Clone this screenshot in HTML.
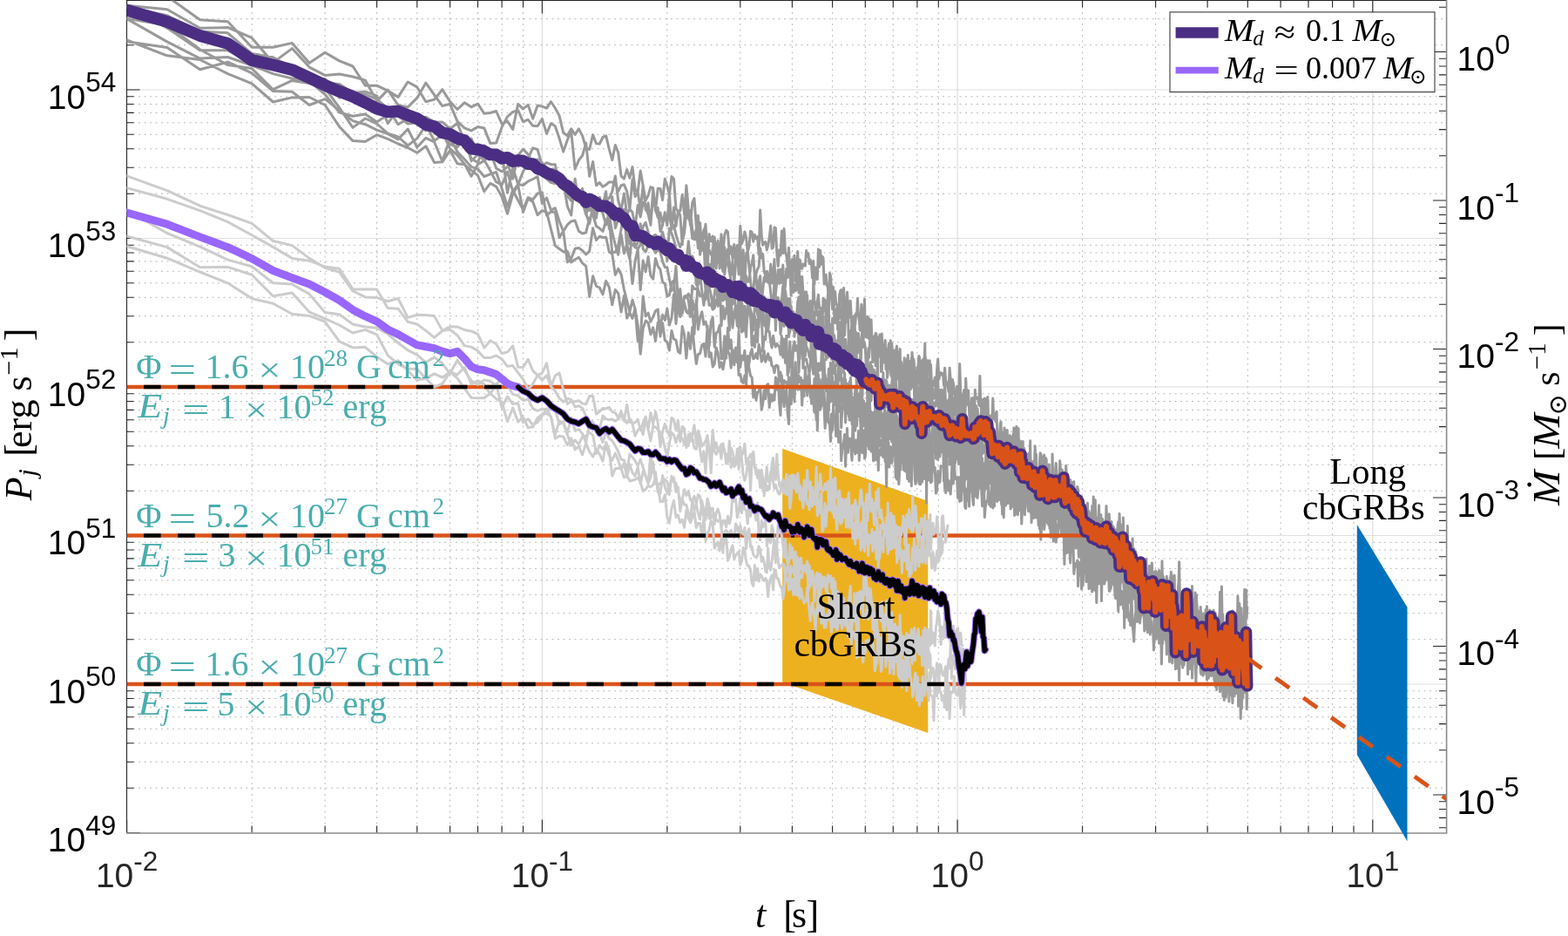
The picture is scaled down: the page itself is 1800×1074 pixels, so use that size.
<!DOCTYPE html><html><head><meta charset="utf-8"><title>Jet power vs time</title><style>html,body{margin:0;padding:0;background:#fff;overflow:hidden}svg{display:block}</style></head><body>
<svg width="1800" height="1074" viewBox="0 0 1800 1074">
<rect width="1800" height="1074" fill="#fff"/>
<defs><clipPath id="ax"><rect x="145.5" y="0.5" width="1514.5" height="955"/></clipPath></defs>
<path d="M622.4 1V955M1099.1 1V955M1575.8 1V955M146 785H1659M146 614.5H1659M146 444H1659M146 273.5H1659M146 103H1659" stroke="#dfdfdf" stroke-width="1.2" fill="none"/>
<path d="M289.1 1V955M373.1 1V955M432.6 1V955M478.8 1V955M516.6 1V955M548.5 1V955M576.1 1V955M600.5 1V955M765.9 1V955M849.8 1V955M909.4 1V955M955.6 1V955M993.3 1V955M1025.3 1V955M1052.9 1V955M1077.3 1V955M1242.6 1V955M1326.6 1V955M1386.1 1V955M1432.3 1V955M1470.1 1V955M1502 1V955M1529.6 1V955M1554 1V955M146 904.2H1659M146 874.2H1659M146 852.8H1659M146 836.3H1659M146 822.8H1659M146 811.4H1659M146 801.5H1659M146 792.8H1659M146 733.7H1659M146 703.7H1659M146 682.3H1659M146 665.8H1659M146 652.3H1659M146 640.9H1659M146 631H1659M146 622.3H1659M146 563.2H1659M146 533.2H1659M146 511.8H1659M146 495.3H1659M146 481.8H1659M146 470.4H1659M146 460.5H1659M146 451.8H1659M146 392.7H1659M146 362.7H1659M146 341.3H1659M146 324.8H1659M146 311.3H1659M146 299.9H1659M146 290H1659M146 281.3H1659M146 222.2H1659M146 192.2H1659M146 170.8H1659M146 154.3H1659M146 140.8H1659M146 129.4H1659M146 119.5H1659M146 110.8H1659M146 51.7H1659M146 21.7H1659" stroke="#b9b9b9" stroke-width="1" stroke-dasharray="2 4.5" fill="none"/>
<path d="M145.6 955.5v-15M145.6 0.5v15M289.1 955.5v-8M289.1 0.5v8M373.1 955.5v-8M373.1 0.5v8M432.6 955.5v-8M432.6 0.5v8M478.8 955.5v-8M478.8 0.5v8M516.6 955.5v-8M516.6 0.5v8M548.5 955.5v-8M548.5 0.5v8M576.1 955.5v-8M576.1 0.5v8M600.5 955.5v-8M600.5 0.5v8M622.4 955.5v-15M622.4 0.5v15M765.9 955.5v-8M765.9 0.5v8M849.8 955.5v-8M849.8 0.5v8M909.4 955.5v-8M909.4 0.5v8M955.6 955.5v-8M955.6 0.5v8M993.3 955.5v-8M993.3 0.5v8M1025.3 955.5v-8M1025.3 0.5v8M1052.9 955.5v-8M1052.9 0.5v8M1077.3 955.5v-8M1077.3 0.5v8M1099.1 955.5v-15M1099.1 0.5v15M1242.6 955.5v-8M1242.6 0.5v8M1326.6 955.5v-8M1326.6 0.5v8M1386.1 955.5v-8M1386.1 0.5v8M1432.3 955.5v-8M1432.3 0.5v8M1470.1 955.5v-8M1470.1 0.5v8M1502 955.5v-8M1502 0.5v8M1529.6 955.5v-8M1529.6 0.5v8M1554 955.5v-8M1554 0.5v8M1575.8 955.5v-15M1575.8 0.5v15M145.5 955.5h15M145.5 904.2h8M145.5 874.2h8M145.5 852.8h8M145.5 836.3h8M145.5 822.8h8M145.5 811.4h8M145.5 801.5h8M145.5 792.8h8M145.5 785h15M145.5 733.7h8M145.5 703.7h8M145.5 682.3h8M145.5 665.8h8M145.5 652.3h8M145.5 640.9h8M145.5 631h8M145.5 622.3h8M145.5 614.5h15M145.5 563.2h8M145.5 533.2h8M145.5 511.8h8M145.5 495.3h8M145.5 481.8h8M145.5 470.4h8M145.5 460.5h8M145.5 451.8h8M145.5 444h15M145.5 392.7h8M145.5 362.7h8M145.5 341.3h8M145.5 324.8h8M145.5 311.3h8M145.5 299.9h8M145.5 290h8M145.5 281.3h8M145.5 273.5h15M145.5 222.2h8M145.5 192.2h8M145.5 170.8h8M145.5 154.3h8M145.5 140.8h8M145.5 129.4h8M145.5 119.5h8M145.5 110.8h8M145.5 103h15M145.5 51.7h8M145.5 21.7h8M1660 949.8h-8M1660 938.4h-8M1660 928.5h-8M1660 919.8h-8M1660 912h-15M1660 860.7h-8M1660 830.6h-8M1660 809.3h-8M1660 792.8h-8M1660 779.3h-8M1660 767.9h-8M1660 758h-8M1660 749.3h-8M1660 741.5h-15M1660 690.2h-8M1660 660.1h-8M1660 638.8h-8M1660 622.3h-8M1660 608.8h-8M1660 597.4h-8M1660 587.5h-8M1660 578.8h-8M1660 571h-15M1660 519.7h-8M1660 489.6h-8M1660 468.3h-8M1660 451.8h-8M1660 438.3h-8M1660 426.9h-8M1660 417h-8M1660 408.3h-8M1660 400.5h-15M1660 349.2h-8M1660 319.1h-8M1660 297.8h-8M1660 281.3h-8M1660 267.8h-8M1660 256.4h-8M1660 246.5h-8M1660 237.8h-8M1660 230h-15M1660 178.7h-8M1660 148.6h-8M1660 127.3h-8M1660 110.8h-8M1660 97.3h-8M1660 85.9h-8M1660 76h-8M1660 67.3h-8M1660 59.5h-15M1660 8.2h-8" stroke="#262626" stroke-width="1.1" fill="none"/>
<path d="M145.5 956V0.5H1660" stroke="#262626" stroke-width="1.1" fill="none"/>
<path d="M145 956H1660.6V0" stroke="#8a8a8a" stroke-width="1.6" fill="none"/>
<g clip-path="url(#ax)" fill="none" stroke-linejoin="round" stroke-linecap="round">
<polygon points="898.2,514.7 1065.3,574.9 1065.3,841 898.2,782.7" fill="#edb120" stroke="none"/>
<path d="M145.6 -2.6L191.8 -4.2L229.6 22.8L261.5 24.8L289.1 54.2L313.5 54.2L335.3 49.4L355.1 72.3L373.1 60.3L389.6 69.9L405.0 76.0L419.3 98.3L432.6 98.2L445.2 104.1L457.0 111.4L468.2 94.0L478.8 99.9L488.9 116.8L498.6 114.1L507.8 102.7L516.6 116.5L525.0 125.5L533.2 117.8L541.0 122.8L548.5 119.1L555.8 130.3L562.8 129.5L569.6 127.5L576.1 142.2L582.5 139.1L588.7 148.4L594.7 119.4L600.5 124.9L606.2 120.4L611.7 136.2L617.1 120.9L622.4 122.1L627.5 124.2L632.5 116.7L637.3 124.0L642.1 132.8L646.7 152.3L651.3 155.8L655.7 147.7L660.1 154.4L664.4 147.9L668.6 155.9L672.7 169.8L676.7 171.4L680.6 154.8L684.5 164.7L688.3 165.0L692.0 157.5L695.7 155.9L699.3 171.1L702.8 183.6L706.3 166.5L709.7 175.0L713.1 202.2L716.4 205.1L719.7 194.6L722.9 204.2L726.0 191.5L729.1 217.0L732.2 220.3L735.2 195.9L738.2 213.3L741.2 230.0L744.1 224.4L746.9 214.6L749.7 215.7L752.5 242.0L755.2 216.3L758.0 216.4L760.6 229.5L763.3 205.2L765.9 213.5L768.4 223.7L771.0 202.6L773.5 205.3L776.0 239.7L778.4 242.1L780.8 242.1L783.2 223.4L785.6 246.3L787.9 212.8L790.3 239.2L792.5 258.4L794.8 232.3L797.0 227.5L799.3 260.2L801.4 247.2L803.6 292.2L805.8 278.9L807.9 272.8L810.0 257.3L812.1 291.9L814.1 286.8L816.2 291.5L818.2 295.5L820.2 272.0L822.2 298.3L824.1 300.0L826.1 297.8L828.0 268.8L829.9 290.8L831.8 269.4L833.7 264.3L835.5 266.3L837.4 291.7L839.2 282.7L841.0 297.0L842.8 280.4L844.6 302.6L846.3 281.6L848.1 296.9L849.8 259.3L851.5 279.8L853.2 274.9L854.9 265.9L856.6 272.6L858.3 289.3L859.9 282.6L861.6 265.3L863.2 266.5L864.8 277.2L866.4 269.3L868.0 273.8L869.6 271.7L871.1 292.1L872.7 241.1L874.2 269.8L875.7 281.3L877.2 278.7L878.8 277.6L880.3 286.9L881.7 281.7L883.2 272.8L884.7 259.1L886.1 285.2L887.6 284.0L889.0 260.9L890.4 261.7L891.8 290.4L893.2 305.4L894.6 286.8L896.0 293.1L897.4 265.0L898.8 290.6L900.1 262.6L901.5 289.6L902.8 293.2L904.1 305.4L905.5 284.3L906.8 315.2L908.1 308.6L909.4 297.6L910.7 311.2L912.0 293.2L913.2 322.8L914.5 309.0L915.8 288.5L917.0 336.0L918.2 298.0L919.5 306.1L920.7 308.2L921.9 303.1L923.1 303.2L924.4 305.1L925.6 287.5L926.7 294.2L927.9 290.7L929.1 302.6L930.3 298.1L931.5 303.2L932.6 319.0L933.8 299.4L934.9 326.3L936.1 307.1L937.2 307.4L938.3 320.5L939.4 285.9L940.6 306.3L941.7 287.2L942.8 303.3L943.9 294.2L945.0 295.9L946.1 326.0L947.1 319.4L948.2 315.3L949.3 328.0L950.3 327.6L951.4 359.4L952.5 313.4L953.5 316.7L954.5 331.6L955.6 343.1L956.6 329.6L957.6 349.8L958.7 334.4L959.7 348.7L960.7 350.1L961.7 351.7L962.7 353.8L963.7 342.1L964.7 333.6L965.7 332.6L966.7 338.1L967.6 357.5L968.6 330.4L969.6 365.5L970.6 352.9L971.5 346.9L972.5 335.3L973.4 347.4L974.4 362.7L975.3 364.3L976.3 345.2L977.2 362.9L978.1 379.3L979.0 363.7L980.0 370.4L980.9 362.1L981.8 372.2L982.7 359.4L983.6 361.5L984.5 342.5L985.4 361.9L986.3 367.5L987.2 379.1L988.1 362.2L989.0 349.2L989.9 373.6L990.7 369.1L991.6 374.2L992.5 343.3L993.3 386.2L994.2 386.9L995.1 371.9L995.9 363.2L996.8 388.3L997.6 365.6L998.4 383.3L999.3 372.3L1000.1 366.9L1001.0 393.3L1001.8 415.6L1002.6 401.5L1003.4 386.0L1004.3 392.3L1005.1 382.6L1005.9 382.8L1006.7 412.7L1007.5 406.3L1008.3 386.9L1009.1 400.8L1009.9 391.4L1010.7 394.7L1011.5 401.5L1012.3 383.1L1013.1 406.9L1013.9 396.4L1014.6 400.1L1015.4 397.4L1016.2 390.4L1017.0 424.0L1017.7 400.6L1018.5 433.6L1019.2 429.4L1020.0 396.0L1020.8 393.9L1021.5 420.5L1022.3 390.7L1023.0 412.6L1023.8 393.9L1024.5 432.3L1025.3 418.5L1026.0 401.7L1026.7 417.1L1027.5 440.0L1028.2 418.4L1028.9 435.9L1029.6 411.0L1030.4 416.2L1031.1 426.7L1031.8 428.9L1032.5 423.1L1033.2 400.4L1033.9 435.5L1034.6 454.9L1035.4 426.4L1036.1 446.2L1036.8 446.8L1037.5 440.2L1038.2 411.2L1038.8 416.2L1039.5 443.3L1040.2 422.7L1040.9 418.7L1041.6 411.3L1042.3 448.8L1043.0 425.4L1043.6 422.8L1044.3 438.4L1045.0 422.0L1045.7 446.4L1046.3 441.2L1047.0 404.5L1047.7 411.6L1048.3 436.9L1049.0 412.8L1049.6 421.2L1050.3 453.4L1050.9 444.7L1051.6 431.9L1052.3 433.0L1052.9 421.3L1053.5 427.9L1054.2 418.7L1054.8 408.4L1055.5 410.0L1056.1 447.5L1056.7 415.6L1057.4 414.0L1058.0 417.7L1058.6 439.6L1059.3 412.9L1059.9 423.3L1060.5 411.4L1061.1 418.1L1061.8 393.9L1062.4 457.0L1063.0 440.5L1063.6 421.8L1064.2 438.1L1064.8 413.8L1065.5 425.1L1066.1 426.5L1066.7 426.9L1067.3 413.7L1067.9 463.7L1068.5 418.3L1069.7 444.7L1070.9 437.9L1072.0 442.5L1073.2 433.2L1074.4 450.2L1075.6 424.0L1076.7 412.0L1077.9 435.1L1079.0 429.6L1080.1 427.6L1081.3 430.1L1082.4 428.5L1083.5 442.2L1084.6 422.2L1085.7 436.6L1086.8 439.2L1087.9 443.3L1089.0 449.5L1090.1 422.3L1091.2 434.9L1092.3 462.3L1093.3 435.6L1094.4 439.7L1095.4 446.6L1096.5 462.8L1097.5 464.3L1098.6 443.3L1099.6 458.2L1100.6 460.5L1101.7 417.5L1102.7 449.9L1103.7 458.8L1104.7 463.8L1105.7 454.7L1106.7 447.6L1107.7 475.2L1108.7 460.3L1109.7 454.5L1110.7 447.8L1111.7 448.2L1112.6 472.5L1113.6 489.3L1114.6 472.8L1115.5 469.9L1116.5 482.7L1117.4 465.1L1118.4 487.2L1119.3 447.2L1120.2 457.8L1121.2 456.6L1122.1 456.1L1123.0 459.2L1123.9 465.4L1124.9 431.4L1125.8 464.2L1126.7 470.5L1127.6 487.9L1128.5 468.9L1129.4 467.3L1130.3 485.5L1131.2 457.8L1132.0 474.0L1132.9 460.0L1133.8 455.4L1134.7 480.8L1135.6 477.1L1136.4 478.4L1137.3 500.7L1138.1 476.5L1139.0 480.7L1139.8 457.1L1140.7 481.0L1141.5 474.1L1142.4 481.7L1143.2 484.1L1144.1 472.2L1144.9 505.4L1145.7 531.7L1146.5 511.2L1147.4 504.4L1148.2 486.2L1149.0 483.8L1149.8 506.5L1150.6 523.0L1151.4 513.7L1152.2 510.9L1153.0 490.9L1153.8 498.0L1154.6 504.3L1155.4 502.4L1156.2 515.7L1157.0 502.1L1157.8 508.3L1158.5 515.3L1159.3 505.0L1160.1 503.4L1160.9 501.4L1161.6 507.4L1162.4 517.8L1163.1 497.9L1163.9 539.6L1164.7 514.0L1165.4 522.3L1166.2 521.2L1166.9 537.4L1167.7 532.4L1168.4 509.5L1169.1 522.6L1169.9 524.8L1170.6 533.5L1171.3 506.1L1172.1 517.5L1172.8 540.5L1173.5 515.6L1174.2 506.4L1175.0 538.5L1175.7 514.4L1176.4 518.5L1177.1 558.3L1177.8 523.5L1178.5 540.1L1179.2 533.1L1179.9 546.8L1180.6 539.2L1181.3 543.4L1182.0 532.9L1182.7 526.5L1183.4 530.2L1184.1 532.3L1184.8 534.1L1185.5 544.6L1186.1 529.7L1186.8 540.4L1187.5 531.2L1188.2 511.7L1188.8 533.1L1189.5 543.6L1190.2 545.0L1190.8 542.4L1191.5 545.8L1192.2 540.4L1192.8 545.0L1193.5 567.4L1194.1 526.9L1194.8 520.5L1195.4 538.6L1196.1 540.5L1196.7 540.1L1197.4 538.3L1198.0 569.7L1198.7 541.6L1199.3 564.7L1199.9 554.6L1200.6 539.3L1201.2 578.8L1201.8 559.8L1202.5 550.0L1203.1 544.8L1203.7 538.8L1204.3 563.0L1205.0 566.6L1205.6 560.9L1206.2 563.4L1206.8 543.9L1207.4 557.7L1208.1 520.9L1208.7 550.6L1209.3 551.1L1209.9 566.8L1210.5 567.6L1211.1 565.4L1211.7 573.6L1212.3 552.8L1213.2 564.2L1214.1 559.0L1215.0 551.3L1215.9 578.3L1216.7 555.2L1217.6 563.9L1218.5 545.8L1219.4 540.4L1220.2 551.6L1221.1 572.9L1221.9 587.4L1222.8 549.7L1223.7 555.2L1224.5 583.5L1225.4 544.0L1226.2 562.2L1227.0 576.8L1227.9 573.6L1228.7 550.4L1229.5 573.3L1230.4 561.6L1231.2 573.8L1232.0 573.0L1232.8 577.4L1233.6 580.1L1234.4 607.7L1235.2 578.4L1236.0 582.1L1236.8 568.1L1237.6 577.7L1238.4 575.2L1239.2 590.8L1240.0 590.1L1240.8 571.8L1241.6 591.4L1242.4 586.4L1243.1 601.5L1243.9 602.8L1244.7 603.7L1245.4 637.8L1246.2 583.2L1247.0 596.9L1247.7 629.2L1248.5 577.3L1249.2 600.1L1250.0 606.3L1250.7 609.5L1251.5 607.3L1252.2 593.0L1253.0 608.6L1253.7 602.6L1254.4 603.0L1255.2 599.3L1255.9 605.9L1256.6 613.8L1257.3 615.3L1258.1 603.8L1258.8 613.1L1259.5 620.6L1260.2 598.3L1260.9 618.8L1261.6 609.2L1262.4 630.0L1263.1 618.6L1263.8 590.4L1264.5 608.2L1265.2 606.3L1265.8 634.7L1266.5 624.5L1267.2 604.6L1267.9 608.7L1268.6 627.7L1269.3 607.8L1270.0 614.7L1270.7 619.7L1271.3 609.7L1272.0 616.1L1272.7 613.9L1273.3 625.5L1274.0 631.4L1274.7 615.2L1275.3 611.8L1276.0 633.3L1276.7 627.0L1277.3 612.1L1278.0 609.7L1278.6 626.7L1279.3 629.4L1279.9 650.7L1280.6 635.1L1281.2 629.1L1281.9 623.7L1282.5 614.5L1283.2 638.5L1283.8 619.2L1284.4 633.3L1285.1 625.9L1285.7 640.2L1286.3 601.8L1286.9 627.1L1287.6 666.2L1288.2 621.3L1288.8 664.6L1289.4 594.1L1290.1 628.9L1290.7 631.2L1291.3 629.0L1291.9 648.2L1292.5 627.5L1293.1 645.8L1293.7 656.1L1294.3 612.5L1294.9 642.6L1295.5 643.8L1296.1 629.6L1296.9 671.7L1297.7 660.4L1298.5 642.5L1299.3 653.0L1300.1 645.6L1300.9 651.3L1301.7 647.8L1302.4 666.8L1303.2 666.5L1304.0 661.0L1304.8 656.9L1305.5 672.7L1306.3 651.9L1307.0 655.2L1307.8 652.1L1308.6 666.9L1309.3 659.8L1310.1 669.6L1310.8 656.1L1311.5 684.9L1312.3 659.0L1313.0 658.8L1313.8 671.6L1314.5 680.7L1315.2 660.8L1315.9 668.3L1316.7 678.8L1317.4 679.5L1318.1 684.6L1318.8 687.8L1319.5 649.2L1320.3 657.5L1321.0 667.3L1321.7 671.0L1322.4 645.9L1323.1 689.1L1323.8 657.1L1324.5 670.5L1325.2 704.4L1325.9 679.7L1326.6 655.0L1327.3 695.5L1327.9 690.4L1328.6 663.8L1329.3 676.2L1330.0 697.9L1330.7 693.9L1331.3 704.2L1332.0 694.5L1332.7 665.4L1333.4 681.0L1334.0 643.8L1334.7 687.9L1335.4 679.3L1336.0 666.6L1336.7 691.3L1337.3 692.1L1338.0 688.8L1338.6 668.0L1339.3 670.4L1339.9 663.4L1340.6 688.9L1341.2 675.7L1341.9 680.6L1342.5 675.4L1343.1 675.5L1343.8 661.1L1344.4 685.0L1345.0 659.8L1345.7 666.6L1346.3 690.9L1346.9 675.2L1347.6 687.5L1348.2 660.2L1348.8 695.2L1349.4 681.8L1350.0 696.1L1350.6 711.0L1351.3 691.2L1351.9 710.1L1352.5 674.0L1353.1 666.2L1353.7 644.7L1354.3 682.7L1354.9 695.7L1355.5 702.8L1356.3 703.6L1357.0 707.6L1357.7 696.9L1358.5 693.2L1359.2 710.0L1360.0 701.4L1360.7 676.4L1361.4 677.6L1362.1 690.1L1362.9 698.3L1363.6 690.2L1364.3 689.7L1365.0 692.1L1365.8 707.8L1366.5 691.7L1367.2 690.8L1367.9 700.0L1368.6 672.5L1369.3 733.2L1370.0 692.9L1370.7 691.3L1371.4 708.9L1372.1 679.9L1372.8 717.9L1373.5 685.5L1374.1 698.0L1374.8 701.0L1375.5 704.3L1376.2 728.4L1376.9 712.4L1377.5 713.1L1378.2 696.4L1378.9 713.0L1379.6 722.7L1380.2 723.1L1380.9 705.0L1381.6 712.5L1382.2 703.8L1382.9 716.3L1383.5 723.3L1384.2 721.1L1384.8 706.9L1385.5 695.7L1386.1 732.2L1386.8 730.8L1387.4 718.5L1388.1 712.9L1388.7 700.1L1389.3 724.5L1390.0 704.4L1390.6 702.7L1391.2 715.2L1391.9 747.6L1392.5 704.6L1393.1 700.2L1393.8 705.0L1394.4 736.9L1395.0 703.0L1395.6 726.6L1396.2 731.5L1396.8 715.5L1397.5 727.2L1398.1 728.5L1398.7 708.0L1399.3 715.8L1399.9 724.6L1400.5 679.4L1401.1 717.7L1401.7 697.0L1402.4 673.0L1403.1 711.2L1403.9 704.9L1404.6 744.8L1405.3 729.8L1406.0 716.3L1406.7 722.6L1407.4 736.1L1408.1 718.4L1408.8 723.2L1409.5 706.1L1410.2 713.1L1410.9 704.2L1411.6 715.4L1412.2 724.4L1412.9 728.0L1413.6 709.1L1414.3 728.0L1415.0 700.9L1415.6 702.7L1416.3 738.8L1417.0 721.1L1417.6 734.3L1418.3 717.2L1419.0 754.5L1419.6 704.2L1420.3 727.6L1420.9 683.9L1421.6 705.5L1422.3 703.4L1422.9 692.6L1423.6 740.1L1424.2 730.6L1424.9 697.8L1425.5 726.4L1426.1 732.2L1426.8 708.5L1427.4 716.7L1428.0 717.8L1428.7 676.4L1429.3 704.2L1429.9 725.7L1430.6 676.8L1431.2 709.0L1431.8 696.6M145.6 6.2L191.8 10.8L229.6 32.3L261.5 31.5L289.1 43.4L313.5 71.9L335.3 55.6L355.1 77.1L373.1 86.4L389.6 85.0L405.0 88.0L419.3 92.1L432.6 116.1L445.2 103.1L457.0 120.6L468.2 122.9L478.8 112.4L488.9 95.1L498.6 108.8L507.8 121.6L516.6 119.3L525.0 139.2L533.2 146.9L541.0 149.9L548.5 145.6L555.8 146.9L562.8 164.4L569.6 164.0L576.1 145.9L582.5 133.9L588.7 128.4L594.7 126.7L600.5 139.7L606.2 137.4L611.7 144.2L617.1 144.8L622.4 136.4L627.5 153.4L632.5 141.6L637.3 144.7L642.1 158.8L646.7 174.1L651.3 160.7L655.7 150.9L660.1 193.9L664.4 183.8L668.6 178.5L672.7 164.0L676.7 202.3L680.6 185.5L684.5 212.8L688.3 209.5L692.0 214.3L695.7 212.0L699.3 208.9L702.8 208.9L706.3 210.6L709.7 219.5L713.1 212.7L716.4 211.8L719.7 219.6L722.9 240.0L726.0 206.0L729.1 225.6L732.2 220.3L735.2 240.4L738.2 212.0L741.2 241.0L744.1 232.9L746.9 258.4L749.7 217.2L752.5 239.5L755.2 238.3L758.0 265.4L760.6 258.2L763.3 243.6L765.9 258.8L768.4 221.4L771.0 263.6L773.5 237.9L776.0 259.6L778.4 242.5L780.8 246.7L783.2 280.6L785.6 254.6L787.9 224.2L790.3 250.8L792.5 241.2L794.8 263.9L797.0 272.0L799.3 262.5L801.4 284.8L803.6 281.6L805.8 275.5L807.9 264.2L810.0 260.0L812.1 311.2L814.1 268.5L816.2 276.9L818.2 271.1L820.2 301.8L822.2 278.9L824.1 294.9L826.1 304.7L828.0 298.1L829.9 311.6L831.8 283.8L833.7 296.9L835.5 286.0L837.4 301.8L839.2 315.7L841.0 299.5L842.8 326.4L844.6 301.4L846.3 287.0L848.1 315.0L849.8 280.4L851.5 335.0L853.2 286.8L854.9 342.4L856.6 316.5L858.3 323.2L859.9 323.1L861.6 306.9L863.2 302.2L864.8 292.8L866.4 319.4L868.0 313.9L869.6 308.7L871.1 305.9L872.7 284.8L874.2 296.0L875.7 291.6L877.2 311.2L878.8 317.0L880.3 311.2L881.7 315.4L883.2 325.5L884.7 303.0L886.1 324.9L887.6 312.9L889.0 297.6L890.4 337.0L891.8 323.5L893.2 309.4L894.6 325.4L896.0 309.0L897.4 324.5L898.8 304.1L900.1 337.0L901.5 328.1L902.8 308.2L904.1 318.6L905.5 305.1L906.8 306.3L908.1 339.1L909.4 307.6L910.7 335.5L912.0 326.3L913.2 333.7L914.5 332.3L915.8 293.2L917.0 313.4L918.2 318.9L919.5 345.4L920.7 317.2L921.9 334.5L923.1 372.0L924.4 335.1L925.6 334.9L926.7 359.6L927.9 360.4L929.1 352.0L930.3 345.2L931.5 354.9L932.6 378.0L933.8 320.8L934.9 345.8L936.1 347.6L937.2 361.4L938.3 346.2L939.4 338.3L940.6 353.7L941.7 353.1L942.8 354.3L943.9 374.0L945.0 342.3L946.1 356.3L947.1 344.1L948.2 365.4L949.3 386.4L950.3 338.2L951.4 341.6L952.5 327.9L953.5 335.0L954.5 338.1L955.6 355.0L956.6 335.3L957.6 361.2L958.7 370.7L959.7 359.3L960.7 353.3L961.7 378.2L962.7 361.0L963.7 337.3L964.7 365.0L965.7 355.1L966.7 384.9L967.6 380.6L968.6 357.5L969.6 385.0L970.6 363.6L971.5 369.4L972.5 335.3L973.4 349.7L974.4 403.2L975.3 379.3L976.3 383.6L977.2 382.0L978.1 366.9L979.0 401.6L980.0 373.0L980.9 368.6L981.8 384.4L982.7 396.0L983.6 393.9L984.5 405.1L985.4 382.4L986.3 390.0L987.2 395.8L988.1 419.2L989.0 394.9L989.9 370.0L990.7 378.7L991.6 398.5L992.5 393.2L993.3 398.7L994.2 418.3L995.1 431.8L995.9 419.6L996.8 399.7L997.6 410.3L998.4 394.5L999.3 379.5L1000.1 397.8L1001.0 394.3L1001.8 400.2L1002.6 394.7L1003.4 391.7L1004.3 391.8L1005.1 419.7L1005.9 396.5L1006.7 410.1L1007.5 391.2L1008.3 397.5L1009.1 409.1L1009.9 384.0L1010.7 394.1L1011.5 426.4L1012.3 425.3L1013.1 401.5L1013.9 416.1L1014.6 404.7L1015.4 413.5L1016.2 406.4L1017.0 422.9L1017.7 420.4L1018.5 419.9L1019.2 400.9L1020.0 415.9L1020.8 413.0L1021.5 398.4L1022.3 422.8L1023.0 431.4L1023.8 422.4L1024.5 449.1L1025.3 423.1L1026.0 426.4L1026.7 417.4L1027.5 406.0L1028.2 406.8L1028.9 400.4L1029.6 397.1L1030.4 434.5L1031.1 403.8L1031.8 422.6L1032.5 449.8L1033.2 442.4L1033.9 447.1L1034.6 415.5L1035.4 431.7L1036.1 447.5L1036.8 443.6L1037.5 423.8L1038.2 410.8L1038.8 435.2L1039.5 451.4L1040.2 426.9L1040.9 421.0L1041.6 441.8L1042.3 407.5L1043.0 441.7L1043.6 443.5L1044.3 424.9L1045.0 414.2L1045.7 440.2L1046.3 410.8L1047.0 444.1L1047.7 421.2L1048.3 411.7L1049.0 422.9L1049.6 455.2L1050.3 433.7L1050.9 427.1L1051.6 440.1L1052.3 444.7L1052.9 426.5L1053.5 439.2L1054.2 438.2L1054.8 431.4L1055.5 434.2L1056.1 455.6L1056.7 417.3L1057.4 443.0L1058.0 445.1L1058.6 417.0L1059.3 459.3L1059.9 430.2L1060.5 443.3L1061.1 430.4L1061.8 439.1L1062.4 410.1L1063.0 443.1L1063.6 435.5L1064.2 449.1L1064.8 459.1L1065.5 458.9L1066.1 439.9L1066.7 438.5L1067.3 434.5L1067.9 450.1L1068.5 454.3L1069.7 455.1L1070.9 446.0L1072.0 457.2L1073.2 451.7L1074.4 454.9L1075.6 432.2L1076.7 433.1L1077.9 488.2L1079.0 447.4L1080.1 464.5L1081.3 447.2L1082.4 467.5L1083.5 458.6L1084.6 440.9L1085.7 464.2L1086.8 462.5L1087.9 459.8L1089.0 489.3L1090.1 450.1L1091.2 456.6L1092.3 486.2L1093.3 474.1L1094.4 457.3L1095.4 463.5L1096.5 476.9L1097.5 458.3L1098.6 501.5L1099.6 459.4L1100.6 457.1L1101.7 452.5L1102.7 473.6L1103.7 472.0L1104.7 472.9L1105.7 455.2L1106.7 471.3L1107.7 482.0L1108.7 434.3L1109.7 456.1L1110.7 464.0L1111.7 464.4L1112.6 467.8L1113.6 462.4L1114.6 478.4L1115.5 457.1L1116.5 456.5L1117.4 473.5L1118.4 483.9L1119.3 494.1L1120.2 477.1L1121.2 473.4L1122.1 468.6L1123.0 480.9L1123.9 483.7L1124.9 481.9L1125.8 480.4L1126.7 468.6L1127.6 468.8L1128.5 458.5L1129.4 463.7L1130.3 456.9L1131.2 458.8L1132.0 486.7L1132.9 485.8L1133.8 504.4L1134.7 476.0L1135.6 492.3L1136.4 499.0L1137.3 493.1L1138.1 490.4L1139.0 491.5L1139.8 531.9L1140.7 502.0L1141.5 535.0L1142.4 501.4L1143.2 507.2L1144.1 525.5L1144.9 516.6L1145.7 505.6L1146.5 503.1L1147.4 520.6L1148.2 489.5L1149.0 528.6L1149.8 497.7L1150.6 496.1L1151.4 504.6L1152.2 544.4L1153.0 502.4L1153.8 504.2L1154.6 509.7L1155.4 509.0L1156.2 524.4L1157.0 518.8L1157.8 515.1L1158.5 503.7L1159.3 499.6L1160.1 528.8L1160.9 512.6L1161.6 526.1L1162.4 532.8L1163.1 518.4L1163.9 504.7L1164.7 553.5L1165.4 535.3L1166.2 522.6L1166.9 503.4L1167.7 536.7L1168.4 534.1L1169.1 563.0L1169.9 540.3L1170.6 542.8L1171.3 511.8L1172.1 534.4L1172.8 522.9L1173.5 563.2L1174.2 517.7L1175.0 518.0L1175.7 529.6L1176.4 538.9L1177.1 556.2L1177.8 534.4L1178.5 521.0L1179.2 537.5L1179.9 525.7L1180.6 554.0L1181.3 545.4L1182.0 538.7L1182.7 505.7L1183.4 556.3L1184.1 535.5L1184.8 536.1L1185.5 538.9L1186.1 541.8L1186.8 550.5L1187.5 555.0L1188.2 574.5L1188.8 571.8L1189.5 549.9L1190.2 565.2L1190.8 571.3L1191.5 538.6L1192.2 549.8L1192.8 558.8L1193.5 529.9L1194.1 519.8L1194.8 558.6L1195.4 563.9L1196.1 540.3L1196.7 555.9L1197.4 563.3L1198.0 541.7L1198.7 560.3L1199.3 536.4L1199.9 540.6L1200.6 525.5L1201.2 564.7L1201.8 566.5L1202.5 557.4L1203.1 545.0L1203.7 547.8L1204.3 533.0L1205.0 567.5L1205.6 593.0L1206.2 551.1L1206.8 560.3L1207.4 549.9L1208.1 558.6L1208.7 576.7L1209.3 561.5L1209.9 577.0L1210.5 556.3L1211.1 585.2L1211.7 537.2L1212.3 531.5L1213.2 547.1L1214.1 569.4L1215.0 560.5L1215.9 556.9L1216.7 528.8L1217.6 540.7L1218.5 567.7L1219.4 579.7L1220.2 565.6L1221.1 584.9L1221.9 560.8L1222.8 560.7L1223.7 586.8L1224.5 556.5L1225.4 577.1L1226.2 596.6L1227.0 576.1L1227.9 579.5L1228.7 564.3L1229.5 553.1L1230.4 582.5L1231.2 575.4L1232.0 573.1L1232.8 580.4L1233.6 600.3L1234.4 605.0L1235.2 580.3L1236.0 587.2L1236.8 611.4L1237.6 595.4L1238.4 588.5L1239.2 595.2L1240.0 583.0L1240.8 596.0L1241.6 590.7L1242.4 603.6L1243.1 592.9L1243.9 612.9L1244.7 591.0L1245.4 579.3L1246.2 602.2L1247.0 628.4L1247.7 599.9L1248.5 598.5L1249.2 627.2L1250.0 586.6L1250.7 597.8L1251.5 598.4L1252.2 593.5L1253.0 625.3L1253.7 608.8L1254.4 621.6L1255.2 570.1L1255.9 604.0L1256.6 613.2L1257.3 573.8L1258.1 605.8L1258.8 621.2L1259.5 607.4L1260.2 595.9L1260.9 600.0L1261.6 579.7L1262.4 647.5L1263.1 620.4L1263.8 596.6L1264.5 616.2L1265.2 601.3L1265.8 614.2L1266.5 610.0L1267.2 604.7L1267.9 650.0L1268.6 600.4L1269.3 606.0L1270.0 580.4L1270.7 602.0L1271.3 621.8L1272.0 600.6L1272.7 623.3L1273.3 604.9L1274.0 618.9L1274.7 629.5L1275.3 624.6L1276.0 649.4L1276.7 622.9L1277.3 630.8L1278.0 621.5L1278.6 610.9L1279.3 620.3L1279.9 617.3L1280.6 631.0L1281.2 649.0L1281.9 616.0L1282.5 617.1L1283.2 601.5L1283.8 637.1L1284.4 630.2L1285.1 659.5L1285.7 650.6L1286.3 623.2L1286.9 621.6L1287.6 631.8L1288.2 626.6L1288.8 618.5L1289.4 630.2L1290.1 621.1L1290.7 635.3L1291.3 671.8L1291.9 643.8L1292.5 626.1L1293.1 630.1L1293.7 661.8L1294.3 639.1L1294.9 665.7L1295.5 624.4L1296.1 656.4L1296.9 632.2L1297.7 662.2L1298.5 650.8L1299.3 663.3L1300.1 670.2L1300.9 662.7L1301.7 652.5L1302.4 633.6L1303.2 656.9L1304.0 664.2L1304.8 658.5L1305.5 692.3L1306.3 660.2L1307.0 674.3L1307.8 657.0L1308.6 649.2L1309.3 652.6L1310.1 679.5L1310.8 643.8L1311.5 652.3L1312.3 647.8L1313.0 695.6L1313.8 706.4L1314.5 673.1L1315.2 653.3L1315.9 664.1L1316.7 681.5L1317.4 678.5L1318.1 669.7L1318.8 674.6L1319.5 652.5L1320.3 668.8L1321.0 689.8L1321.7 676.1L1322.4 680.3L1323.1 683.6L1323.8 700.6L1324.5 680.6L1325.2 693.9L1325.9 688.8L1326.6 678.9L1327.3 663.0L1327.9 657.1L1328.6 676.0L1329.3 691.9L1330.0 659.8L1330.7 678.1L1331.3 665.5L1332.0 684.5L1332.7 675.2L1333.4 693.9L1334.0 661.7L1334.7 675.8L1335.4 661.7L1336.0 677.9L1336.7 698.6L1337.3 678.3L1338.0 676.2L1338.6 668.7L1339.3 661.3L1339.9 683.5L1340.6 677.3L1341.2 702.3L1341.9 685.0L1342.5 679.0L1343.1 681.8L1343.8 677.6L1344.4 656.3L1345.0 677.9L1345.7 687.1L1346.3 714.5L1346.9 697.7L1347.6 700.7L1348.2 692.4L1348.8 719.1L1349.4 683.6L1350.0 714.0L1350.6 730.5L1351.3 689.1L1351.9 718.4L1352.5 717.9L1353.1 717.7L1353.7 680.6L1354.3 675.1L1354.9 709.1L1355.5 705.1L1356.3 710.5L1357.0 696.5L1357.7 708.6L1358.5 692.5L1359.2 706.2L1360.0 686.1L1360.7 717.7L1361.4 703.6L1362.1 716.8L1362.9 728.5L1363.6 726.7L1364.3 703.7L1365.0 717.7L1365.8 683.9L1366.5 734.5L1367.2 727.3L1367.9 700.5L1368.6 727.4L1369.3 714.2L1370.0 706.5L1370.7 737.9L1371.4 704.7L1372.1 714.9L1372.8 756.5L1373.5 746.3L1374.1 693.8L1374.8 746.6L1375.5 721.9L1376.2 704.9L1376.9 724.8L1377.5 718.1L1378.2 741.9L1378.9 749.6L1379.6 749.2L1380.2 724.1L1380.9 728.3L1381.6 728.4L1382.2 728.1L1382.9 757.6L1383.5 732.1L1384.2 710.5L1384.8 723.4L1385.5 732.4L1386.1 712.8L1386.8 724.7L1387.4 717.0L1388.1 716.1L1388.7 725.0L1389.3 758.0L1390.0 705.2L1390.6 728.4L1391.2 726.8L1391.9 734.6L1392.5 737.3L1393.1 731.3L1393.8 719.8L1394.4 720.6L1395.0 755.0L1395.6 713.7L1396.2 712.8L1396.8 751.3L1397.5 721.7L1398.1 751.8L1398.7 709.2L1399.3 746.6L1399.9 714.6L1400.5 743.5L1401.1 755.2L1401.7 693.5L1402.4 723.6L1403.1 750.7L1403.9 723.8L1404.6 728.1L1405.3 733.5L1406.0 738.9L1406.7 769.3L1407.4 740.2L1408.1 719.1L1408.8 729.5L1409.5 709.9L1410.2 748.1L1410.9 763.2L1411.6 734.8L1412.2 770.8L1412.9 755.9L1413.6 730.4L1414.3 781.1L1415.0 751.1L1415.6 744.1L1416.3 760.0L1417.0 713.7L1417.6 725.8L1418.3 738.7L1419.0 723.3L1419.6 717.8L1420.3 756.0L1420.9 755.3L1421.6 722.4L1422.3 719.0L1422.9 746.2L1423.6 761.0L1424.2 740.2L1424.9 745.8L1425.5 744.1L1426.1 744.6L1426.8 748.1L1427.4 734.8L1428.0 721.8L1428.7 778.7L1429.3 754.2L1429.9 728.9L1430.6 724.1L1431.2 725.5L1431.8 737.1M145.6 8.0L191.8 17.8L229.6 35.9L261.5 37.8L289.1 61.6L313.5 65.7L335.3 77.8L355.1 89.2L373.1 94.9L389.6 96.4L405.0 106.6L419.3 105.2L432.6 109.9L445.2 141.7L457.0 125.3L468.2 133.2L478.8 137.2L488.9 134.2L498.6 140.3L507.8 140.1L516.6 147.7L525.0 141.5L533.2 161.8L541.0 159.3L548.5 173.9L555.8 170.0L562.8 171.9L569.6 172.5L576.1 182.0L582.5 187.0L588.7 205.2L594.7 178.3L600.5 171.1L606.2 177.1L611.7 186.2L617.1 182.8L622.4 190.4L627.5 192.8L632.5 194.8L637.3 194.0L642.1 203.5L646.7 208.3L651.3 236.5L655.7 247.0L660.1 205.3L664.4 232.1L668.6 231.3L672.7 246.4L676.7 233.0L680.6 246.4L684.5 239.4L688.3 237.5L692.0 238.5L695.7 229.8L699.3 227.4L702.8 219.8L706.3 202.0L709.7 230.3L713.1 241.5L716.4 222.0L719.7 245.4L722.9 239.9L726.0 243.4L729.1 260.7L732.2 235.4L735.2 248.8L738.2 232.4L741.2 237.8L744.1 246.0L746.9 257.6L749.7 225.2L752.5 240.5L755.2 249.6L758.0 244.1L760.6 256.0L763.3 250.3L765.9 252.4L768.4 246.4L771.0 262.0L773.5 258.3L776.0 269.5L778.4 276.9L780.8 283.4L783.2 277.4L785.6 267.5L787.9 242.2L790.3 250.8L792.5 254.1L794.8 273.6L797.0 274.5L799.3 274.9L801.4 263.9L803.6 255.7L805.8 287.4L807.9 278.4L810.0 320.6L812.1 323.3L814.1 303.2L816.2 314.7L818.2 284.3L820.2 299.9L822.2 308.0L824.1 275.9L826.1 308.1L828.0 297.2L829.9 273.4L831.8 315.0L833.7 298.6L835.5 301.2L837.4 312.2L839.2 323.3L841.0 323.4L842.8 322.5L844.6 300.0L846.3 291.6L848.1 305.3L849.8 309.0L851.5 310.5L853.2 320.3L854.9 324.7L856.6 291.2L858.3 288.2L859.9 305.8L861.6 322.5L863.2 337.1L864.8 334.2L866.4 312.6L868.0 316.6L869.6 341.9L871.1 323.1L872.7 316.8L874.2 349.1L875.7 332.5L877.2 318.3L878.8 323.0L880.3 318.8L881.7 324.2L883.2 322.0L884.7 335.6L886.1 349.7L887.6 349.5L889.0 320.2L890.4 339.7L891.8 361.6L893.2 341.5L894.6 367.7L896.0 345.1L897.4 343.6L898.8 361.3L900.1 356.1L901.5 333.5L902.8 343.8L904.1 349.3L905.5 353.0L906.8 342.5L908.1 362.3L909.4 357.0L910.7 370.8L912.0 377.6L913.2 366.2L914.5 381.6L915.8 372.7L917.0 370.6L918.2 380.9L919.5 389.5L920.7 376.9L921.9 369.5L923.1 373.1L924.4 408.4L925.6 364.5L926.7 338.9L927.9 376.3L929.1 376.4L930.3 373.9L931.5 370.3L932.6 392.0L933.8 368.7L934.9 379.0L936.1 392.8L937.2 368.8L938.3 383.9L939.4 376.5L940.6 387.6L941.7 382.6L942.8 393.4L943.9 422.5L945.0 404.0L946.1 401.1L947.1 374.9L948.2 391.9L949.3 397.3L950.3 400.5L951.4 393.4L952.5 397.7L953.5 408.0L954.5 412.2L955.6 370.4L956.6 428.7L957.6 384.8L958.7 393.6L959.7 410.9L960.7 419.6L961.7 406.5L962.7 378.1L963.7 392.4L964.7 369.9L965.7 378.2L966.7 402.0L967.6 378.3L968.6 412.1L969.6 421.9L970.6 416.6L971.5 415.3L972.5 397.2L973.4 399.7L974.4 397.9L975.3 427.0L976.3 423.5L977.2 379.8L978.1 422.7L979.0 394.1L980.0 419.5L980.9 395.6L981.8 417.3L982.7 381.3L983.6 423.5L984.5 415.2L985.4 414.4L986.3 432.8L987.2 416.0L988.1 423.7L989.0 416.3L989.9 435.4L990.7 429.2L991.6 427.7L992.5 418.9L993.3 424.5L994.2 416.8L995.1 437.3L995.9 411.9L996.8 434.6L997.6 424.9L998.4 437.6L999.3 415.6L1000.1 459.8L1001.0 437.1L1001.8 432.5L1002.6 430.9L1003.4 451.5L1004.3 443.7L1005.1 466.4L1005.9 442.4L1006.7 455.9L1007.5 457.6L1008.3 459.6L1009.1 467.7L1009.9 448.7L1010.7 461.8L1011.5 435.9L1012.3 448.9L1013.1 439.8L1013.9 430.6L1014.6 451.7L1015.4 473.2L1016.2 435.9L1017.0 445.0L1017.7 448.0L1018.5 467.5L1019.2 461.8L1020.0 471.7L1020.8 461.0L1021.5 444.4L1022.3 480.5L1023.0 463.4L1023.8 460.9L1024.5 444.2L1025.3 483.7L1026.0 471.3L1026.7 442.6L1027.5 448.2L1028.2 432.6L1028.9 449.0L1029.6 460.2L1030.4 468.6L1031.1 447.1L1031.8 466.9L1032.5 449.2L1033.2 453.4L1033.9 435.3L1034.6 420.8L1035.4 468.0L1036.1 457.8L1036.8 434.3L1037.5 467.1L1038.2 455.4L1038.8 437.2L1039.5 474.4L1040.2 470.7L1040.9 463.1L1041.6 464.7L1042.3 444.7L1043.0 441.6L1043.6 446.6L1044.3 462.4L1045.0 480.1L1045.7 477.8L1046.3 471.5L1047.0 495.1L1047.7 460.6L1048.3 458.3L1049.0 457.7L1049.6 478.9L1050.3 453.5L1050.9 478.5L1051.6 448.1L1052.3 469.8L1052.9 455.7L1053.5 445.5L1054.2 455.2L1054.8 461.0L1055.5 460.6L1056.1 445.2L1056.7 471.3L1057.4 442.5L1058.0 432.5L1058.6 459.1L1059.3 485.9L1059.9 473.1L1060.5 459.4L1061.1 453.3L1061.8 420.2L1062.4 425.6L1063.0 468.9L1063.6 450.4L1064.2 453.9L1064.8 459.5L1065.5 445.9L1066.1 445.1L1066.7 460.0L1067.3 448.6L1067.9 451.4L1068.5 472.3L1069.7 441.9L1070.9 482.3L1072.0 462.3L1073.2 462.1L1074.4 466.1L1075.6 444.2L1076.7 441.1L1077.9 475.2L1079.0 478.1L1080.1 457.5L1081.3 453.4L1082.4 482.3L1083.5 479.1L1084.6 445.0L1085.7 472.4L1086.8 504.4L1087.9 476.0L1089.0 458.7L1090.1 478.5L1091.2 493.4L1092.3 467.7L1093.3 461.4L1094.4 488.6L1095.4 480.6L1096.5 489.5L1097.5 495.5L1098.6 445.5L1099.6 468.9L1100.6 496.3L1101.7 456.7L1102.7 476.4L1103.7 465.8L1104.7 486.4L1105.7 486.0L1106.7 469.6L1107.7 458.0L1108.7 504.8L1109.7 486.5L1110.7 495.3L1111.7 500.8L1112.6 504.7L1113.6 478.6L1114.6 478.2L1115.5 486.1L1116.5 481.3L1117.4 474.5L1118.4 481.1L1119.3 482.8L1120.2 465.2L1121.2 469.7L1122.1 474.5L1123.0 477.7L1123.9 480.8L1124.9 489.1L1125.8 500.4L1126.7 491.2L1127.6 519.7L1128.5 474.6L1129.4 490.4L1130.3 495.2L1131.2 506.4L1132.0 492.3L1132.9 461.8L1133.8 492.5L1134.7 481.3L1135.6 511.8L1136.4 497.7L1137.3 481.1L1138.1 502.9L1139.0 517.8L1139.8 501.6L1140.7 504.6L1141.5 547.2L1142.4 518.3L1143.2 511.5L1144.1 501.4L1144.9 502.1L1145.7 520.6L1146.5 533.3L1147.4 554.1L1148.2 513.5L1149.0 539.9L1149.8 516.3L1150.6 512.7L1151.4 522.2L1152.2 541.9L1153.0 507.1L1153.8 524.7L1154.6 502.2L1155.4 506.7L1156.2 493.6L1157.0 534.9L1157.8 522.3L1158.5 542.8L1159.3 507.5L1160.1 535.8L1160.9 535.2L1161.6 530.6L1162.4 515.5L1163.1 521.8L1163.9 490.9L1164.7 498.6L1165.4 534.2L1166.2 523.4L1166.9 489.2L1167.7 525.0L1168.4 525.1L1169.1 491.4L1169.9 537.0L1170.6 553.2L1171.3 540.7L1172.1 528.8L1172.8 521.4L1173.5 523.2L1174.2 546.8L1175.0 535.1L1175.7 543.2L1176.4 525.2L1177.1 537.0L1177.8 529.7L1178.5 542.2L1179.2 557.3L1179.9 554.1L1180.6 547.0L1181.3 519.9L1182.0 542.4L1182.7 533.1L1183.4 550.5L1184.1 545.8L1184.8 537.9L1185.5 548.6L1186.1 536.8L1186.8 532.2L1187.5 570.4L1188.2 522.0L1188.8 523.9L1189.5 562.8L1190.2 561.4L1190.8 549.3L1191.5 537.1L1192.2 567.9L1192.8 563.4L1193.5 565.9L1194.1 555.5L1194.8 571.1L1195.4 561.2L1196.1 540.6L1196.7 532.8L1197.4 558.0L1198.0 552.4L1198.7 522.1L1199.3 552.3L1199.9 579.2L1200.6 541.9L1201.2 562.6L1201.8 551.1L1202.5 547.5L1203.1 556.7L1203.7 544.7L1204.3 544.1L1205.0 549.5L1205.6 568.1L1206.2 564.0L1206.8 553.4L1207.4 555.0L1208.1 566.4L1208.7 543.1L1209.3 552.1L1209.9 553.6L1210.5 558.1L1211.1 582.6L1211.7 578.0L1212.3 570.0L1213.2 544.2L1214.1 560.1L1215.0 576.7L1215.9 563.7L1216.7 571.8L1217.6 569.8L1218.5 567.1L1219.4 559.8L1220.2 592.5L1221.1 556.6L1221.9 553.6L1222.8 560.2L1223.7 534.3L1224.5 547.5L1225.4 564.9L1226.2 566.8L1227.0 555.5L1227.9 572.5L1228.7 554.4L1229.5 587.4L1230.4 580.3L1231.2 608.1L1232.0 554.7L1232.8 552.6L1233.6 574.6L1234.4 568.9L1235.2 566.5L1236.0 594.1L1236.8 558.6L1237.6 561.7L1238.4 602.2L1239.2 609.9L1240.0 611.5L1240.8 603.7L1241.6 570.2L1242.4 582.9L1243.1 596.9L1243.9 588.2L1244.7 609.8L1245.4 586.2L1246.2 598.0L1247.0 601.8L1247.7 615.4L1248.5 617.4L1249.2 591.1L1250.0 589.4L1250.7 596.5L1251.5 595.1L1252.2 589.1L1253.0 624.0L1253.7 580.5L1254.4 616.8L1255.2 596.5L1255.9 586.9L1256.6 630.9L1257.3 601.2L1258.1 605.9L1258.8 593.9L1259.5 636.5L1260.2 622.8L1260.9 615.5L1261.6 584.0L1262.4 606.0L1263.1 635.1L1263.8 625.6L1264.5 630.8L1265.2 609.4L1265.8 595.6L1266.5 608.3L1267.2 625.2L1267.9 628.6L1268.6 608.5L1269.3 613.1L1270.0 594.0L1270.7 603.3L1271.3 605.1L1272.0 621.9L1272.7 612.6L1273.3 589.7L1274.0 608.5L1274.7 610.1L1275.3 635.1L1276.0 598.6L1276.7 638.9L1277.3 620.5L1278.0 608.5L1278.6 605.5L1279.3 607.5L1279.9 636.6L1280.6 631.1L1281.2 658.1L1281.9 631.8L1282.5 632.2L1283.2 623.1L1283.8 598.8L1284.4 623.9L1285.1 589.6L1285.7 608.3L1286.3 625.9L1286.9 651.9L1287.6 615.4L1288.2 607.0L1288.8 632.0L1289.4 628.6L1290.1 621.3L1290.7 631.6L1291.3 634.3L1291.9 635.9L1292.5 651.6L1293.1 636.6L1293.7 652.1L1294.3 603.5L1294.9 629.6L1295.5 642.0L1296.1 657.2L1296.9 624.9L1297.7 644.8L1298.5 656.1L1299.3 632.0L1300.1 630.7L1300.9 672.6L1301.7 629.6L1302.4 636.5L1303.2 660.3L1304.0 633.5L1304.8 675.7L1305.5 675.7L1306.3 657.6L1307.0 666.8L1307.8 666.8L1308.6 666.7L1309.3 665.9L1310.1 697.1L1310.8 664.4L1311.5 700.4L1312.3 660.6L1313.0 658.1L1313.8 672.4L1314.5 647.6L1315.2 690.7L1315.9 641.5L1316.7 689.5L1317.4 700.1L1318.1 685.4L1318.8 658.8L1319.5 686.2L1320.3 656.7L1321.0 668.2L1321.7 700.0L1322.4 660.1L1323.1 687.2L1323.8 685.2L1324.5 669.3L1325.2 693.0L1325.9 682.4L1326.6 714.1L1327.3 657.7L1327.9 670.4L1328.6 693.5L1329.3 697.3L1330.0 656.1L1330.7 654.5L1331.3 700.7L1332.0 663.0L1332.7 668.6L1333.4 662.4L1334.0 720.3L1334.7 659.6L1335.4 702.7L1336.0 677.7L1336.7 668.2L1337.3 695.1L1338.0 687.4L1338.6 679.4L1339.3 695.6L1339.9 682.2L1340.6 702.5L1341.2 687.0L1341.9 713.2L1342.5 687.4L1343.1 702.9L1343.8 697.4L1344.4 690.3L1345.0 659.5L1345.7 692.5L1346.3 712.5L1346.9 695.6L1347.6 688.2L1348.2 732.8L1348.8 682.1L1349.4 710.8L1350.0 703.5L1350.6 709.2L1351.3 699.8L1351.9 686.5L1352.5 704.9L1353.1 722.8L1353.7 673.3L1354.3 705.8L1354.9 690.2L1355.5 690.4L1356.3 696.1L1357.0 726.3L1357.7 736.7L1358.5 697.2L1359.2 716.1L1360.0 714.0L1360.7 719.3L1361.4 707.7L1362.1 714.2L1362.9 691.9L1363.6 689.4L1364.3 698.0L1365.0 709.2L1365.8 684.8L1366.5 702.5L1367.2 705.1L1367.9 743.3L1368.6 686.0L1369.3 688.3L1370.0 713.6L1370.7 707.1L1371.4 723.4L1372.1 720.2L1372.8 716.4L1373.5 682.4L1374.1 729.6L1374.8 718.5L1375.5 728.5L1376.2 728.1L1376.9 750.0L1377.5 723.6L1378.2 759.8L1378.9 702.4L1379.6 736.3L1380.2 716.0L1380.9 757.0L1381.6 726.9L1382.2 732.8L1382.9 737.8L1383.5 726.4L1384.2 699.4L1384.8 747.4L1385.5 722.4L1386.1 732.5L1386.8 732.7L1387.4 712.2L1388.1 744.8L1388.7 745.5L1389.3 762.5L1390.0 748.4L1390.6 747.6L1391.2 727.4L1391.9 736.3L1392.5 723.9L1393.1 747.7L1393.8 756.8L1394.4 742.4L1395.0 752.9L1395.6 728.2L1396.2 747.7L1396.8 761.1L1397.5 732.9L1398.1 738.8L1398.7 740.7L1399.3 751.8L1399.9 703.7L1400.5 747.3L1401.1 715.8L1401.7 757.2L1402.4 764.7L1403.1 784.6L1403.9 752.9L1404.6 729.5L1405.3 750.3L1406.0 741.6L1406.7 775.2L1407.4 720.7L1408.1 755.2L1408.8 752.3L1409.5 760.6L1410.2 762.6L1410.9 740.2L1411.6 741.2L1412.2 744.8L1412.9 743.2L1413.6 756.8L1414.3 751.7L1415.0 753.5L1415.6 736.7L1416.3 733.2L1417.0 751.0L1417.6 746.7L1418.3 758.6L1419.0 719.8L1419.6 759.4L1420.3 744.9L1420.9 748.4L1421.6 757.8L1422.3 752.5L1422.9 734.1L1423.6 747.1L1424.2 754.7L1424.9 742.6L1425.5 762.1L1426.1 764.9L1426.8 710.0L1427.4 759.3L1428.0 760.3L1428.7 754.4L1429.3 754.8L1429.9 741.2L1430.6 755.8L1431.2 749.8L1431.8 739.3M145.6 7.1L191.8 32.1L229.6 57.8L261.5 57.8L289.1 72.2L313.5 74.6L335.3 83.8L355.1 91.8L373.1 90.5L389.6 112.2L405.0 107.8L419.3 108.3L432.6 113.9L445.2 124.3L457.0 142.7L468.2 136.5L478.8 133.8L488.9 135.2L498.6 147.7L507.8 154.8L516.6 150.9L525.0 166.0L533.2 162.4L541.0 181.9L548.5 186.6L555.8 166.8L562.8 174.0L569.6 193.1L576.1 196.8L582.5 191.3L588.7 177.6L594.7 190.2L600.5 183.9L606.2 181.6L611.7 169.9L617.1 171.5L622.4 190.2L627.5 186.7L632.5 188.7L637.3 188.7L642.1 212.2L646.7 217.8L651.3 220.5L655.7 209.2L660.1 219.7L664.4 223.2L668.6 217.5L672.7 233.3L676.7 241.5L680.6 239.6L684.5 234.9L688.3 229.2L692.0 245.0L695.7 258.0L699.3 251.9L702.8 289.8L706.3 289.3L709.7 281.8L713.1 263.1L716.4 240.1L719.7 285.0L722.9 297.4L726.0 263.4L729.1 283.2L732.2 285.6L735.2 280.9L738.2 259.8L741.2 255.3L744.1 266.3L746.9 283.0L749.7 270.8L752.5 269.3L755.2 283.8L758.0 276.0L760.6 266.3L763.3 276.8L765.9 299.3L768.4 262.0L771.0 268.0L773.5 275.1L776.0 284.7L778.4 291.4L780.8 287.5L783.2 291.9L785.6 295.1L787.9 300.6L790.3 276.8L792.5 297.1L794.8 293.9L797.0 299.7L799.3 326.7L801.4 325.1L803.6 325.0L805.8 318.8L807.9 312.9L810.0 332.6L812.1 303.1L814.1 331.5L816.2 316.2L818.2 302.6L820.2 319.1L822.2 314.3L824.1 336.7L826.1 323.1L828.0 340.5L829.9 330.3L831.8 343.6L833.7 337.0L835.5 345.5L837.4 349.0L839.2 362.9L841.0 361.4L842.8 360.7L844.6 364.2L846.3 351.0L848.1 350.4L849.8 346.8L851.5 346.5L853.2 356.7L854.9 375.9L856.6 384.1L858.3 354.1L859.9 349.8L861.6 355.2L863.2 362.5L864.8 378.8L866.4 351.0L868.0 349.5L869.6 360.5L871.1 365.9L872.7 353.2L874.2 358.6L875.7 350.8L877.2 370.2L878.8 375.0L880.3 352.5L881.7 380.2L883.2 364.6L884.7 347.6L886.1 359.8L887.6 359.2L889.0 338.4L890.4 355.4L891.8 350.7L893.2 361.6L894.6 352.8L896.0 383.7L897.4 371.1L898.8 368.5L900.1 339.9L901.5 370.9L902.8 365.4L904.1 357.5L905.5 366.2L906.8 381.3L908.1 351.1L909.4 366.0L910.7 357.8L912.0 374.5L913.2 361.2L914.5 362.1L915.8 345.9L917.0 340.7L918.2 371.0L919.5 347.0L920.7 360.6L921.9 386.1L923.1 359.4L924.4 365.5L925.6 372.8L926.7 351.4L927.9 375.7L929.1 354.6L930.3 349.8L931.5 383.7L932.6 366.2L933.8 383.4L934.9 358.1L936.1 388.2L937.2 386.8L938.3 392.3L939.4 358.2L940.6 356.8L941.7 390.8L942.8 366.0L943.9 391.1L945.0 363.3L946.1 389.9L947.1 382.0L948.2 412.8L949.3 394.8L950.3 410.5L951.4 359.2L952.5 403.9L953.5 372.2L954.5 401.0L955.6 365.3L956.6 394.2L957.6 397.1L958.7 396.9L959.7 390.7L960.7 405.8L961.7 413.6L962.7 419.4L963.7 399.3L964.7 387.6L965.7 370.0L966.7 390.2L967.6 406.1L968.6 427.9L969.6 397.6L970.6 389.3L971.5 400.6L972.5 420.6L973.4 400.8L974.4 410.9L975.3 427.6L976.3 417.1L977.2 414.2L978.1 431.1L979.0 404.9L980.0 393.1L980.9 404.8L981.8 405.6L982.7 420.1L983.6 453.4L984.5 419.0L985.4 427.0L986.3 424.0L987.2 410.6L988.1 427.1L989.0 416.7L989.9 455.9L990.7 426.3L991.6 434.9L992.5 437.5L993.3 435.2L994.2 427.2L995.1 432.8L995.9 464.7L996.8 461.1L997.6 444.4L998.4 466.1L999.3 431.8L1000.1 428.3L1001.0 420.0L1001.8 438.1L1002.6 426.9L1003.4 424.4L1004.3 431.8L1005.1 448.8L1005.9 427.6L1006.7 432.7L1007.5 409.9L1008.3 462.3L1009.1 458.4L1009.9 442.2L1010.7 450.9L1011.5 453.8L1012.3 461.3L1013.1 462.4L1013.9 427.5L1014.6 450.7L1015.4 437.0L1016.2 438.4L1017.0 437.6L1017.7 436.8L1018.5 444.5L1019.2 463.4L1020.0 464.0L1020.8 441.9L1021.5 455.4L1022.3 459.8L1023.0 451.8L1023.8 439.9L1024.5 431.4L1025.3 444.8L1026.0 425.3L1026.7 448.2L1027.5 444.4L1028.2 449.4L1028.9 464.5L1029.6 472.8L1030.4 461.3L1031.1 458.4L1031.8 463.8L1032.5 444.1L1033.2 472.0L1033.9 478.6L1034.6 461.5L1035.4 449.4L1036.1 456.1L1036.8 464.9L1037.5 478.7L1038.2 466.9L1038.8 445.8L1039.5 457.3L1040.2 449.9L1040.9 461.5L1041.6 502.0L1042.3 475.6L1043.0 450.9L1043.6 477.4L1044.3 486.6L1045.0 468.2L1045.7 467.5L1046.3 497.3L1047.0 458.4L1047.7 485.3L1048.3 465.1L1049.0 466.5L1049.6 483.1L1050.3 455.2L1050.9 458.3L1051.6 485.3L1052.3 465.5L1052.9 450.2L1053.5 460.3L1054.2 478.4L1054.8 468.1L1055.5 456.4L1056.1 463.1L1056.7 459.4L1057.4 468.8L1058.0 453.7L1058.6 459.7L1059.3 466.1L1059.9 467.5L1060.5 463.8L1061.1 454.2L1061.8 472.7L1062.4 480.1L1063.0 487.0L1063.6 492.7L1064.2 470.4L1064.8 466.5L1065.5 470.0L1066.1 482.5L1066.7 494.8L1067.3 480.9L1067.9 481.6L1068.5 465.1L1069.7 457.1L1070.9 475.5L1072.0 487.5L1073.2 479.2L1074.4 471.7L1075.6 517.9L1076.7 479.0L1077.9 476.3L1079.0 487.2L1080.1 494.1L1081.3 465.8L1082.4 490.1L1083.5 473.2L1084.6 467.7L1085.7 503.0L1086.8 502.7L1087.9 477.4L1089.0 495.3L1090.1 533.3L1091.2 489.0L1092.3 505.1L1093.3 474.5L1094.4 492.4L1095.4 490.2L1096.5 507.8L1097.5 525.7L1098.6 484.5L1099.6 496.2L1100.6 487.8L1101.7 509.9L1102.7 470.0L1103.7 529.4L1104.7 522.2L1105.7 507.2L1106.7 520.8L1107.7 503.1L1108.7 512.8L1109.7 494.7L1110.7 494.1L1111.7 523.1L1112.6 518.1L1113.6 488.6L1114.6 501.3L1115.5 524.3L1116.5 508.2L1117.4 503.3L1118.4 482.5L1119.3 503.8L1120.2 525.9L1121.2 482.2L1122.1 484.1L1123.0 485.1L1123.9 485.0L1124.9 502.5L1125.8 495.7L1126.7 478.6L1127.6 510.0L1128.5 501.8L1129.4 465.7L1130.3 478.0L1131.2 498.8L1132.0 512.4L1132.9 491.0L1133.8 492.6L1134.7 492.8L1135.6 500.4L1136.4 492.0L1137.3 499.3L1138.1 501.0L1139.0 509.2L1139.8 526.1L1140.7 505.7L1141.5 531.4L1142.4 507.9L1143.2 524.1L1144.1 517.1L1144.9 511.7L1145.7 544.2L1146.5 538.3L1147.4 517.9L1148.2 528.4L1149.0 500.3L1149.8 544.2L1150.6 531.8L1151.4 514.7L1152.2 524.3L1153.0 512.1L1153.8 535.6L1154.6 537.1L1155.4 503.1L1156.2 528.1L1157.0 531.9L1157.8 565.6L1158.5 541.4L1159.3 540.4L1160.1 556.5L1160.9 533.0L1161.6 505.2L1162.4 520.7L1163.1 511.3L1163.9 520.6L1164.7 506.8L1165.4 538.3L1166.2 553.7L1166.9 519.0L1167.7 545.8L1168.4 508.2L1169.1 533.8L1169.9 520.3L1170.6 525.6L1171.3 551.7L1172.1 536.4L1172.8 550.8L1173.5 547.4L1174.2 557.0L1175.0 531.3L1175.7 549.9L1176.4 554.3L1177.1 561.2L1177.8 556.9L1178.5 549.3L1179.2 558.7L1179.9 548.2L1180.6 554.8L1181.3 534.5L1182.0 539.5L1182.7 560.9L1183.4 572.7L1184.1 559.0L1184.8 555.0L1185.5 546.1L1186.1 558.7L1186.8 547.0L1187.5 540.5L1188.2 542.5L1188.8 556.8L1189.5 521.3L1190.2 551.3L1190.8 568.3L1191.5 547.4L1192.2 548.7L1192.8 569.2L1193.5 552.4L1194.1 543.5L1194.8 565.7L1195.4 557.6L1196.1 563.4L1196.7 524.0L1197.4 555.0L1198.0 555.5L1198.7 567.4L1199.3 573.5L1199.9 593.6L1200.6 551.1L1201.2 527.1L1201.8 561.6L1202.5 536.4L1203.1 537.1L1203.7 561.6L1204.3 572.4L1205.0 557.4L1205.6 556.5L1206.2 556.3L1206.8 565.0L1207.4 562.4L1208.1 561.5L1208.7 547.8L1209.3 549.5L1209.9 553.9L1210.5 563.8L1211.1 551.7L1211.7 560.1L1212.3 560.2L1213.2 568.3L1214.1 587.0L1215.0 574.3L1215.9 588.3L1216.7 559.7L1217.6 581.6L1218.5 565.2L1219.4 538.9L1220.2 569.7L1221.1 577.0L1221.9 547.0L1222.8 565.5L1223.7 566.5L1224.5 592.4L1225.4 549.4L1226.2 582.4L1227.0 571.0L1227.9 575.7L1228.7 561.0L1229.5 590.5L1230.4 567.1L1231.2 571.8L1232.0 553.3L1232.8 580.2L1233.6 589.8L1234.4 581.6L1235.2 587.5L1236.0 593.7L1236.8 596.2L1237.6 600.8L1238.4 599.5L1239.2 577.7L1240.0 585.7L1240.8 623.6L1241.6 602.8L1242.4 588.5L1243.1 607.5L1243.9 613.5L1244.7 616.0L1245.4 608.3L1246.2 594.9L1247.0 601.7L1247.7 608.9L1248.5 607.7L1249.2 622.7L1250.0 617.3L1250.7 613.9L1251.5 597.5L1252.2 610.1L1253.0 609.3L1253.7 600.4L1254.4 621.2L1255.2 616.9L1255.9 614.8L1256.6 635.2L1257.3 634.1L1258.1 625.9L1258.8 609.3L1259.5 646.9L1260.2 625.2L1260.9 607.5L1261.6 596.7L1262.4 613.9L1263.1 610.5L1263.8 614.2L1264.5 617.7L1265.2 616.1L1265.8 621.1L1266.5 604.8L1267.2 636.0L1267.9 619.8L1268.6 626.3L1269.3 621.1L1270.0 621.5L1270.7 612.4L1271.3 614.4L1272.0 594.0L1272.7 622.4L1273.3 635.1L1274.0 614.0L1274.7 628.9L1275.3 611.8L1276.0 614.3L1276.7 622.5L1277.3 630.4L1278.0 604.0L1278.6 650.0L1279.3 647.4L1279.9 640.1L1280.6 642.6L1281.2 608.2L1281.9 615.0L1282.5 632.8L1283.2 641.7L1283.8 614.2L1284.4 636.4L1285.1 647.2L1285.7 619.5L1286.3 642.8L1286.9 618.6L1287.6 632.0L1288.2 628.5L1288.8 629.7L1289.4 642.3L1290.1 632.3L1290.7 646.8L1291.3 620.0L1291.9 643.7L1292.5 639.6L1293.1 674.1L1293.7 650.5L1294.3 659.7L1294.9 639.4L1295.5 658.5L1296.1 668.1L1296.9 684.2L1297.7 644.7L1298.5 627.7L1299.3 666.2L1300.1 618.1L1300.9 671.9L1301.7 668.9L1302.4 659.8L1303.2 676.5L1304.0 669.8L1304.8 647.0L1305.5 656.6L1306.3 694.2L1307.0 657.6L1307.8 673.9L1308.6 681.7L1309.3 647.6L1310.1 677.4L1310.8 667.2L1311.5 666.1L1312.3 676.3L1313.0 672.4L1313.8 690.3L1314.5 668.1L1315.2 699.4L1315.9 693.7L1316.7 693.8L1317.4 694.3L1318.1 662.2L1318.8 691.0L1319.5 680.8L1320.3 691.4L1321.0 704.3L1321.7 680.1L1322.4 670.7L1323.1 682.7L1323.8 700.0L1324.5 656.6L1325.2 689.1L1325.9 685.6L1326.6 674.9L1327.3 683.3L1327.9 685.2L1328.6 690.3L1329.3 684.1L1330.0 686.0L1330.7 695.7L1331.3 683.8L1332.0 695.7L1332.7 674.5L1333.4 704.3L1334.0 667.0L1334.7 694.6L1335.4 674.0L1336.0 704.8L1336.7 709.5L1337.3 689.5L1338.0 699.8L1338.6 700.0L1339.3 679.8L1339.9 702.9L1340.6 705.3L1341.2 721.8L1341.9 702.5L1342.5 715.3L1343.1 719.0L1343.8 685.5L1344.4 706.8L1345.0 703.1L1345.7 711.0L1346.3 731.0L1346.9 713.2L1347.6 716.3L1348.2 704.1L1348.8 736.3L1349.4 731.6L1350.0 701.5L1350.6 724.4L1351.3 719.7L1351.9 758.7L1352.5 706.7L1353.1 725.0L1353.7 702.3L1354.3 717.5L1354.9 696.3L1355.5 705.5L1356.3 727.7L1357.0 740.1L1357.7 733.7L1358.5 708.2L1359.2 755.4L1360.0 744.5L1360.7 705.0L1361.4 702.6L1362.1 726.7L1362.9 715.4L1363.6 734.6L1364.3 714.9L1365.0 702.2L1365.8 744.9L1366.5 731.2L1367.2 756.0L1367.9 736.6L1368.6 734.3L1369.3 740.1L1370.0 736.1L1370.7 753.2L1371.4 726.9L1372.1 750.7L1372.8 727.5L1373.5 742.0L1374.1 708.4L1374.8 706.4L1375.5 720.2L1376.2 701.7L1376.9 743.6L1377.5 734.3L1378.2 754.0L1378.9 765.0L1379.6 739.0L1380.2 736.4L1380.9 734.8L1381.6 745.8L1382.2 764.5L1382.9 730.8L1383.5 724.8L1384.2 740.5L1384.8 738.9L1385.5 742.2L1386.1 762.2L1386.8 722.9L1387.4 731.9L1388.1 742.3L1388.7 725.3L1389.3 727.2L1390.0 755.9L1390.6 770.3L1391.2 727.1L1391.9 704.2L1392.5 756.7L1393.1 751.1L1393.8 739.0L1394.4 766.3L1395.0 769.6L1395.6 746.1L1396.2 740.4L1396.8 749.3L1397.5 739.4L1398.1 784.3L1398.7 728.6L1399.3 742.9L1399.9 734.6L1400.5 749.4L1401.1 759.3L1401.7 752.4L1402.4 735.6L1403.1 740.2L1403.9 753.8L1404.6 739.9L1405.3 740.6L1406.0 779.5L1406.7 732.5L1407.4 754.6L1408.1 772.8L1408.8 762.1L1409.5 762.7L1410.2 771.6L1410.9 759.9L1411.6 753.6L1412.2 775.5L1412.9 764.0L1413.6 732.9L1414.3 779.2L1415.0 757.1L1415.6 775.3L1416.3 747.4L1417.0 753.0L1417.6 750.7L1418.3 796.0L1419.0 757.3L1419.6 766.0L1420.3 740.6L1420.9 796.3L1421.6 760.4L1422.3 721.4L1422.9 776.7L1423.6 759.5L1424.2 771.8L1424.9 750.1L1425.5 778.9L1426.1 761.5L1426.8 737.7L1427.4 736.9L1428.0 740.9L1428.7 772.6L1429.3 745.5L1429.9 756.2L1430.6 770.0L1431.2 748.8L1431.8 778.8M145.6 21.6L191.8 47.9L229.6 67.1L261.5 65.5L289.1 75.2L313.5 84.6L335.3 90.0L355.1 93.2L373.1 108.3L389.6 129.0L405.0 133.2L419.3 131.1L432.6 140.1L445.2 131.7L457.0 132.7L468.2 142.0L478.8 140.7L488.9 150.0L498.6 142.8L507.8 151.4L516.6 170.7L525.0 178.0L533.2 188.1L541.0 202.2L548.5 188.8L555.8 184.4L562.8 178.1L569.6 179.7L576.1 173.9L582.5 221.3L588.7 192.3L594.7 211.6L600.5 197.0L606.2 186.5L611.7 191.1L617.1 188.8L622.4 186.6L627.5 205.3L632.5 209.5L637.3 210.6L642.1 208.2L646.7 210.5L651.3 224.3L655.7 230.3L660.1 214.8L664.4 225.7L668.6 216.4L672.7 245.0L676.7 256.7L680.6 237.0L684.5 250.3L688.3 226.3L692.0 235.7L695.7 219.7L699.3 262.6L702.8 225.7L706.3 261.7L709.7 251.6L713.1 253.3L716.4 257.0L719.7 267.9L722.9 279.9L726.0 280.1L729.1 283.9L732.2 277.9L735.2 256.7L738.2 285.7L741.2 289.0L744.1 281.1L746.9 275.7L749.7 285.0L752.5 290.1L755.2 286.3L758.0 289.3L760.6 299.9L763.3 306.7L765.9 306.7L768.4 320.1L771.0 333.5L773.5 330.2L776.0 305.4L778.4 345.8L780.8 363.5L783.2 358.4L785.6 339.9L787.9 339.5L790.3 344.7L792.5 363.5L794.8 327.9L797.0 331.6L799.3 331.2L801.4 331.8L803.6 339.5L805.8 338.9L807.9 342.7L810.0 343.6L812.1 333.0L814.1 350.3L816.2 348.8L818.2 355.2L820.2 353.4L822.2 343.7L824.1 349.8L826.1 316.8L828.0 373.7L829.9 351.3L831.8 366.1L833.7 353.2L835.5 353.0L837.4 379.0L839.2 340.2L841.0 376.2L842.8 359.0L844.6 351.0L846.3 368.4L848.1 377.0L849.8 352.0L851.5 346.2L853.2 379.7L854.9 351.3L856.6 382.3L858.3 358.3L859.9 353.6L861.6 364.3L863.2 382.8L864.8 360.2L866.4 363.0L868.0 371.3L869.6 392.5L871.1 351.9L872.7 347.7L874.2 367.0L875.7 372.9L877.2 340.4L878.8 346.9L880.3 344.0L881.7 368.5L883.2 361.0L884.7 353.8L886.1 348.2L887.6 352.0L889.0 335.9L890.4 379.3L891.8 349.8L893.2 352.9L894.6 357.1L896.0 348.5L897.4 344.4L898.8 327.8L900.1 374.4L901.5 356.8L902.8 352.4L904.1 342.4L905.5 386.6L906.8 374.1L908.1 367.1L909.4 377.0L910.7 363.4L912.0 386.3L913.2 371.2L914.5 368.9L915.8 363.2L917.0 398.6L918.2 411.8L919.5 386.6L920.7 370.1L921.9 422.4L923.1 406.4L924.4 382.3L925.6 398.2L926.7 399.5L927.9 403.8L929.1 409.8L930.3 406.3L931.5 402.6L932.6 419.8L933.8 429.2L934.9 380.3L936.1 407.9L937.2 429.0L938.3 429.7L939.4 416.9L940.6 417.6L941.7 424.6L942.8 414.7L943.9 390.2L945.0 446.3L946.1 429.1L947.1 429.7L948.2 440.9L949.3 449.1L950.3 441.9L951.4 471.4L952.5 425.5L953.5 457.0L954.5 432.5L955.6 432.6L956.6 459.7L957.6 438.6L958.7 461.1L959.7 460.3L960.7 470.6L961.7 446.2L962.7 459.6L963.7 450.8L964.7 457.4L965.7 490.8L966.7 472.0L967.6 467.8L968.6 458.7L969.6 453.6L970.6 485.0L971.5 444.3L972.5 459.0L973.4 451.7L974.4 449.0L975.3 465.6L976.3 461.9L977.2 455.8L978.1 486.8L979.0 459.7L980.0 478.9L980.9 468.0L981.8 467.2L982.7 475.0L983.6 466.1L984.5 453.0L985.4 467.8L986.3 451.8L987.2 473.7L988.1 438.2L989.0 489.3L989.9 457.4L990.7 483.5L991.6 487.2L992.5 473.5L993.3 463.4L994.2 493.6L995.1 462.9L995.9 460.3L996.8 491.9L997.6 490.1L998.4 513.8L999.3 493.1L1000.1 472.2L1001.0 474.5L1001.8 488.9L1002.6 493.8L1003.4 501.5L1004.3 486.4L1005.1 461.6L1005.9 475.2L1006.7 477.6L1007.5 478.1L1008.3 486.8L1009.1 471.9L1009.9 489.4L1010.7 467.8L1011.5 473.3L1012.3 476.1L1013.1 474.7L1013.9 491.2L1014.6 501.0L1015.4 468.7L1016.2 488.7L1017.0 508.2L1017.7 481.9L1018.5 481.9L1019.2 471.2L1020.0 478.3L1020.8 473.6L1021.5 489.6L1022.3 457.2L1023.0 493.6L1023.8 475.8L1024.5 476.0L1025.3 473.0L1026.0 472.8L1026.7 497.2L1027.5 482.9L1028.2 463.1L1028.9 481.5L1029.6 477.2L1030.4 482.8L1031.1 496.5L1031.8 489.4L1032.5 481.1L1033.2 492.3L1033.9 496.9L1034.6 471.0L1035.4 491.6L1036.1 498.3L1036.8 484.5L1037.5 486.0L1038.2 494.3L1038.8 475.4L1039.5 491.0L1040.2 505.5L1040.9 454.7L1041.6 492.9L1042.3 472.4L1043.0 470.7L1043.6 514.1L1044.3 485.0L1045.0 505.1L1045.7 473.2L1046.3 474.9L1047.0 477.9L1047.7 497.9L1048.3 478.3L1049.0 463.1L1049.6 494.3L1050.3 474.1L1050.9 489.6L1051.6 486.2L1052.3 498.1L1052.9 487.4L1053.5 482.7L1054.2 495.7L1054.8 482.5L1055.5 497.4L1056.1 482.2L1056.7 480.5L1057.4 480.8L1058.0 475.3L1058.6 471.3L1059.3 469.6L1059.9 458.8L1060.5 508.6L1061.1 460.1L1061.8 490.0L1062.4 478.7L1063.0 482.0L1063.6 496.3L1064.2 491.3L1064.8 474.2L1065.5 482.3L1066.1 463.8L1066.7 499.9L1067.3 460.7L1067.9 484.6L1068.5 482.7L1069.7 462.5L1070.9 497.0L1072.0 485.3L1073.2 496.4L1074.4 526.3L1075.6 491.9L1076.7 490.3L1077.9 482.7L1079.0 501.4L1080.1 488.7L1081.3 493.3L1082.4 512.6L1083.5 499.8L1084.6 470.8L1085.7 488.1L1086.8 512.4L1087.9 522.5L1089.0 511.3L1090.1 492.0L1091.2 486.6L1092.3 523.1L1093.3 511.0L1094.4 520.0L1095.4 549.6L1096.5 517.4L1097.5 508.3L1098.6 510.6L1099.6 518.0L1100.6 524.5L1101.7 512.3L1102.7 505.2L1103.7 507.6L1104.7 507.1L1105.7 524.4L1106.7 509.3L1107.7 552.2L1108.7 506.9L1109.7 515.1L1110.7 513.5L1111.7 519.9L1112.6 518.1L1113.6 536.3L1114.6 519.1L1115.5 497.9L1116.5 532.3L1117.4 535.2L1118.4 502.0L1119.3 542.5L1120.2 539.0L1121.2 508.8L1122.1 515.6L1123.0 546.8L1123.9 487.6L1124.9 524.1L1125.8 533.4L1126.7 520.6L1127.6 498.1L1128.5 520.3L1129.4 516.2L1130.3 511.2L1131.2 513.8L1132.0 502.1L1132.9 508.7L1133.8 526.0L1134.7 547.2L1135.6 549.7L1136.4 549.4L1137.3 528.8L1138.1 528.0L1139.0 548.4L1139.8 547.6L1140.7 506.9L1141.5 546.8L1142.4 543.3L1143.2 534.4L1144.1 540.4L1144.9 542.1L1145.7 535.0L1146.5 523.0L1147.4 536.6L1148.2 547.1L1149.0 548.5L1149.8 523.1L1150.6 535.9L1151.4 560.4L1152.2 553.7L1153.0 548.4L1153.8 544.0L1154.6 516.5L1155.4 545.6L1156.2 524.1L1157.0 557.6L1157.8 517.2L1158.5 531.8L1159.3 545.4L1160.1 537.8L1160.9 564.6L1161.6 524.1L1162.4 529.2L1163.1 530.9L1163.9 512.5L1164.7 514.5L1165.4 525.9L1166.2 561.9L1166.9 537.5L1167.7 550.6L1168.4 558.5L1169.1 541.7L1169.9 557.7L1170.6 525.4L1171.3 508.4L1172.1 578.0L1172.8 515.2L1173.5 546.2L1174.2 538.4L1175.0 552.3L1175.7 559.3L1176.4 534.2L1177.1 538.6L1177.8 555.0L1178.5 563.0L1179.2 571.9L1179.9 556.2L1180.6 557.8L1181.3 570.7L1182.0 553.5L1182.7 537.0L1183.4 567.2L1184.1 529.0L1184.8 589.1L1185.5 560.6L1186.1 551.9L1186.8 558.0L1187.5 545.9L1188.2 582.8L1188.8 570.2L1189.5 556.9L1190.2 571.3L1190.8 542.2L1191.5 550.6L1192.2 572.3L1192.8 581.6L1193.5 574.9L1194.1 562.6L1194.8 586.5L1195.4 563.4L1196.1 573.7L1196.7 558.4L1197.4 555.1L1198.0 586.7L1198.7 573.3L1199.3 556.7L1199.9 561.6L1200.6 567.5L1201.2 573.0L1201.8 580.4L1202.5 588.9L1203.1 577.1L1203.7 583.7L1204.3 587.1L1205.0 589.6L1205.6 551.4L1206.2 581.1L1206.8 586.3L1207.4 545.9L1208.1 598.1L1208.7 565.3L1209.3 567.1L1209.9 563.1L1210.5 564.5L1211.1 580.1L1211.7 577.6L1212.3 591.0L1213.2 595.1L1214.1 573.4L1215.0 581.7L1215.9 553.1L1216.7 566.5L1217.6 559.9L1218.5 572.9L1219.4 584.1L1220.2 545.2L1221.1 579.7L1221.9 589.0L1222.8 579.0L1223.7 592.0L1224.5 614.0L1225.4 575.0L1226.2 580.9L1227.0 596.3L1227.9 580.1L1228.7 602.5L1229.5 617.1L1230.4 598.8L1231.2 611.9L1232.0 577.8L1232.8 618.1L1233.6 611.0L1234.4 578.2L1235.2 614.1L1236.0 578.0L1236.8 592.5L1237.6 618.2L1238.4 639.3L1239.2 605.4L1240.0 602.9L1240.8 598.1L1241.6 618.6L1242.4 657.8L1243.1 600.9L1243.9 616.1L1244.7 626.3L1245.4 627.4L1246.2 615.1L1247.0 618.9L1247.7 644.3L1248.5 616.0L1249.2 629.8L1250.0 624.3L1250.7 619.5L1251.5 610.2L1252.2 617.9L1253.0 632.0L1253.7 644.4L1254.4 631.7L1255.2 623.3L1255.9 632.8L1256.6 645.0L1257.3 621.0L1258.1 625.8L1258.8 611.2L1259.5 641.9L1260.2 642.4L1260.9 626.9L1261.6 633.6L1262.4 619.6L1263.1 605.6L1263.8 646.0L1264.5 645.9L1265.2 617.8L1265.8 647.5L1266.5 640.8L1267.2 620.2L1267.9 630.6L1268.6 618.3L1269.3 647.1L1270.0 647.4L1270.7 637.9L1271.3 638.3L1272.0 633.9L1272.7 642.2L1273.3 632.7L1274.0 633.7L1274.7 664.5L1275.3 662.0L1276.0 646.0L1276.7 669.9L1277.3 645.4L1278.0 653.8L1278.6 648.9L1279.3 634.2L1279.9 640.4L1280.6 637.1L1281.2 630.1L1281.9 657.0L1282.5 653.4L1283.2 655.6L1283.8 665.8L1284.4 663.0L1285.1 669.6L1285.7 676.2L1286.3 668.6L1286.9 660.2L1287.6 666.9L1288.2 652.3L1288.8 667.9L1289.4 658.4L1290.1 630.3L1290.7 641.3L1291.3 643.2L1291.9 651.1L1292.5 656.1L1293.1 680.8L1293.7 652.8L1294.3 668.6L1294.9 651.5L1295.5 674.2L1296.1 678.9L1296.9 676.4L1297.7 677.8L1298.5 652.8L1299.3 659.5L1300.1 646.0L1300.9 668.4L1301.7 657.2L1302.4 677.0L1303.2 665.6L1304.0 680.5L1304.8 658.2L1305.5 645.0L1306.3 679.2L1307.0 682.8L1307.8 695.8L1308.6 670.0L1309.3 671.5L1310.1 677.1L1310.8 672.4L1311.5 679.4L1312.3 690.0L1313.0 675.5L1313.8 668.1L1314.5 712.7L1315.2 708.7L1315.9 685.9L1316.7 681.6L1317.4 668.4L1318.1 674.7L1318.8 678.3L1319.5 662.8L1320.3 691.6L1321.0 687.9L1321.7 680.8L1322.4 705.4L1323.1 686.4L1323.8 685.9L1324.5 680.3L1325.2 699.6L1325.9 698.3L1326.6 675.7L1327.3 708.3L1327.9 699.1L1328.6 698.7L1329.3 701.7L1330.0 712.3L1330.7 689.4L1331.3 714.4L1332.0 680.0L1332.7 725.5L1333.4 670.4L1334.0 677.6L1334.7 688.3L1335.4 692.1L1336.0 698.7L1336.7 701.7L1337.3 697.1L1338.0 718.5L1338.6 719.6L1339.3 713.6L1339.9 696.3L1340.6 692.9L1341.2 701.2L1341.9 729.7L1342.5 702.8L1343.1 696.6L1343.8 718.6L1344.4 705.3L1345.0 695.1L1345.7 717.3L1346.3 706.3L1346.9 704.7L1347.6 740.0L1348.2 721.2L1348.8 724.6L1349.4 714.3L1350.0 717.8L1350.6 727.9L1351.3 709.9L1351.9 722.9L1352.5 731.0L1353.1 719.0L1353.7 720.3L1354.3 750.3L1354.9 742.0L1355.5 730.6L1356.3 708.4L1357.0 740.5L1357.7 753.7L1358.5 735.6L1359.2 740.0L1360.0 722.6L1360.7 718.5L1361.4 719.2L1362.1 691.0L1362.9 707.2L1363.6 730.4L1364.3 739.9L1365.0 713.1L1365.8 727.4L1366.5 706.4L1367.2 737.9L1367.9 730.1L1368.6 707.6L1369.3 744.0L1370.0 749.5L1370.7 709.9L1371.4 716.5L1372.1 750.0L1372.8 746.7L1373.5 745.4L1374.1 724.6L1374.8 738.9L1375.5 759.8L1376.2 753.3L1376.9 722.0L1377.5 728.9L1378.2 756.8L1378.9 738.7L1379.6 734.2L1380.2 720.1L1380.9 774.3L1381.6 754.9L1382.2 773.7L1382.9 729.8L1383.5 768.5L1384.2 702.1L1384.8 760.8L1385.5 756.4L1386.1 724.0L1386.8 718.4L1387.4 728.0L1388.1 741.8L1388.7 767.9L1389.3 752.3L1390.0 743.8L1390.6 772.6L1391.2 734.7L1391.9 738.8L1392.5 734.3L1393.1 736.7L1393.8 770.2L1394.4 750.1L1395.0 745.8L1395.6 752.4L1396.2 763.9L1396.8 733.0L1397.5 756.9L1398.1 777.2L1398.7 774.5L1399.3 760.3L1399.9 780.2L1400.5 755.5L1401.1 763.1L1401.7 758.6L1402.4 760.4L1403.1 740.0L1403.9 734.9L1404.6 756.5L1405.3 737.7L1406.0 765.0L1406.7 771.8L1407.4 735.7L1408.1 783.1L1408.8 760.9L1409.5 773.1L1410.2 756.9L1410.9 752.0L1411.6 742.2L1412.2 776.5L1412.9 773.9L1413.6 782.3L1414.3 782.9L1415.0 764.3L1415.6 777.0L1416.3 754.5L1417.0 774.4L1417.6 753.9L1418.3 772.8L1419.0 744.9L1419.6 774.8L1420.3 752.6L1420.9 764.7L1421.6 809.9L1422.3 764.1L1422.9 756.1L1423.6 780.4L1424.2 752.6L1424.9 739.5L1425.5 774.5L1426.1 747.8L1426.8 771.8L1427.4 765.4L1428.0 751.8L1428.7 776.2L1429.3 770.6L1429.9 754.2L1430.6 760.1L1431.2 756.4L1431.8 778.9M145.6 21.2L191.8 28.9L229.6 56.8L261.5 74.6L289.1 78.6L313.5 102.7L335.3 92.4L355.1 95.5L373.1 101.2L389.6 123.6L405.0 146.4L419.3 136.0L432.6 142.0L445.2 153.2L457.0 157.0L468.2 166.9L478.8 158.9L488.9 143.5L498.6 161.5L507.8 155.1L516.6 165.4L525.0 169.0L533.2 157.1L541.0 184.7L548.5 177.3L555.8 183.6L562.8 195.7L569.6 208.7L576.1 212.2L582.5 197.0L588.7 219.6L594.7 211.5L600.5 212.5L606.2 208.1L611.7 205.5L617.1 202.7L622.4 233.4L627.5 227.1L632.5 241.1L637.3 238.7L642.1 253.8L646.7 265.6L651.3 257.9L655.7 253.9L660.1 253.1L664.4 265.3L668.6 268.0L672.7 266.9L676.7 250.3L680.6 245.9L684.5 259.5L688.3 262.1L692.0 265.5L695.7 253.2L699.3 246.6L702.8 266.3L706.3 281.0L709.7 292.4L713.1 269.1L716.4 290.7L719.7 279.9L722.9 294.3L726.0 325.5L729.1 299.6L732.2 285.9L735.2 332.7L738.2 299.0L741.2 311.7L744.1 294.5L746.9 316.2L749.7 320.2L752.5 296.4L755.2 305.3L758.0 309.4L760.6 323.7L763.3 325.6L765.9 340.0L768.4 338.7L771.0 324.4L773.5 321.9L776.0 352.2L778.4 336.1L780.8 361.0L783.2 347.3L785.6 342.3L787.9 340.1L790.3 337.2L792.5 341.3L794.8 344.3L797.0 354.4L799.3 357.8L801.4 319.2L803.6 315.0L805.8 334.2L807.9 350.3L810.0 332.4L812.1 327.9L814.1 328.8L816.2 338.4L818.2 350.9L820.2 337.3L822.2 323.8L824.1 351.3L826.1 348.7L828.0 337.4L829.9 345.0L831.8 335.6L833.7 336.5L835.5 360.2L837.4 326.7L839.2 346.5L841.0 349.0L842.8 335.2L844.6 354.9L846.3 373.9L848.1 336.5L849.8 339.7L851.5 381.0L853.2 367.6L854.9 370.5L856.6 386.5L858.3 348.9L859.9 348.4L861.6 362.3L863.2 396.7L864.8 385.4L866.4 398.3L868.0 376.3L869.6 366.7L871.1 375.5L872.7 343.9L874.2 357.4L875.7 403.1L877.2 386.6L878.8 389.6L880.3 364.7L881.7 380.0L883.2 380.5L884.7 392.4L886.1 399.0L887.6 385.3L889.0 394.3L890.4 398.0L891.8 394.4L893.2 396.6L894.6 397.9L896.0 407.1L897.4 385.6L898.8 410.1L900.1 389.0L901.5 416.4L902.8 385.3L904.1 430.6L905.5 426.0L906.8 391.9L908.1 418.0L909.4 426.1L910.7 397.0L912.0 391.9L913.2 402.4L914.5 396.7L915.8 398.3L917.0 427.5L918.2 400.3L919.5 402.6L920.7 390.8L921.9 400.9L923.1 413.2L924.4 413.0L925.6 411.9L926.7 417.7L927.9 422.1L929.1 429.0L930.3 417.6L931.5 378.9L932.6 416.8L933.8 402.7L934.9 409.0L936.1 421.8L937.2 444.9L938.3 424.5L939.4 418.2L940.6 425.2L941.7 422.3L942.8 423.6L943.9 413.9L945.0 416.9L946.1 412.8L947.1 444.0L948.2 448.8L949.3 437.2L950.3 434.9L951.4 436.8L952.5 430.9L953.5 416.3L954.5 434.3L955.6 427.1L956.6 413.9L957.6 425.5L958.7 419.5L959.7 441.9L960.7 437.5L961.7 461.3L962.7 402.8L963.7 436.4L964.7 415.1L965.7 431.1L966.7 453.6L967.6 440.5L968.6 434.3L969.6 437.7L970.6 435.3L971.5 457.6L972.5 440.2L973.4 442.5L974.4 478.2L975.3 437.9L976.3 470.4L977.2 469.9L978.1 479.4L979.0 470.5L980.0 455.9L980.9 457.0L981.8 494.3L982.7 465.4L983.6 488.7L984.5 462.1L985.4 458.4L986.3 453.8L987.2 471.2L988.1 465.2L989.0 456.3L989.9 487.7L990.7 472.3L991.6 460.0L992.5 474.2L993.3 486.3L994.2 501.1L995.1 475.4L995.9 501.2L996.8 488.5L997.6 471.6L998.4 460.1L999.3 483.1L1000.1 473.2L1001.0 474.7L1001.8 481.0L1002.6 481.2L1003.4 473.0L1004.3 481.0L1005.1 455.7L1005.9 469.6L1006.7 484.2L1007.5 506.3L1008.3 467.7L1009.1 485.7L1009.9 492.3L1010.7 474.4L1011.5 496.4L1012.3 500.5L1013.1 491.3L1013.9 483.0L1014.6 484.2L1015.4 493.2L1016.2 488.5L1017.0 483.1L1017.7 523.5L1018.5 473.1L1019.2 496.8L1020.0 490.6L1020.8 476.2L1021.5 500.9L1022.3 481.9L1023.0 503.4L1023.8 506.9L1024.5 482.7L1025.3 510.3L1026.0 478.4L1026.7 502.6L1027.5 494.7L1028.2 498.3L1028.9 481.6L1029.6 485.9L1030.4 525.4L1031.1 497.0L1031.8 506.4L1032.5 508.5L1033.2 500.5L1033.9 532.1L1034.6 501.0L1035.4 499.4L1036.1 480.8L1036.8 518.6L1037.5 498.9L1038.2 488.0L1038.8 517.1L1039.5 498.9L1040.2 485.5L1040.9 516.4L1041.6 494.3L1042.3 519.9L1043.0 499.7L1043.6 503.2L1044.3 512.9L1045.0 496.8L1045.7 498.9L1046.3 504.4L1047.0 510.0L1047.7 528.1L1048.3 491.7L1049.0 507.8L1049.6 533.3L1050.3 514.7L1050.9 506.5L1051.6 476.3L1052.3 512.3L1052.9 524.7L1053.5 498.4L1054.2 530.5L1054.8 512.8L1055.5 502.9L1056.1 530.7L1056.7 509.2L1057.4 492.6L1058.0 507.7L1058.6 505.2L1059.3 513.5L1059.9 517.8L1060.5 503.5L1061.1 529.4L1061.8 513.2L1062.4 496.7L1063.0 506.8L1063.6 488.2L1064.2 501.0L1064.8 481.3L1065.5 513.9L1066.1 504.4L1066.7 501.0L1067.3 509.4L1067.9 502.2L1068.5 502.3L1069.7 498.7L1070.9 487.1L1072.0 504.5L1073.2 509.8L1074.4 496.3L1075.6 518.9L1076.7 493.0L1077.9 495.6L1079.0 509.0L1080.1 519.3L1081.3 483.3L1082.4 512.6L1083.5 500.9L1084.6 491.9L1085.7 514.2L1086.8 495.0L1087.9 523.8L1089.0 525.1L1090.1 517.9L1091.2 497.8L1092.3 528.7L1093.3 524.9L1094.4 504.1L1095.4 526.0L1096.5 517.4L1097.5 480.9L1098.6 526.8L1099.6 504.8L1100.6 532.4L1101.7 516.3L1102.7 519.8L1103.7 497.6L1104.7 555.8L1105.7 531.4L1106.7 531.7L1107.7 515.8L1108.7 526.2L1109.7 521.2L1110.7 515.9L1111.7 550.0L1112.6 522.5L1113.6 531.9L1114.6 519.7L1115.5 530.2L1116.5 519.5L1117.4 524.8L1118.4 568.0L1119.3 540.8L1120.2 526.6L1121.2 524.4L1122.1 539.7L1123.0 558.2L1123.9 547.2L1124.9 555.0L1125.8 521.0L1126.7 525.3L1127.6 526.0L1128.5 547.3L1129.4 531.8L1130.3 563.8L1131.2 539.4L1132.0 548.3L1132.9 560.6L1133.8 536.0L1134.7 548.2L1135.6 548.4L1136.4 543.9L1137.3 547.5L1138.1 534.8L1139.0 542.7L1139.8 583.0L1140.7 556.2L1141.5 553.6L1142.4 568.7L1143.2 553.7L1144.1 533.8L1144.9 546.0L1145.7 570.6L1146.5 530.7L1147.4 573.5L1148.2 570.9L1149.0 551.2L1149.8 554.4L1150.6 589.9L1151.4 557.8L1152.2 561.0L1153.0 577.4L1153.8 540.5L1154.6 580.1L1155.4 533.5L1156.2 567.0L1157.0 548.5L1157.8 571.1L1158.5 540.0L1159.3 535.4L1160.1 565.5L1160.9 582.6L1161.6 541.9L1162.4 556.9L1163.1 558.0L1163.9 546.1L1164.7 555.5L1165.4 530.2L1166.2 555.5L1166.9 561.0L1167.7 553.5L1168.4 568.7L1169.1 563.5L1169.9 570.3L1170.6 552.4L1171.3 557.8L1172.1 551.7L1172.8 562.2L1173.5 550.1L1174.2 564.8L1175.0 555.4L1175.7 559.9L1176.4 541.2L1177.1 567.2L1177.8 570.1L1178.5 547.0L1179.2 549.3L1179.9 546.1L1180.6 562.1L1181.3 551.9L1182.0 555.7L1182.7 586.1L1183.4 568.3L1184.1 573.2L1184.8 549.6L1185.5 575.5L1186.1 564.4L1186.8 553.7L1187.5 530.5L1188.2 543.6L1188.8 568.8L1189.5 589.3L1190.2 564.0L1190.8 581.1L1191.5 570.5L1192.2 547.7L1192.8 567.8L1193.5 550.1L1194.1 568.1L1194.8 576.4L1195.4 560.4L1196.1 545.8L1196.7 546.6L1197.4 560.7L1198.0 564.4L1198.7 571.8L1199.3 570.1L1199.9 558.0L1200.6 589.4L1201.2 560.8L1201.8 537.2L1202.5 577.7L1203.1 563.7L1203.7 537.9L1204.3 561.1L1205.0 588.8L1205.6 597.1L1206.2 609.9L1206.8 560.9L1207.4 611.0L1208.1 587.6L1208.7 569.7L1209.3 558.3L1209.9 566.5L1210.5 581.1L1211.1 583.5L1211.7 604.1L1212.3 576.7L1213.2 572.5L1214.1 592.3L1215.0 558.1L1215.9 581.4L1216.7 576.0L1217.6 578.7L1218.5 563.8L1219.4 602.9L1220.2 548.9L1221.1 588.5L1221.9 560.5L1222.8 615.5L1223.7 604.5L1224.5 609.7L1225.4 583.6L1226.2 603.0L1227.0 581.2L1227.9 602.8L1228.7 634.7L1229.5 607.4L1230.4 588.1L1231.2 627.4L1232.0 607.2L1232.8 611.5L1233.6 618.6L1234.4 621.9L1235.2 615.6L1236.0 594.7L1236.8 617.6L1237.6 594.7L1238.4 608.5L1239.2 621.5L1240.0 628.3L1240.8 600.8L1241.6 659.4L1242.4 618.0L1243.1 624.3L1243.9 635.8L1244.7 622.6L1245.4 609.6L1246.2 612.0L1247.0 614.1L1247.7 621.0L1248.5 635.6L1249.2 598.9L1250.0 629.2L1250.7 616.2L1251.5 618.1L1252.2 650.8L1253.0 645.3L1253.7 645.8L1254.4 611.1L1255.2 650.3L1255.9 657.9L1256.6 641.3L1257.3 622.3L1258.1 640.7L1258.8 649.7L1259.5 617.7L1260.2 653.7L1260.9 636.1L1261.6 641.9L1262.4 624.9L1263.1 628.1L1263.8 653.3L1264.5 627.2L1265.2 656.8L1265.8 638.5L1266.5 657.7L1267.2 669.9L1267.9 669.9L1268.6 641.5L1269.3 631.8L1270.0 642.6L1270.7 657.8L1271.3 654.8L1272.0 640.9L1272.7 662.1L1273.3 678.2L1274.0 675.2L1274.7 656.6L1275.3 675.3L1276.0 642.4L1276.7 655.7L1277.3 650.4L1278.0 657.9L1278.6 658.6L1279.3 665.8L1279.9 644.7L1280.6 655.2L1281.2 639.4L1281.9 683.5L1282.5 647.4L1283.2 682.0L1283.8 656.0L1284.4 658.9L1285.1 652.7L1285.7 668.6L1286.3 667.5L1286.9 653.8L1287.6 663.9L1288.2 654.9L1288.8 651.4L1289.4 653.3L1290.1 675.1L1290.7 660.6L1291.3 658.9L1291.9 674.2L1292.5 642.3L1293.1 648.3L1293.7 654.5L1294.3 660.6L1294.9 682.0L1295.5 687.1L1296.1 649.4L1296.9 684.3L1297.7 676.2L1298.5 645.3L1299.3 684.8L1300.1 663.1L1300.9 676.4L1301.7 670.9L1302.4 678.4L1303.2 668.4L1304.0 710.8L1304.8 658.2L1305.5 657.9L1306.3 696.2L1307.0 663.1L1307.8 678.2L1308.6 698.7L1309.3 709.1L1310.1 694.6L1310.8 701.1L1311.5 697.2L1312.3 691.6L1313.0 703.9L1313.8 684.6L1314.5 688.2L1315.2 698.4L1315.9 685.0L1316.7 687.9L1317.4 725.8L1318.1 711.1L1318.8 675.5L1319.5 709.7L1320.3 728.3L1321.0 705.8L1321.7 703.1L1322.4 703.7L1323.1 685.1L1323.8 696.4L1324.5 685.0L1325.2 724.7L1325.9 667.8L1326.6 692.2L1327.3 718.5L1327.9 696.5L1328.6 687.1L1329.3 702.2L1330.0 692.1L1330.7 700.5L1331.3 721.0L1332.0 691.2L1332.7 703.3L1333.4 666.7L1334.0 701.1L1334.7 718.3L1335.4 715.0L1336.0 706.8L1336.7 722.0L1337.3 716.6L1338.0 685.5L1338.6 719.5L1339.3 750.9L1339.9 703.0L1340.6 722.8L1341.2 698.4L1341.9 719.5L1342.5 710.8L1343.1 726.1L1343.8 698.9L1344.4 718.4L1345.0 721.0L1345.7 726.8L1346.3 734.9L1346.9 715.0L1347.6 716.6L1348.2 725.7L1348.8 703.4L1349.4 720.7L1350.0 727.3L1350.6 733.0L1351.3 708.9L1351.9 708.8L1352.5 738.9L1353.1 714.7L1353.7 723.9L1354.3 711.2L1354.9 728.5L1355.5 732.5L1356.3 725.6L1357.0 709.4L1357.7 766.2L1358.5 702.8L1359.2 763.3L1360.0 728.5L1360.7 721.3L1361.4 735.9L1362.1 743.4L1362.9 733.9L1363.6 724.6L1364.3 748.1L1365.0 724.3L1365.8 723.3L1366.5 767.6L1367.2 740.9L1367.9 722.2L1368.6 718.2L1369.3 719.0L1370.0 740.4L1370.7 727.3L1371.4 718.9L1372.1 732.0L1372.8 745.8L1373.5 766.2L1374.1 740.8L1374.8 706.0L1375.5 742.6L1376.2 756.7L1376.9 710.4L1377.5 715.5L1378.2 742.0L1378.9 725.0L1379.6 728.1L1380.2 710.1L1380.9 728.3L1381.6 733.9L1382.2 754.4L1382.9 737.3L1383.5 755.2L1384.2 733.6L1384.8 763.0L1385.5 733.8L1386.1 743.6L1386.8 727.7L1387.4 730.9L1388.1 741.7L1388.7 751.8L1389.3 762.4L1390.0 771.0L1390.6 750.8L1391.2 734.5L1391.9 746.8L1392.5 736.9L1393.1 764.8L1393.8 731.9L1394.4 737.4L1395.0 733.6L1395.6 750.7L1396.2 739.4L1396.8 754.2L1397.5 743.3L1398.1 762.3L1398.7 785.3L1399.3 735.9L1399.9 771.3L1400.5 753.6L1401.1 782.6L1401.7 761.1L1402.4 758.6L1403.1 762.7L1403.9 738.8L1404.6 753.1L1405.3 779.2L1406.0 738.9L1406.7 759.7L1407.4 747.7L1408.1 767.9L1408.8 761.3L1409.5 737.2L1410.2 762.0L1410.9 804.9L1411.6 761.9L1412.2 778.0L1412.9 756.7L1413.6 777.2L1414.3 750.8L1415.0 776.6L1415.6 730.6L1416.3 753.5L1417.0 736.4L1417.6 754.3L1418.3 758.5L1419.0 757.8L1419.6 756.5L1420.3 765.5L1420.9 778.8L1421.6 760.9L1422.3 751.0L1422.9 768.1L1423.6 758.7L1424.2 773.3L1424.9 777.8L1425.5 812.9L1426.1 775.6L1426.8 751.8L1427.4 791.6L1428.0 766.3L1428.7 775.1L1429.3 789.5L1429.9 757.3L1430.6 767.4L1431.2 757.0L1431.8 764.9M145.6 47.8L191.8 54.5L229.6 79.8L261.5 71.1L289.1 83.8L313.5 104.6L335.3 105.3L355.1 120.5L373.1 113.7L389.6 126.8L405.0 138.6L419.3 142.7L432.6 149.2L445.2 153.6L457.0 160.0L468.2 148.0L478.8 169.1L488.9 158.3L498.6 163.0L507.8 185.1L516.6 158.8L525.0 174.0L533.2 182.8L541.0 191.4L548.5 194.1L555.8 202.5L562.8 199.9L569.6 197.5L576.1 216.3L582.5 237.3L588.7 218.2L594.7 229.9L600.5 240.6L606.2 226.5L611.7 229.0L617.1 222.0L622.4 220.9L627.5 247.2L632.5 243.0L637.3 243.6L642.1 272.8L646.7 265.0L651.3 300.8L655.7 297.0L660.1 285.3L664.4 284.6L668.6 287.5L672.7 291.9L676.7 288.3L680.6 261.8L684.5 275.6L688.3 271.3L692.0 272.4L695.7 272.2L699.3 289.0L702.8 291.4L706.3 315.4L709.7 308.3L713.1 314.7L716.4 332.1L719.7 345.1L722.9 357.8L726.0 344.2L729.1 354.6L732.2 373.6L735.2 406.2L738.2 377.1L741.2 368.0L744.1 370.4L746.9 383.8L749.7 375.8L752.5 391.4L755.2 370.3L758.0 374.3L760.6 361.2L763.3 367.4L765.9 354.1L768.4 373.0L771.0 364.6L773.5 337.9L776.0 371.5L778.4 348.5L780.8 331.5L783.2 360.0L785.6 347.3L787.9 357.8L790.3 359.7L792.5 344.8L794.8 356.0L797.0 383.4L799.3 343.9L801.4 377.9L803.6 364.5L805.8 357.7L807.9 372.2L810.0 369.0L812.1 377.7L814.1 397.4L816.2 369.3L818.2 363.9L820.2 398.2L822.2 382.2L824.1 380.6L826.1 373.3L828.0 411.7L829.9 411.3L831.8 385.7L833.7 411.1L835.5 376.3L837.4 399.9L839.2 390.0L841.0 414.0L842.8 412.2L844.6 399.0L846.3 415.8L848.1 379.7L849.8 421.5L851.5 408.2L853.2 413.0L854.9 402.3L856.6 430.5L858.3 419.9L859.9 417.5L861.6 404.9L863.2 400.4L864.8 411.8L866.4 410.5L868.0 405.6L869.6 411.5L871.1 395.2L872.7 401.7L874.2 415.0L875.7 412.7L877.2 402.6L878.8 415.3L880.3 410.8L881.7 405.7L883.2 413.3L884.7 410.4L886.1 419.8L887.6 420.7L889.0 427.8L890.4 419.7L891.8 419.1L893.2 420.3L894.6 437.5L896.0 427.1L897.4 439.0L898.8 453.6L900.1 436.5L901.5 437.9L902.8 439.0L904.1 444.2L905.5 432.8L906.8 436.4L908.1 453.8L909.4 408.4L910.7 437.0L912.0 453.5L913.2 437.2L914.5 428.2L915.8 439.9L917.0 430.8L918.2 438.2L919.5 433.5L920.7 465.1L921.9 436.5L923.1 454.7L924.4 421.1L925.6 434.0L926.7 454.0L927.9 435.7L929.1 427.6L930.3 456.3L931.5 450.9L932.6 442.9L933.8 460.0L934.9 473.1L936.1 465.0L937.2 482.1L938.3 466.1L939.4 429.8L940.6 466.4L941.7 470.3L942.8 464.6L943.9 435.1L945.0 455.5L946.1 450.7L947.1 471.8L948.2 475.2L949.3 471.8L950.3 445.4L951.4 423.3L952.5 461.8L953.5 458.9L954.5 432.4L955.6 460.8L956.6 454.4L957.6 465.0L958.7 448.3L959.7 457.7L960.7 436.1L961.7 456.0L962.7 472.3L963.7 444.1L964.7 448.2L965.7 453.5L966.7 457.5L967.6 461.6L968.6 457.8L969.6 428.1L970.6 464.1L971.5 449.9L972.5 474.5L973.4 446.4L974.4 472.8L975.3 482.1L976.3 433.4L977.2 447.9L978.1 477.9L979.0 490.4L980.0 463.2L980.9 461.0L981.8 446.2L982.7 467.7L983.6 473.2L984.5 467.7L985.4 457.8L986.3 477.6L987.2 467.6L988.1 495.4L989.0 507.2L989.9 471.5L990.7 477.9L991.6 488.8L992.5 488.1L993.3 487.6L994.2 489.5L995.1 485.5L995.9 487.6L996.8 503.5L997.6 515.5L998.4 481.3L999.3 490.7L1000.1 477.1L1001.0 504.3L1001.8 485.4L1002.6 501.3L1003.4 497.0L1004.3 509.3L1005.1 505.0L1005.9 494.3L1006.7 519.9L1007.5 509.3L1008.3 504.7L1009.1 512.3L1009.9 492.8L1010.7 493.1L1011.5 494.4L1012.3 482.0L1013.1 504.2L1013.9 495.7L1014.6 509.8L1015.4 492.4L1016.2 518.6L1017.0 501.7L1017.7 484.7L1018.5 525.6L1019.2 518.1L1020.0 470.9L1020.8 498.1L1021.5 473.4L1022.3 504.1L1023.0 476.3L1023.8 500.4L1024.5 503.3L1025.3 503.9L1026.0 478.2L1026.7 492.5L1027.5 483.5L1028.2 528.6L1028.9 496.9L1029.6 534.4L1030.4 484.7L1031.1 505.4L1031.8 498.0L1032.5 500.8L1033.2 515.6L1033.9 520.7L1034.6 531.2L1035.4 510.2L1036.1 502.0L1036.8 500.3L1037.5 493.7L1038.2 518.1L1038.8 477.8L1039.5 541.0L1040.2 509.9L1040.9 504.5L1041.6 504.2L1042.3 509.2L1043.0 522.0L1043.6 503.0L1044.3 522.7L1045.0 529.7L1045.7 537.6L1046.3 526.0L1047.0 499.9L1047.7 532.3L1048.3 513.1L1049.0 524.6L1049.6 517.6L1050.3 509.0L1050.9 529.6L1051.6 502.2L1052.3 490.9L1052.9 500.3L1053.5 503.2L1054.2 513.7L1054.8 503.0L1055.5 536.5L1056.1 541.0L1056.7 509.5L1057.4 510.4L1058.0 539.2L1058.6 525.3L1059.3 506.1L1059.9 525.5L1060.5 509.1L1061.1 500.3L1061.8 528.3L1062.4 536.7L1063.0 517.1L1063.6 524.1L1064.2 497.2L1064.8 520.2L1065.5 500.1L1066.1 521.4L1066.7 512.0L1067.3 534.4L1067.9 538.1L1068.5 500.4L1069.7 504.4L1070.9 522.2L1072.0 512.8L1073.2 518.7L1074.4 504.4L1075.6 502.6L1076.7 527.5L1077.9 487.8L1079.0 523.9L1080.1 477.9L1081.3 516.1L1082.4 487.4L1083.5 552.0L1084.6 510.1L1085.7 554.2L1086.8 498.7L1087.9 514.0L1089.0 513.5L1090.1 507.5L1091.2 510.6L1092.3 521.6L1093.3 505.5L1094.4 524.4L1095.4 515.4L1096.5 531.1L1097.5 521.2L1098.6 507.4L1099.6 505.7L1100.6 526.8L1101.7 526.8L1102.7 522.1L1103.7 560.5L1104.7 548.7L1105.7 550.0L1106.7 526.9L1107.7 524.7L1108.7 543.7L1109.7 549.2L1110.7 512.3L1111.7 555.2L1112.6 545.2L1113.6 527.1L1114.6 516.3L1115.5 564.1L1116.5 522.3L1117.4 559.6L1118.4 541.8L1119.3 523.1L1120.2 569.5L1121.2 539.8L1122.1 546.0L1123.0 550.3L1123.9 532.7L1124.9 531.2L1125.8 546.6L1126.7 550.0L1127.6 560.0L1128.5 535.8L1129.4 554.7L1130.3 539.0L1131.2 545.8L1132.0 505.9L1132.9 546.2L1133.8 514.3L1134.7 538.1L1135.6 530.1L1136.4 552.5L1137.3 554.7L1138.1 533.3L1139.0 533.8L1139.8 545.2L1140.7 557.1L1141.5 574.0L1142.4 553.0L1143.2 522.0L1144.1 519.0L1144.9 541.6L1145.7 549.0L1146.5 529.3L1147.4 539.4L1148.2 558.4L1149.0 561.9L1149.8 544.8L1150.6 538.9L1151.4 553.8L1152.2 570.7L1153.0 551.4L1153.8 538.7L1154.6 569.9L1155.4 530.2L1156.2 570.4L1157.0 561.6L1157.8 544.5L1158.5 565.4L1159.3 524.5L1160.1 552.5L1160.9 551.2L1161.6 534.2L1162.4 567.9L1163.1 561.0L1163.9 561.7L1164.7 591.5L1165.4 571.8L1166.2 577.8L1166.9 546.9L1167.7 584.6L1168.4 550.4L1169.1 582.9L1169.9 578.3L1170.6 569.4L1171.3 560.9L1172.1 573.1L1172.8 601.1L1173.5 582.3L1174.2 580.3L1175.0 570.6L1175.7 559.8L1176.4 590.7L1177.1 562.8L1177.8 568.4L1178.5 571.9L1179.2 572.5L1179.9 576.4L1180.6 578.1L1181.3 576.3L1182.0 569.2L1182.7 563.3L1183.4 588.9L1184.1 574.5L1184.8 557.9L1185.5 584.0L1186.1 583.5L1186.8 553.3L1187.5 570.7L1188.2 554.6L1188.8 562.7L1189.5 561.7L1190.2 575.5L1190.8 562.6L1191.5 570.6L1192.2 582.3L1192.8 600.1L1193.5 576.8L1194.1 570.4L1194.8 598.5L1195.4 590.2L1196.1 578.8L1196.7 575.9L1197.4 556.9L1198.0 561.2L1198.7 573.9L1199.3 546.3L1199.9 565.9L1200.6 573.4L1201.2 565.9L1201.8 567.8L1202.5 573.6L1203.1 584.6L1203.7 581.1L1204.3 577.6L1205.0 588.3L1205.6 589.8L1206.2 571.1L1206.8 563.9L1207.4 579.7L1208.1 585.4L1208.7 561.3L1209.3 575.7L1209.9 584.0L1210.5 575.6L1211.1 551.0L1211.7 582.8L1212.3 588.3L1213.2 583.3L1214.1 575.8L1215.0 587.1L1215.9 593.3L1216.7 558.0L1217.6 571.6L1218.5 614.7L1219.4 578.6L1220.2 598.7L1221.1 579.1L1221.9 600.0L1222.8 601.0L1223.7 589.1L1224.5 626.5L1225.4 603.9L1226.2 586.4L1227.0 614.3L1227.9 604.8L1228.7 632.5L1229.5 599.6L1230.4 601.3L1231.2 612.6L1232.0 617.4L1232.8 625.2L1233.6 603.5L1234.4 588.3L1235.2 629.1L1236.0 626.1L1236.8 612.8L1237.6 625.9L1238.4 623.6L1239.2 613.7L1240.0 610.8L1240.8 609.7L1241.6 631.3L1242.4 649.1L1243.1 645.3L1243.9 657.4L1244.7 598.7L1245.4 630.7L1246.2 637.8L1247.0 667.8L1247.7 627.4L1248.5 600.6L1249.2 619.8L1250.0 611.5L1250.7 646.1L1251.5 647.7L1252.2 655.8L1253.0 613.7L1253.7 651.6L1254.4 643.1L1255.2 632.9L1255.9 635.1L1256.6 647.3L1257.3 649.1L1258.1 659.4L1258.8 653.3L1259.5 627.5L1260.2 663.2L1260.9 638.3L1261.6 658.7L1262.4 627.9L1263.1 669.7L1263.8 595.2L1264.5 659.7L1265.2 632.2L1265.8 622.1L1266.5 631.9L1267.2 633.6L1267.9 635.7L1268.6 632.9L1269.3 645.3L1270.0 630.5L1270.7 631.1L1271.3 652.9L1272.0 644.2L1272.7 621.9L1273.3 632.5L1274.0 639.7L1274.7 639.7L1275.3 632.0L1276.0 621.8L1276.7 608.2L1277.3 654.6L1278.0 631.6L1278.6 671.4L1279.3 643.7L1279.9 648.0L1280.6 653.9L1281.2 643.5L1281.9 652.0L1282.5 655.8L1283.2 650.3L1283.8 628.9L1284.4 649.8L1285.1 648.6L1285.7 653.7L1286.3 658.2L1286.9 657.1L1287.6 655.5L1288.2 658.1L1288.8 649.9L1289.4 667.9L1290.1 656.3L1290.7 681.0L1291.3 696.3L1291.9 664.1L1292.5 687.6L1293.1 661.0L1293.7 658.4L1294.3 666.4L1294.9 655.3L1295.5 677.3L1296.1 649.3L1296.9 691.5L1297.7 687.3L1298.5 662.6L1299.3 691.5L1300.1 659.9L1300.9 684.1L1301.7 675.9L1302.4 687.5L1303.2 675.4L1304.0 695.4L1304.8 701.6L1305.5 691.1L1306.3 694.6L1307.0 702.4L1307.8 689.8L1308.6 714.9L1309.3 687.7L1310.1 685.0L1310.8 678.2L1311.5 681.9L1312.3 693.4L1313.0 708.3L1313.8 699.7L1314.5 698.8L1315.2 682.2L1315.9 690.4L1316.7 693.7L1317.4 721.9L1318.1 689.2L1318.8 674.1L1319.5 720.1L1320.3 676.5L1321.0 703.1L1321.7 705.2L1322.4 693.5L1323.1 698.7L1323.8 705.3L1324.5 702.9L1325.2 712.0L1325.9 699.6L1326.6 722.9L1327.3 731.5L1327.9 693.2L1328.6 685.7L1329.3 726.2L1330.0 702.2L1330.7 699.0L1331.3 725.7L1332.0 696.5L1332.7 720.2L1333.4 718.7L1334.0 733.9L1334.7 718.7L1335.4 673.2L1336.0 717.5L1336.7 725.9L1337.3 697.4L1338.0 718.5L1338.6 725.2L1339.3 710.5L1339.9 713.6L1340.6 687.9L1341.2 736.6L1341.9 723.0L1342.5 709.7L1343.1 716.8L1343.8 720.6L1344.4 699.9L1345.0 732.7L1345.7 744.9L1346.3 713.0L1346.9 745.2L1347.6 731.1L1348.2 737.1L1348.8 713.4L1349.4 717.3L1350.0 705.4L1350.6 742.3L1351.3 714.8L1351.9 734.7L1352.5 716.8L1353.1 739.9L1353.7 706.7L1354.3 705.5L1354.9 738.5L1355.5 733.7L1356.3 737.1L1357.0 745.4L1357.7 736.7L1358.5 737.0L1359.2 731.6L1360.0 745.6L1360.7 738.8L1361.4 717.0L1362.1 722.3L1362.9 754.8L1363.6 723.5L1364.3 718.2L1365.0 739.0L1365.8 757.5L1366.5 744.9L1367.2 750.3L1367.9 744.5L1368.6 727.4L1369.3 763.1L1370.0 744.3L1370.7 726.7L1371.4 744.8L1372.1 739.8L1372.8 738.7L1373.5 751.2L1374.1 719.7L1374.8 746.5L1375.5 721.7L1376.2 741.8L1376.9 730.3L1377.5 757.8L1378.2 724.8L1378.9 716.6L1379.6 756.9L1380.2 760.8L1380.9 754.6L1381.6 733.6L1382.2 765.6L1382.9 752.1L1383.5 748.8L1384.2 755.1L1384.8 736.1L1385.5 779.9L1386.1 754.4L1386.8 755.3L1387.4 778.3L1388.1 763.5L1388.7 736.6L1389.3 733.5L1390.0 773.1L1390.6 739.0L1391.2 764.8L1391.9 761.9L1392.5 733.0L1393.1 740.0L1393.8 766.3L1394.4 768.3L1395.0 760.8L1395.6 762.1L1396.2 775.5L1396.8 791.5L1397.5 730.0L1398.1 754.5L1398.7 759.3L1399.3 752.5L1399.9 766.3L1400.5 719.7L1401.1 760.9L1401.7 764.7L1402.4 782.0L1403.1 755.7L1403.9 787.2L1404.6 723.7L1405.3 758.3L1406.0 784.8L1406.7 754.1L1407.4 799.6L1408.1 787.1L1408.8 761.2L1409.5 755.3L1410.2 772.8L1410.9 762.3L1411.6 746.6L1412.2 765.4L1412.9 755.9L1413.6 797.5L1414.3 763.3L1415.0 782.2L1415.6 777.4L1416.3 759.4L1417.0 779.3L1417.6 780.5L1418.3 770.7L1419.0 757.7L1419.6 772.6L1420.3 752.9L1420.9 791.4L1421.6 790.3L1422.3 767.6L1422.9 783.7L1423.6 799.0L1424.2 775.2L1424.9 786.4L1425.5 787.4L1426.1 782.7L1426.8 777.0L1427.4 734.6L1428.0 761.9L1428.7 778.0L1429.3 777.5L1429.9 767.4L1430.6 762.5L1431.2 774.7L1431.8 734.7M145.6 46.0L191.8 63.8L229.6 68.5L261.5 84.7L289.1 95.9L313.5 117.0L335.3 111.9L355.1 111.5L373.1 120.5L389.6 145.4L405.0 161.6L419.3 162.5L432.6 154.7L445.2 159.4L457.0 165.0L468.2 169.5L478.8 175.2L488.9 167.8L498.6 186.5L507.8 185.8L516.6 172.6L525.0 187.7L533.2 188.8L541.0 195.4L548.5 201.2L555.8 219.6L562.8 210.3L569.6 214.1L576.1 225.8L582.5 245.2L588.7 222.8L594.7 212.3L600.5 243.5L606.2 227.9L611.7 231.5L617.1 246.7L622.4 241.7L627.5 243.5L632.5 262.8L637.3 281.9L642.1 285.5L646.7 288.9L651.3 288.2L655.7 300.9L660.1 297.8L664.4 295.3L668.6 301.9L672.7 305.3L676.7 340.4L680.6 316.7L684.5 328.3L688.3 330.0L692.0 337.8L695.7 322.4L699.3 329.7L702.8 349.7L706.3 332.5L709.7 336.6L713.1 358.1L716.4 339.5L719.7 365.1L722.9 358.5L726.0 365.3L729.1 353.8L732.2 391.3L735.2 389.5L738.2 340.0L741.2 362.8L744.1 359.1L746.9 369.2L749.7 363.6L752.5 356.7L755.2 355.0L758.0 386.1L760.6 370.8L763.3 390.5L765.9 392.5L768.4 402.1L771.0 379.4L773.5 389.2L776.0 390.2L778.4 403.1L780.8 405.3L783.2 374.6L785.6 384.2L787.9 411.0L790.3 381.8L792.5 400.2L794.8 375.5L797.0 398.9L799.3 417.4L801.4 406.5L803.6 405.7L805.8 396.0L807.9 394.3L810.0 409.0L812.1 373.7L814.1 409.4L816.2 404.8L818.2 420.9L820.2 417.8L822.2 399.1L824.1 404.4L826.1 421.6L828.0 415.7L829.9 423.7L831.8 413.6L833.7 389.0L835.5 402.7L837.4 406.2L839.2 422.1L841.0 401.1L842.8 418.8L844.6 404.3L846.3 399.1L848.1 430.5L849.8 429.4L851.5 437.8L853.2 439.4L854.9 430.8L856.6 441.6L858.3 408.6L859.9 421.9L861.6 431.3L863.2 433.0L864.8 455.9L866.4 445.7L868.0 459.1L869.6 450.4L871.1 448.6L872.7 444.5L874.2 470.3L875.7 463.4L877.2 447.7L878.8 457.8L880.3 441.9L881.7 440.6L883.2 467.6L884.7 452.7L886.1 460.3L887.6 453.0L889.0 458.8L890.4 433.0L891.8 447.2L893.2 434.4L894.6 462.3L896.0 476.5L897.4 431.0L898.8 454.8L900.1 466.7L901.5 449.9L902.8 447.0L904.1 474.1L905.5 486.4L906.8 440.5L908.1 463.7L909.4 443.7L910.7 444.5L912.0 461.1L913.2 415.8L914.5 439.5L915.8 447.3L917.0 443.0L918.2 446.7L919.5 442.8L920.7 451.3L921.9 440.5L923.1 448.2L924.4 433.0L925.6 436.4L926.7 450.4L927.9 442.2L929.1 443.3L930.3 445.7L931.5 463.2L932.6 443.4L933.8 454.4L934.9 434.6L936.1 472.8L937.2 435.7L938.3 493.9L939.4 455.9L940.6 435.2L941.7 457.2L942.8 464.7L943.9 444.4L945.0 460.9L946.1 467.9L947.1 491.5L948.2 478.7L949.3 483.6L950.3 465.3L951.4 485.5L952.5 486.7L953.5 506.4L954.5 474.9L955.6 493.7L956.6 464.6L957.6 481.4L958.7 481.1L959.7 500.6L960.7 457.2L961.7 480.8L962.7 507.4L963.7 498.7L964.7 495.0L965.7 528.8L966.7 516.8L967.6 510.6L968.6 507.5L969.6 498.6L970.6 535.2L971.5 514.8L972.5 491.6L973.4 519.3L974.4 502.9L975.3 511.4L976.3 503.2L977.2 519.7L978.1 528.3L979.0 482.1L980.0 505.6L980.9 513.8L981.8 521.0L982.7 504.9L983.6 519.3L984.5 519.0L985.4 494.4L986.3 528.4L987.2 512.2L988.1 507.8L989.0 503.6L989.9 519.6L990.7 515.7L991.6 494.0L992.5 526.1L993.3 523.8L994.2 507.7L995.1 501.9L995.9 511.3L996.8 488.3L997.6 505.5L998.4 505.5L999.3 510.1L1000.1 518.1L1001.0 482.4L1001.8 506.8L1002.6 528.9L1003.4 508.9L1004.3 523.9L1005.1 527.7L1005.9 481.9L1006.7 502.7L1007.5 518.5L1008.3 539.7L1009.1 516.1L1009.9 516.1L1010.7 519.9L1011.5 522.3L1012.3 505.0L1013.1 519.4L1013.9 524.4L1014.6 511.5L1015.4 522.2L1016.2 529.7L1017.0 530.8L1017.7 558.7L1018.5 509.9L1019.2 513.9L1020.0 507.8L1020.8 535.9L1021.5 524.0L1022.3 512.7L1023.0 526.7L1023.8 531.3L1024.5 524.0L1025.3 510.9L1026.0 515.9L1026.7 521.4L1027.5 517.1L1028.2 547.6L1028.9 545.3L1029.6 550.0L1030.4 511.2L1031.1 523.7L1031.8 555.6L1032.5 543.8L1033.2 514.5L1033.9 539.1L1034.6 507.3L1035.4 515.9L1036.1 521.7L1036.8 519.0L1037.5 539.4L1038.2 509.8L1038.8 535.5L1039.5 532.9L1040.2 525.1L1040.9 522.8L1041.6 549.4L1042.3 518.8L1043.0 524.6L1043.6 552.4L1044.3 538.5L1045.0 537.5L1045.7 528.4L1046.3 557.8L1047.0 530.9L1047.7 531.2L1048.3 527.5L1049.0 522.6L1049.6 515.9L1050.3 549.3L1050.9 555.3L1051.6 552.2L1052.3 528.9L1052.9 534.6L1053.5 531.6L1054.2 526.8L1054.8 553.2L1055.5 555.4L1056.1 541.1L1056.7 555.8L1057.4 551.9L1058.0 533.5L1058.6 553.1L1059.3 514.1L1059.9 520.5L1060.5 547.2L1061.1 549.4L1061.8 540.1L1062.4 538.5L1063.0 515.3L1063.6 577.3L1064.2 517.6L1064.8 523.1L1065.5 507.9L1066.1 551.0L1066.7 519.1L1067.3 544.6L1067.9 539.9L1068.5 553.7L1069.7 552.2L1070.9 520.5L1072.0 541.1L1073.2 536.1L1074.4 566.1L1075.6 563.1L1076.7 540.6L1077.9 554.0L1079.0 553.0L1080.1 534.5L1081.3 535.6L1082.4 535.1L1083.5 537.8L1084.6 560.5L1085.7 565.5L1086.8 527.5L1087.9 562.8L1089.0 551.3L1090.1 561.1L1091.2 567.0L1092.3 550.0L1093.3 520.6L1094.4 555.0L1095.4 529.0L1096.5 549.6L1097.5 547.3L1098.6 548.6L1099.6 571.2L1100.6 547.4L1101.7 575.5L1102.7 547.9L1103.7 574.5L1104.7 540.4L1105.7 563.5L1106.7 531.1L1107.7 581.4L1108.7 583.5L1109.7 561.0L1110.7 573.9L1111.7 549.5L1112.6 581.1L1113.6 540.8L1114.6 556.3L1115.5 549.8L1116.5 570.1L1117.4 579.4L1118.4 555.6L1119.3 545.8L1120.2 564.8L1121.2 561.3L1122.1 571.5L1123.0 560.9L1123.9 557.5L1124.9 560.0L1125.8 527.4L1126.7 563.0L1127.6 580.7L1128.5 560.5L1129.4 548.5L1130.3 593.7L1131.2 582.2L1132.0 577.5L1132.9 574.8L1133.8 573.9L1134.7 552.8L1135.6 579.1L1136.4 574.2L1137.3 581.3L1138.1 567.4L1139.0 548.2L1139.8 534.3L1140.7 567.5L1141.5 581.0L1142.4 566.6L1143.2 560.5L1144.1 565.7L1144.9 575.4L1145.7 542.6L1146.5 561.3L1147.4 553.0L1148.2 562.0L1149.0 571.2L1149.8 579.7L1150.6 548.8L1151.4 576.1L1152.2 593.7L1153.0 564.0L1153.8 560.9L1154.6 576.7L1155.4 565.6L1156.2 565.1L1157.0 577.6L1157.8 563.3L1158.5 576.1L1159.3 559.1L1160.1 584.1L1160.9 578.6L1161.6 565.8L1162.4 576.7L1163.1 549.6L1163.9 581.8L1164.7 575.0L1165.4 560.3L1166.2 542.6L1166.9 588.7L1167.7 590.0L1168.4 590.6L1169.1 566.0L1169.9 568.1L1170.6 585.5L1171.3 581.0L1172.1 575.8L1172.8 567.0L1173.5 575.7L1174.2 550.9L1175.0 562.7L1175.7 549.1L1176.4 582.1L1177.1 575.8L1177.8 542.6L1178.5 574.8L1179.2 546.2L1179.9 582.0L1180.6 586.8L1181.3 552.4L1182.0 563.3L1182.7 580.6L1183.4 569.3L1184.1 599.6L1184.8 565.0L1185.5 561.3L1186.1 560.8L1186.8 594.5L1187.5 551.5L1188.2 571.5L1188.8 574.4L1189.5 594.0L1190.2 584.5L1190.8 572.2L1191.5 589.2L1192.2 602.9L1192.8 581.9L1193.5 606.9L1194.1 594.9L1194.8 619.2L1195.4 609.3L1196.1 564.3L1196.7 603.1L1197.4 601.3L1198.0 583.1L1198.7 607.6L1199.3 601.9L1199.9 580.8L1200.6 576.6L1201.2 591.1L1201.8 596.5L1202.5 600.1L1203.1 573.3L1203.7 602.5L1204.3 579.0L1205.0 606.5L1205.6 594.7L1206.2 616.4L1206.8 608.9L1207.4 597.3L1208.1 593.1L1208.7 606.5L1209.3 621.3L1209.9 595.4L1210.5 591.6L1211.1 606.1L1211.7 573.4L1212.3 622.3L1213.2 602.4L1214.1 616.7L1215.0 608.9L1215.9 586.1L1216.7 605.3L1217.6 596.4L1218.5 598.5L1219.4 596.9L1220.2 597.8L1221.1 605.3L1221.9 647.5L1222.8 616.0L1223.7 581.0L1224.5 634.8L1225.4 608.6L1226.2 633.6L1227.0 624.9L1227.9 631.4L1228.7 646.0L1229.5 627.5L1230.4 625.5L1231.2 634.3L1232.0 622.8L1232.8 658.5L1233.6 649.5L1234.4 646.8L1235.2 650.3L1236.0 646.1L1236.8 642.9L1237.6 672.7L1238.4 645.0L1239.2 656.1L1240.0 660.3L1240.8 647.9L1241.6 676.0L1242.4 666.1L1243.1 671.8L1243.9 652.7L1244.7 618.4L1245.4 648.5L1246.2 654.9L1247.0 655.9L1247.7 631.8L1248.5 658.1L1249.2 632.1L1250.0 675.7L1250.7 637.5L1251.5 674.4L1252.2 663.6L1253.0 667.7L1253.7 679.1L1254.4 644.3L1255.2 671.4L1255.9 668.2L1256.6 677.2L1257.3 675.8L1258.1 652.2L1258.8 691.6L1259.5 661.5L1260.2 652.5L1260.9 669.9L1261.6 652.9L1262.4 645.2L1263.1 636.2L1263.8 652.8L1264.5 689.6L1265.2 653.5L1265.8 654.0L1266.5 649.7L1267.2 664.5L1267.9 641.3L1268.6 666.9L1269.3 665.7L1270.0 662.3L1270.7 654.6L1271.3 664.8L1272.0 664.6L1272.7 657.4L1273.3 639.7L1274.0 678.3L1274.7 671.0L1275.3 637.1L1276.0 654.9L1276.7 660.3L1277.3 651.9L1278.0 668.4L1278.6 666.1L1279.3 666.8L1279.9 682.6L1280.6 686.6L1281.2 677.2L1281.9 656.5L1282.5 660.0L1283.2 688.3L1283.8 701.7L1284.4 662.2L1285.1 671.5L1285.7 666.1L1286.3 694.0L1286.9 680.1L1287.6 678.1L1288.2 683.7L1288.8 679.4L1289.4 698.4L1290.1 679.2L1290.7 720.6L1291.3 691.0L1291.9 699.9L1292.5 697.1L1293.1 708.2L1293.7 692.3L1294.3 687.9L1294.9 705.3L1295.5 706.5L1296.1 712.3L1296.9 704.1L1297.7 717.4L1298.5 689.0L1299.3 693.1L1300.1 717.1L1300.9 725.6L1301.7 736.1L1302.4 717.7L1303.2 706.4L1304.0 700.1L1304.8 695.3L1305.5 713.6L1306.3 699.6L1307.0 708.8L1307.8 709.8L1308.6 714.4L1309.3 706.4L1310.1 706.0L1310.8 705.3L1311.5 690.1L1312.3 686.5L1313.0 700.0L1313.8 724.1L1314.5 721.6L1315.2 720.6L1315.9 710.4L1316.7 716.8L1317.4 715.3L1318.1 713.7L1318.8 717.9L1319.5 722.2L1320.3 721.6L1321.0 723.6L1321.7 712.6L1322.4 724.2L1323.1 724.5L1323.8 727.0L1324.5 746.0L1325.2 723.6L1325.9 717.5L1326.6 725.0L1327.3 733.4L1327.9 725.4L1328.6 728.6L1329.3 715.4L1330.0 713.8L1330.7 738.2L1331.3 712.8L1332.0 719.0L1332.7 723.8L1333.4 762.0L1334.0 736.8L1334.7 738.5L1335.4 705.1L1336.0 700.6L1336.7 715.8L1337.3 732.0L1338.0 734.4L1338.6 731.9L1339.3 744.8L1339.9 735.5L1340.6 737.7L1341.2 723.8L1341.9 735.5L1342.5 759.5L1343.1 736.3L1343.8 732.6L1344.4 751.3L1345.0 722.5L1345.7 760.9L1346.3 744.3L1346.9 735.4L1347.6 742.6L1348.2 737.5L1348.8 734.2L1349.4 767.7L1350.0 722.0L1350.6 767.1L1351.3 753.0L1351.9 716.6L1352.5 763.8L1353.1 755.8L1353.7 780.7L1354.3 741.6L1354.9 741.7L1355.5 758.9L1356.3 743.6L1357.0 762.2L1357.7 724.1L1358.5 762.4L1359.2 750.5L1360.0 732.0L1360.7 747.3L1361.4 756.7L1362.1 720.2L1362.9 727.9L1363.6 773.7L1364.3 757.5L1365.0 747.9L1365.8 728.0L1366.5 767.2L1367.2 756.6L1367.9 744.5L1368.6 778.1L1369.3 759.0L1370.0 756.2L1370.7 721.8L1371.4 732.8L1372.1 739.2L1372.8 784.6L1373.5 759.7L1374.1 727.4L1374.8 756.4L1375.5 750.3L1376.2 723.4L1376.9 735.9L1377.5 755.9L1378.2 771.1L1378.9 773.6L1379.6 761.9L1380.2 745.1L1380.9 775.3L1381.6 765.0L1382.2 757.4L1382.9 743.7L1383.5 749.7L1384.2 745.7L1384.8 763.3L1385.5 771.4L1386.1 746.6L1386.8 717.5L1387.4 745.9L1388.1 775.7L1388.7 764.2L1389.3 768.8L1390.0 737.7L1390.6 775.6L1391.2 766.0L1391.9 768.0L1392.5 760.5L1393.1 763.8L1393.8 779.7L1394.4 782.0L1395.0 759.9L1395.6 788.5L1396.2 755.4L1396.8 777.5L1397.5 777.0L1398.1 754.0L1398.7 767.5L1399.3 758.3L1399.9 768.5L1400.5 793.7L1401.1 752.2L1401.7 756.4L1402.4 756.4L1403.1 782.0L1403.9 799.1L1404.6 762.8L1405.3 803.4L1406.0 772.4L1406.7 778.6L1407.4 772.0L1408.1 784.1L1408.8 789.0L1409.5 782.4L1410.2 788.3L1410.9 784.0L1411.6 773.1L1412.2 774.2L1412.9 767.1L1413.6 768.8L1414.3 796.5L1415.0 806.7L1415.6 764.1L1416.3 766.4L1417.0 798.7L1417.6 740.7L1418.3 772.7L1419.0 787.1L1419.6 780.2L1420.3 790.9L1420.9 774.8L1421.6 793.0L1422.3 756.4L1422.9 795.9L1423.6 768.4L1424.2 824.4L1424.9 794.3L1425.5 773.4L1426.1 772.4L1426.8 801.1L1427.4 777.1L1428.0 762.9L1428.7 770.3L1429.3 794.8L1429.9 794.5L1430.6 768.9L1431.2 813.7L1431.8 796.2" stroke="#999999" stroke-width="3"/>
<path d="M145.5 444.0H1000" stroke="#d95319" stroke-width="4.6" stroke-linecap="butt"/>
<path d="M145.5 614.5H1247" stroke="#d95319" stroke-width="4.6" stroke-linecap="butt"/>
<path d="M145.5 785.0H1415" stroke="#d95319" stroke-width="4.6" stroke-linecap="butt"/>
<path d="M145.6 11.7L191.8 24.9L229.6 41.0L261.5 49.9L289.1 69.0L313.5 74.6L335.3 80.1L355.1 89.3L373.1 97.8L389.6 104.8L405.0 110.7L419.3 117.7L432.6 124.6L445.2 128.4L457.0 127.6L468.2 132.2L478.8 136.1L488.9 142.8L498.6 145.3L507.8 152.2L516.6 154.0L525.0 158.8L533.2 161.2L541.0 170.7L548.5 171.4L555.8 173.4L562.8 177.4L569.6 177.3L576.1 181.8L582.5 180.8L588.7 185.0L594.7 184.2L600.5 184.6L606.2 188.0L611.7 188.1L617.1 193.4L622.4 195.2L627.5 198.5L632.5 200.4L637.3 202.1L642.1 205.1L646.7 210.6L651.3 213.4L655.7 217.2L660.1 221.4L664.4 225.0L668.6 225.8L672.7 232.0L676.7 228.4L680.6 230.2L684.5 233.1L688.3 236.4L692.0 236.3L695.7 236.7L699.3 239.1L702.8 242.1L706.3 246.6L709.7 245.0L713.1 248.7L716.4 250.4L719.7 255.8L722.9 259.4L726.0 259.4L729.1 270.2L732.2 269.4L735.2 270.6L738.2 271.1L741.2 273.7L744.1 275.5L746.9 277.9L749.7 278.0L752.5 280.2L755.2 277.2L758.0 280.1L760.6 280.8L763.3 284.8L765.9 287.2L768.4 285.0L771.0 289.3L773.5 292.8L776.0 294.9L778.4 292.3L780.8 297.4L783.2 298.5L785.6 298.5L787.9 305.1L790.3 299.9L792.5 303.0L794.8 305.9L797.0 306.7L799.3 307.1L801.4 311.7L803.6 313.1L805.8 313.2L807.9 314.6L810.0 313.5L812.1 312.3L814.1 320.8L816.2 315.1L818.2 323.3L820.2 319.2L822.2 321.1L824.1 321.4L826.1 325.0L828.0 322.8L829.9 329.2L831.8 327.4L833.7 327.6L835.5 327.0L837.4 329.7L839.2 329.9L841.0 335.2L842.8 333.8L844.6 328.9L846.3 336.8L848.1 328.6L849.8 338.5L851.5 331.3L853.2 336.5L854.9 339.2L856.6 338.0L858.3 336.2L859.9 342.5L861.6 336.1L863.2 337.6L864.8 345.1L866.4 340.5L868.0 343.9L869.6 346.0L871.1 344.5L872.7 346.2L874.2 346.5L875.7 347.5L877.2 350.5L878.8 350.7L880.3 350.1L881.7 352.4L883.2 349.7L884.7 350.1L886.1 350.3L887.6 355.6L889.0 358.5L890.4 355.5L891.8 351.2L893.2 355.7L894.6 358.9L896.0 359.3L897.4 359.6L898.8 362.7L900.1 363.3L901.5 358.4L902.8 363.7L904.1 361.5L905.5 364.7L906.8 368.1L908.1 370.4L909.4 368.2L910.7 365.9L912.0 367.1L913.2 370.3L914.5 367.3L915.8 370.6L917.0 373.3L918.2 375.1L919.5 372.8L920.7 375.5L921.9 379.0L923.1 377.2L924.4 372.7L925.6 378.7L926.7 379.7L927.9 378.8L929.1 381.0L930.3 377.8L931.5 385.9L932.6 384.6L933.8 382.9L934.9 385.8L936.1 386.4L937.2 384.6L938.3 380.5L939.4 380.8L940.6 394.9L941.7 387.2L942.8 390.3L943.9 393.5L945.0 391.7L946.1 396.8L947.1 391.7L948.2 396.7L949.3 390.2L950.3 398.7L951.4 399.5L952.5 399.4L953.5 400.1L954.5 400.8L955.6 403.4L956.6 404.5L957.6 400.0L958.7 406.4L959.7 401.6L960.7 405.6L961.7 405.2L962.7 408.1L963.7 406.6L964.7 409.5L965.7 407.8L966.7 407.3L967.6 413.9L968.6 413.3L969.6 413.9L970.6 415.9L971.5 410.9L972.5 417.4L973.4 412.5L974.4 417.4L975.3 416.6L976.3 418.6L977.2 420.7L978.1 419.4L979.0 417.4L980.0 423.6L980.9 425.1L981.8 424.4L982.7 426.2L983.6 418.6L984.5 424.8L985.4 425.3L986.3 421.1L987.2 428.6L988.1 429.6L989.0 426.3L989.9 429.6L990.7 433.7L991.6 436.5L992.5 438.1L993.3 433.9L994.2 435.3L995.1 438.3L995.9 439.7L996.8 438.0L997.6 439.1L998.4 441.7L999.3 441.5" stroke="#4b2e83" stroke-width="13.8"/>
<path d="M990.7 433.7L991.6 436.5L992.5 438.1L993.3 433.9L994.2 435.3L995.1 438.3L995.9 439.7L996.8 438.0L997.6 439.1L998.4 441.7L999.3 441.5L1000.1 439.7L1001.0 435.7L1001.8 437.5L1002.6 441.8L1003.4 444.1L1004.3 446.1L1005.1 441.0L1005.9 444.2L1006.7 443.3L1007.5 439.3L1008.3 446.3L1009.1 445.0L1009.9 464.1L1010.7 452.5L1011.5 449.2L1012.3 451.7L1013.1 453.0L1013.9 457.5L1014.6 454.6L1015.4 457.3L1016.2 454.2L1017.0 457.1L1017.7 457.8L1018.5 456.3L1019.2 453.7L1020.0 457.4L1020.8 452.8L1021.5 458.9L1022.3 453.6L1023.0 452.5L1023.8 461.1L1024.5 453.8L1025.3 467.6L1026.0 452.5L1026.7 454.4L1027.5 456.3L1028.2 454.9L1028.9 463.0L1029.6 457.2L1030.4 456.1L1031.1 464.8L1031.8 464.2L1032.5 454.6L1033.2 461.3L1033.9 467.3L1034.6 462.0L1035.4 464.3L1036.1 465.2L1036.8 458.9L1037.5 464.5L1038.2 471.3L1038.8 486.6L1039.5 470.5L1040.2 460.7L1040.9 464.9L1041.6 474.5L1042.3 476.7L1043.0 472.9L1043.6 477.1L1044.3 479.1L1045.0 479.5L1045.7 472.0L1046.3 480.5L1047.0 466.6L1047.7 478.3L1048.3 471.4L1049.0 478.0L1049.6 472.2L1050.3 468.9L1050.9 478.4L1051.6 478.1L1052.3 478.4L1052.9 478.9L1053.5 478.4L1054.2 482.5L1054.8 481.5L1055.5 484.6L1056.1 488.0L1056.7 481.6L1057.4 481.8L1058.0 497.4L1058.6 475.8L1059.3 466.6L1059.9 480.0L1060.5 473.3L1061.1 482.7L1061.8 485.0L1062.4 474.3L1063.0 476.0L1063.6 482.5L1064.2 484.2L1064.8 472.8L1065.5 481.1L1066.1 478.2L1066.7 472.0L1067.3 477.4L1067.9 476.8L1068.5 479.4L1069.7 479.1L1070.9 477.9L1072.0 478.4L1073.2 478.3L1074.4 480.9L1075.6 482.7L1076.7 483.3L1077.9 476.7L1079.0 477.8L1080.1 479.0L1081.3 488.0L1082.4 484.9L1083.5 480.6L1084.6 480.6L1085.7 483.4L1086.8 489.8L1087.9 487.4L1089.0 494.0L1090.1 499.6L1091.2 493.2L1092.3 498.0L1093.3 488.3L1094.4 496.2L1095.4 496.1L1096.5 491.2L1097.5 500.9L1098.6 495.3L1099.6 492.5L1100.6 494.3L1101.7 499.7L1102.7 502.5L1103.7 496.6L1104.7 480.6L1105.7 497.2L1106.7 494.1L1107.7 496.2L1108.7 499.9L1109.7 496.9L1110.7 499.2L1111.7 500.0L1112.6 498.9L1113.6 498.2L1114.6 497.3L1115.5 499.4L1116.5 501.3L1117.4 503.6L1118.4 502.7L1119.3 490.0L1120.2 495.2L1121.2 495.5L1122.1 498.2L1123.0 497.0L1123.9 485.3L1124.9 492.5L1125.8 483.0L1126.7 488.7L1127.6 487.0L1128.5 488.8L1129.4 499.2L1130.3 489.9L1131.2 483.7L1132.0 493.6L1132.9 498.4L1133.8 486.0L1134.7 502.6L1135.6 494.2L1136.4 495.7L1137.3 503.5L1138.1 508.6L1139.0 520.6L1139.8 514.7L1140.7 510.3L1141.5 513.6L1142.4 510.9L1143.2 519.3L1144.1 520.9L1144.9 516.3L1145.7 524.1L1146.5 511.5L1147.4 518.0L1148.2 516.7L1149.0 519.1L1149.8 514.9L1150.6 528.2L1151.4 519.4L1152.2 523.6L1153.0 530.1L1153.8 532.3L1154.6 530.4L1155.4 514.0L1156.2 513.5L1157.0 523.5L1157.8 528.7L1158.5 521.6L1159.3 522.9L1160.1 528.7L1160.9 523.7L1161.6 519.5L1162.4 518.5L1163.1 527.2L1163.9 518.0L1164.7 530.3L1165.4 524.4L1166.2 524.6L1166.9 528.4L1167.7 533.4L1168.4 531.8L1169.1 523.0L1169.9 521.5L1170.6 541.8L1171.3 533.9L1172.1 521.1L1172.8 544.1L1173.5 529.4L1174.2 548.3L1175.0 548.3L1175.7 544.6L1176.4 541.2L1177.1 537.3L1177.8 547.3L1178.5 540.9L1179.2 549.2L1179.9 542.7L1180.6 536.6L1181.3 541.7L1182.0 546.3L1182.7 544.0L1183.4 547.8L1184.1 542.9L1184.8 556.7L1185.5 546.1L1186.1 552.2L1186.8 541.2L1187.5 555.0L1188.2 559.3L1188.8 554.7L1189.5 550.6L1190.2 547.3L1190.8 555.8L1191.5 556.0L1192.2 546.3L1192.8 553.7L1193.5 568.2L1194.1 550.1L1194.8 557.9L1195.4 553.5L1196.1 563.1L1196.7 540.3L1197.4 567.8L1198.0 557.0L1198.7 546.5L1199.3 552.0L1199.9 552.7L1200.6 562.7L1201.2 556.0L1201.8 558.1L1202.5 559.1L1203.1 572.6L1203.7 557.3L1204.3 569.4L1205.0 557.9L1205.6 550.4L1206.2 554.7L1206.8 552.5L1207.4 557.5L1208.1 551.6L1208.7 554.7L1209.3 570.5L1209.9 561.4L1210.5 562.1L1211.1 570.5L1211.7 551.3L1212.3 563.8L1213.2 558.3L1214.1 560.9L1215.0 557.5L1215.9 562.2L1216.7 568.7L1217.6 568.7L1218.5 563.8L1219.4 567.7L1220.2 556.9L1221.1 547.7L1221.9 570.9L1222.8 577.2L1223.7 568.9L1224.5 563.3L1225.4 567.8L1226.2 575.1L1227.0 562.0L1227.9 569.8L1228.7 573.5L1229.5 564.7L1230.4 570.6L1231.2 576.5L1232.0 582.8L1232.8 568.7L1233.6 578.0L1234.4 587.5L1235.2 583.0L1236.0 589.5L1236.8 573.1L1237.6 585.2L1238.4 575.7L1239.2 586.2L1240.0 592.7L1240.8 583.2L1241.6 587.0L1242.4 597.9L1243.1 601.8L1243.9 599.0L1244.7 597.6L1245.4 609.1L1246.2 610.2L1247.0 601.2L1247.7 606.8L1248.5 600.4L1249.2 604.1L1250.0 611.5L1250.7 604.9L1251.5 603.2L1252.2 602.8L1253.0 610.2L1253.7 617.6L1254.4 613.7L1255.2 606.9L1255.9 613.9L1256.6 615.4L1257.3 619.3L1258.1 605.6L1258.8 614.8L1259.5 608.3L1260.2 607.7L1260.9 620.5L1261.6 616.1L1262.4 613.3L1263.1 622.8L1263.8 614.8L1264.5 607.7L1265.2 612.4L1265.8 608.2L1266.5 609.0L1267.2 612.8L1267.9 615.2L1268.6 623.6L1269.3 614.7L1270.0 604.0L1270.7 614.0L1271.3 621.2L1272.0 618.4L1272.7 618.8L1273.3 610.7L1274.0 617.6L1274.7 625.8L1275.3 626.5L1276.0 615.4L1276.7 621.5L1277.3 615.2L1278.0 631.3L1278.6 617.8L1279.3 627.6L1279.9 618.0L1280.6 617.7L1281.2 624.8L1281.9 634.0L1282.5 621.9L1283.2 637.4L1283.8 627.2L1284.4 634.5L1285.1 650.4L1285.7 649.2L1286.3 632.1L1286.9 630.7L1287.6 629.6L1288.2 638.5L1288.8 616.1L1289.4 627.8L1290.1 634.1L1290.7 629.3L1291.3 628.2L1291.9 650.6L1292.5 625.8L1293.1 636.5L1293.7 636.2L1294.3 638.2L1294.9 633.7L1295.5 652.2L1296.1 644.7L1296.9 664.2L1297.7 635.2L1298.5 651.2L1299.3 638.6L1300.1 655.0L1300.9 665.8L1301.7 643.8L1302.4 666.9L1303.2 649.7L1304.0 647.5L1304.8 664.1L1305.5 669.9L1306.3 664.8L1307.0 668.0L1307.8 665.6L1308.6 661.7L1309.3 645.0L1310.1 665.7L1310.8 663.3L1311.5 678.5L1312.3 664.3L1313.0 697.7L1313.8 683.2L1314.5 672.6L1315.2 686.2L1315.9 677.0L1316.7 695.2L1317.4 675.3L1318.1 697.4L1318.8 667.9L1319.5 682.0L1320.3 680.1L1321.0 670.2L1321.7 677.3L1322.4 681.5L1323.1 666.8L1323.8 671.1L1324.5 687.8L1325.2 672.3L1325.9 702.0L1326.6 702.2L1327.3 676.3L1327.9 687.0L1328.6 689.4L1329.3 692.0L1330.0 675.9L1330.7 692.7L1331.3 676.1L1332.0 682.0L1332.7 699.9L1333.4 682.4L1334.0 670.7L1334.7 676.1L1335.4 688.3L1336.0 673.7L1336.7 672.1L1337.3 688.7L1338.0 674.8L1338.6 718.3L1339.3 681.1L1339.9 701.3L1340.6 672.3L1341.2 689.4L1341.9 707.0L1342.5 704.3L1343.1 707.1L1343.8 690.8L1344.4 703.1L1345.0 698.7L1345.7 682.2L1346.3 720.7L1346.9 695.2L1347.6 703.0L1348.2 720.3L1348.8 718.6L1349.4 748.8L1350.0 710.1L1350.6 734.1L1351.3 712.0L1351.9 715.3L1352.5 731.8L1353.1 726.0L1353.7 708.7L1354.3 715.4L1354.9 719.9L1355.5 743.5L1356.3 706.4L1357.0 722.2L1357.7 728.6L1358.5 721.8L1359.2 712.3L1360.0 733.8L1360.7 706.7L1361.4 752.2L1362.1 681.0L1362.9 692.2L1363.6 726.2L1364.3 734.4L1365.0 732.3L1365.8 716.1L1366.5 723.8L1367.2 727.2L1367.9 713.2L1368.6 722.0L1369.3 713.3L1370.0 748.2L1370.7 736.8L1371.4 723.5L1372.1 725.1L1372.8 724.3L1373.5 727.2L1374.1 737.5L1374.8 727.7L1375.5 725.8L1376.2 741.2L1376.9 732.7L1377.5 736.1L1378.2 737.9L1378.9 734.2L1379.6 719.0L1380.2 734.2L1380.9 759.0L1381.6 724.5L1382.2 725.3L1382.9 732.4L1383.5 733.3L1384.2 763.8L1384.8 735.3L1385.5 760.6L1386.1 754.7L1386.8 753.8L1387.4 752.6L1388.1 748.0L1388.7 751.3L1389.3 763.7L1390.0 707.2L1390.6 749.3L1391.2 763.8L1391.9 732.1L1392.5 743.1L1393.1 759.3L1393.8 713.4L1394.4 749.9L1395.0 725.5L1395.6 749.3L1396.2 752.1L1396.8 750.1L1397.5 727.9L1398.1 746.4L1398.7 735.2L1399.3 752.3L1399.9 740.3L1400.5 732.1L1401.1 764.7L1401.7 725.8L1402.4 739.2L1403.1 768.8L1403.9 756.2L1404.6 766.1L1405.3 732.3L1406.0 754.4L1406.7 735.5L1407.4 719.6L1408.1 763.7L1408.8 734.3L1409.5 756.0L1410.2 736.7L1410.9 765.4L1411.6 766.3L1412.2 737.0L1412.9 737.4L1413.6 707.0L1414.3 748.8L1415.0 753.7L1415.6 744.7L1416.3 772.6L1417.0 758.2L1417.6 759.8L1418.3 747.8L1419.0 730.8L1419.6 760.9L1420.3 776.1L1420.9 783.3L1421.6 763.2L1422.3 735.3L1422.9 753.2L1423.6 762.8L1424.2 738.2L1424.9 752.4L1425.5 747.1L1426.1 743.8L1426.8 739.5L1427.4 765.9L1428.0 770.5L1428.7 784.1L1429.3 754.5L1429.9 761.0L1430.6 725.3L1431.2 765.4L1431.8 787.1" stroke="#4b2e83" stroke-width="13.4"/>
<path d="M994.2 435.3L995.1 438.3L995.9 439.7L996.8 438.0L997.6 439.1L998.4 441.7L999.3 441.5L1000.1 439.7L1001.0 435.7L1001.8 437.5L1002.6 441.8L1003.4 444.1L1004.3 446.1L1005.1 441.0L1005.9 444.2L1006.7 443.3L1007.5 439.3L1008.3 446.3L1009.1 445.0L1009.9 464.1L1010.7 452.5L1011.5 449.2L1012.3 451.7L1013.1 453.0L1013.9 457.5L1014.6 454.6L1015.4 457.3L1016.2 454.2L1017.0 457.1L1017.7 457.8L1018.5 456.3L1019.2 453.7L1020.0 457.4L1020.8 452.8L1021.5 458.9L1022.3 453.6L1023.0 452.5L1023.8 461.1L1024.5 453.8L1025.3 467.6L1026.0 452.5L1026.7 454.4L1027.5 456.3L1028.2 454.9L1028.9 463.0L1029.6 457.2L1030.4 456.1L1031.1 464.8L1031.8 464.2L1032.5 454.6L1033.2 461.3L1033.9 467.3L1034.6 462.0L1035.4 464.3L1036.1 465.2L1036.8 458.9L1037.5 464.5L1038.2 471.3L1038.8 486.6L1039.5 470.5L1040.2 460.7L1040.9 464.9L1041.6 474.5L1042.3 476.7L1043.0 472.9L1043.6 477.1L1044.3 479.1L1045.0 479.5L1045.7 472.0L1046.3 480.5L1047.0 466.6L1047.7 478.3L1048.3 471.4L1049.0 478.0L1049.6 472.2L1050.3 468.9L1050.9 478.4L1051.6 478.1L1052.3 478.4L1052.9 478.9L1053.5 478.4L1054.2 482.5L1054.8 481.5L1055.5 484.6L1056.1 488.0L1056.7 481.6L1057.4 481.8L1058.0 497.4L1058.6 475.8L1059.3 466.6L1059.9 480.0L1060.5 473.3L1061.1 482.7L1061.8 485.0L1062.4 474.3L1063.0 476.0L1063.6 482.5L1064.2 484.2L1064.8 472.8L1065.5 481.1L1066.1 478.2L1066.7 472.0L1067.3 477.4L1067.9 476.8L1068.5 479.4L1069.7 479.1L1070.9 477.9L1072.0 478.4L1073.2 478.3L1074.4 480.9L1075.6 482.7L1076.7 483.3L1077.9 476.7L1079.0 477.8L1080.1 479.0L1081.3 488.0L1082.4 484.9L1083.5 480.6L1084.6 480.6L1085.7 483.4L1086.8 489.8L1087.9 487.4L1089.0 494.0L1090.1 499.6L1091.2 493.2L1092.3 498.0L1093.3 488.3L1094.4 496.2L1095.4 496.1L1096.5 491.2L1097.5 500.9L1098.6 495.3L1099.6 492.5L1100.6 494.3L1101.7 499.7L1102.7 502.5L1103.7 496.6L1104.7 480.6L1105.7 497.2L1106.7 494.1L1107.7 496.2L1108.7 499.9L1109.7 496.9L1110.7 499.2L1111.7 500.0L1112.6 498.9L1113.6 498.2L1114.6 497.3L1115.5 499.4L1116.5 501.3L1117.4 503.6L1118.4 502.7L1119.3 490.0L1120.2 495.2L1121.2 495.5L1122.1 498.2L1123.0 497.0L1123.9 485.3L1124.9 492.5L1125.8 483.0L1126.7 488.7L1127.6 487.0L1128.5 488.8L1129.4 499.2L1130.3 489.9L1131.2 483.7L1132.0 493.6L1132.9 498.4L1133.8 486.0L1134.7 502.6L1135.6 494.2L1136.4 495.7L1137.3 503.5L1138.1 508.6L1139.0 520.6L1139.8 514.7L1140.7 510.3L1141.5 513.6L1142.4 510.9L1143.2 519.3L1144.1 520.9L1144.9 516.3L1145.7 524.1L1146.5 511.5L1147.4 518.0L1148.2 516.7L1149.0 519.1L1149.8 514.9L1150.6 528.2L1151.4 519.4L1152.2 523.6L1153.0 530.1L1153.8 532.3L1154.6 530.4L1155.4 514.0L1156.2 513.5L1157.0 523.5L1157.8 528.7L1158.5 521.6L1159.3 522.9L1160.1 528.7L1160.9 523.7L1161.6 519.5L1162.4 518.5L1163.1 527.2L1163.9 518.0L1164.7 530.3L1165.4 524.4L1166.2 524.6L1166.9 528.4L1167.7 533.4L1168.4 531.8L1169.1 523.0L1169.9 521.5L1170.6 541.8L1171.3 533.9L1172.1 521.1L1172.8 544.1L1173.5 529.4L1174.2 548.3L1175.0 548.3L1175.7 544.6L1176.4 541.2L1177.1 537.3L1177.8 547.3L1178.5 540.9L1179.2 549.2L1179.9 542.7L1180.6 536.6L1181.3 541.7L1182.0 546.3L1182.7 544.0L1183.4 547.8L1184.1 542.9L1184.8 556.7L1185.5 546.1L1186.1 552.2L1186.8 541.2L1187.5 555.0L1188.2 559.3L1188.8 554.7L1189.5 550.6L1190.2 547.3L1190.8 555.8L1191.5 556.0L1192.2 546.3L1192.8 553.7L1193.5 568.2L1194.1 550.1L1194.8 557.9L1195.4 553.5L1196.1 563.1L1196.7 540.3L1197.4 567.8L1198.0 557.0L1198.7 546.5L1199.3 552.0L1199.9 552.7L1200.6 562.7L1201.2 556.0L1201.8 558.1L1202.5 559.1L1203.1 572.6L1203.7 557.3L1204.3 569.4L1205.0 557.9L1205.6 550.4L1206.2 554.7L1206.8 552.5L1207.4 557.5L1208.1 551.6L1208.7 554.7L1209.3 570.5L1209.9 561.4L1210.5 562.1L1211.1 570.5L1211.7 551.3L1212.3 563.8L1213.2 558.3L1214.1 560.9L1215.0 557.5L1215.9 562.2L1216.7 568.7L1217.6 568.7L1218.5 563.8L1219.4 567.7L1220.2 556.9L1221.1 547.7L1221.9 570.9L1222.8 577.2L1223.7 568.9L1224.5 563.3L1225.4 567.8L1226.2 575.1L1227.0 562.0L1227.9 569.8L1228.7 573.5L1229.5 564.7L1230.4 570.6L1231.2 576.5L1232.0 582.8L1232.8 568.7L1233.6 578.0L1234.4 587.5L1235.2 583.0L1236.0 589.5L1236.8 573.1L1237.6 585.2L1238.4 575.7L1239.2 586.2L1240.0 592.7L1240.8 583.2L1241.6 587.0L1242.4 597.9L1243.1 601.8L1243.9 599.0L1244.7 597.6L1245.4 609.1L1246.2 610.2L1247.0 601.2L1247.7 606.8L1248.5 600.4L1249.2 604.1L1250.0 611.5L1250.7 604.9L1251.5 603.2L1252.2 602.8L1253.0 610.2L1253.7 617.6L1254.4 613.7L1255.2 606.9L1255.9 613.9L1256.6 615.4L1257.3 619.3L1258.1 605.6L1258.8 614.8L1259.5 608.3L1260.2 607.7L1260.9 620.5L1261.6 616.1L1262.4 613.3L1263.1 622.8L1263.8 614.8L1264.5 607.7L1265.2 612.4L1265.8 608.2L1266.5 609.0L1267.2 612.8L1267.9 615.2L1268.6 623.6L1269.3 614.7L1270.0 604.0L1270.7 614.0L1271.3 621.2L1272.0 618.4L1272.7 618.8L1273.3 610.7L1274.0 617.6L1274.7 625.8L1275.3 626.5L1276.0 615.4L1276.7 621.5L1277.3 615.2L1278.0 631.3L1278.6 617.8L1279.3 627.6L1279.9 618.0L1280.6 617.7L1281.2 624.8L1281.9 634.0L1282.5 621.9L1283.2 637.4L1283.8 627.2L1284.4 634.5L1285.1 650.4L1285.7 649.2L1286.3 632.1L1286.9 630.7L1287.6 629.6L1288.2 638.5L1288.8 616.1L1289.4 627.8L1290.1 634.1L1290.7 629.3L1291.3 628.2L1291.9 650.6L1292.5 625.8L1293.1 636.5L1293.7 636.2L1294.3 638.2L1294.9 633.7L1295.5 652.2L1296.1 644.7L1296.9 664.2L1297.7 635.2L1298.5 651.2L1299.3 638.6L1300.1 655.0L1300.9 665.8L1301.7 643.8L1302.4 666.9L1303.2 649.7L1304.0 647.5L1304.8 664.1L1305.5 669.9L1306.3 664.8L1307.0 668.0L1307.8 665.6L1308.6 661.7L1309.3 645.0L1310.1 665.7L1310.8 663.3L1311.5 678.5L1312.3 664.3L1313.0 697.7L1313.8 683.2L1314.5 672.6L1315.2 686.2L1315.9 677.0L1316.7 695.2L1317.4 675.3L1318.1 697.4L1318.8 667.9L1319.5 682.0L1320.3 680.1L1321.0 670.2L1321.7 677.3L1322.4 681.5L1323.1 666.8L1323.8 671.1L1324.5 687.8L1325.2 672.3L1325.9 702.0L1326.6 702.2L1327.3 676.3L1327.9 687.0L1328.6 689.4L1329.3 692.0L1330.0 675.9L1330.7 692.7L1331.3 676.1L1332.0 682.0L1332.7 699.9L1333.4 682.4L1334.0 670.7L1334.7 676.1L1335.4 688.3L1336.0 673.7L1336.7 672.1L1337.3 688.7L1338.0 674.8L1338.6 718.3L1339.3 681.1L1339.9 701.3L1340.6 672.3L1341.2 689.4L1341.9 707.0L1342.5 704.3L1343.1 707.1L1343.8 690.8L1344.4 703.1L1345.0 698.7L1345.7 682.2L1346.3 720.7L1346.9 695.2L1347.6 703.0L1348.2 720.3L1348.8 718.6L1349.4 748.8L1350.0 710.1L1350.6 734.1L1351.3 712.0L1351.9 715.3L1352.5 731.8L1353.1 726.0L1353.7 708.7L1354.3 715.4L1354.9 719.9L1355.5 743.5L1356.3 706.4L1357.0 722.2L1357.7 728.6L1358.5 721.8L1359.2 712.3L1360.0 733.8L1360.7 706.7L1361.4 752.2L1362.1 681.0L1362.9 692.2L1363.6 726.2L1364.3 734.4L1365.0 732.3L1365.8 716.1L1366.5 723.8L1367.2 727.2L1367.9 713.2L1368.6 722.0L1369.3 713.3L1370.0 748.2L1370.7 736.8L1371.4 723.5L1372.1 725.1L1372.8 724.3L1373.5 727.2L1374.1 737.5L1374.8 727.7L1375.5 725.8L1376.2 741.2L1376.9 732.7L1377.5 736.1L1378.2 737.9L1378.9 734.2L1379.6 719.0L1380.2 734.2L1380.9 759.0L1381.6 724.5L1382.2 725.3L1382.9 732.4L1383.5 733.3L1384.2 763.8L1384.8 735.3L1385.5 760.6L1386.1 754.7L1386.8 753.8L1387.4 752.6L1388.1 748.0L1388.7 751.3L1389.3 763.7L1390.0 707.2L1390.6 749.3L1391.2 763.8L1391.9 732.1L1392.5 743.1L1393.1 759.3L1393.8 713.4L1394.4 749.9L1395.0 725.5L1395.6 749.3L1396.2 752.1L1396.8 750.1L1397.5 727.9L1398.1 746.4L1398.7 735.2L1399.3 752.3L1399.9 740.3L1400.5 732.1L1401.1 764.7L1401.7 725.8L1402.4 739.2L1403.1 768.8L1403.9 756.2L1404.6 766.1L1405.3 732.3L1406.0 754.4L1406.7 735.5L1407.4 719.6L1408.1 763.7L1408.8 734.3L1409.5 756.0L1410.2 736.7L1410.9 765.4L1411.6 766.3L1412.2 737.0L1412.9 737.4L1413.6 707.0L1414.3 748.8L1415.0 753.7L1415.6 744.7L1416.3 772.6L1417.0 758.2L1417.6 759.8L1418.3 747.8L1419.0 730.8L1419.6 760.9L1420.3 776.1L1420.9 783.3L1421.6 763.2L1422.3 735.3L1422.9 753.2L1423.6 762.8L1424.2 738.2L1424.9 752.4L1425.5 747.1L1426.1 743.8L1426.8 739.5L1427.4 765.9L1428.0 770.5L1428.7 784.1L1429.3 754.5L1429.9 761.0L1430.6 725.3L1431.2 765.4L1431.8 787.1" stroke="#d95319" stroke-width="6"/>
<path d="M145.6 201.8L191.8 218.7L229.6 236.2L261.5 246.5L289.1 256.3L313.5 276.5L335.3 281.6L355.1 296.4L373.1 307.3L389.6 312.3L405.0 333.9L419.3 340.9L432.6 341.6L445.2 345.7L457.0 342.5L468.2 364.4L478.8 361.2L488.9 361.4L498.6 362.6L507.8 379.4L516.6 374.8L525.0 374.9L533.2 378.5L541.0 379.9L548.5 383.3L555.8 399.2L562.8 390.7L569.6 394.7L576.1 405.6L582.5 403.9L588.7 396.9L594.7 421.3L600.5 421.4L606.2 412.4L611.7 425.4L617.1 430.6L622.4 428.0L627.5 416.8L632.5 443.2L637.3 431.1L642.1 428.1L646.7 447.3L651.3 463.5L655.7 460.6L660.1 460.8L664.4 459.7L668.6 463.1L672.7 463.9L676.7 454.6L680.6 454.6L684.5 475.1L688.3 472.3L692.0 468.5L695.7 468.9L699.3 467.4L702.8 472.5L706.3 473.6L709.7 479.6L713.1 472.2L716.4 482.2L719.7 464.5L722.9 484.4L726.0 484.8L729.1 485.0L732.2 481.3L735.2 493.5L738.2 485.6L741.2 478.0L744.1 493.7L746.9 473.4L749.7 486.6L752.5 472.4L755.2 485.0L758.0 512.7L760.6 495.3L763.3 486.4L765.9 494.5L768.4 500.2L771.0 479.5L773.5 481.7L776.0 493.6L778.4 482.6L780.8 506.7L783.2 489.3L785.6 491.6L787.9 513.6L790.3 498.4L792.5 506.2L794.8 499.6L797.0 487.7L799.3 508.6L801.4 494.2L803.6 501.1L805.8 512.0L807.9 509.7L810.0 506.1L812.1 499.5L814.1 516.3L816.2 520.6L818.2 493.6L820.2 515.3L822.2 507.9L824.1 517.5L826.1 513.7L828.0 526.2L829.9 508.9L831.8 518.9L833.7 521.1L835.5 527.2L837.4 518.3L839.2 514.1L841.0 518.7L842.8 527.6L844.6 532.8L846.3 515.4L848.1 514.4L849.8 515.2L851.5 522.3L853.2 519.2L854.9 509.3L856.6 531.5L858.3 526.9L859.9 525.4L861.6 521.3L863.2 522.3L864.8 518.4L866.4 537.3L868.0 536.9L869.6 548.6L871.1 539.6L872.7 559.5L874.2 544.4L875.7 561.4L877.2 554.2L878.8 550.3L880.3 535.8L881.7 552.5L883.2 551.1L884.7 550.8L886.1 532.3L887.6 525.6L889.0 545.0L890.4 550.4L891.8 521.2L893.2 543.2L894.6 556.8L896.0 559.1L897.4 553.8L898.8 550.5L900.1 553.4L901.5 556.3L902.8 567.7L904.1 556.8L905.5 567.6L906.8 546.0L908.1 562.1L909.4 544.8L910.7 559.4L912.0 552.0L913.2 561.6L914.5 563.2L915.8 543.0L917.0 558.4L918.2 556.8L919.5 560.5L920.7 574.7L921.9 577.5L923.1 550.9L924.4 572.2L925.6 566.4L926.7 539.6L927.9 561.0L929.1 555.9L930.3 561.2L931.5 566.6L932.6 558.9L933.8 573.0L934.9 569.5L936.1 565.3L937.2 535.7L938.3 585.8L939.4 554.9L940.6 561.6L941.7 543.9L942.8 558.7L943.9 563.4L945.0 563.2L946.1 560.2L947.1 555.2L948.2 561.5L949.3 557.0L950.3 552.5L951.4 578.4L952.5 566.8L953.5 536.9L954.5 571.4L955.6 556.5L956.6 550.4L957.6 594.1L958.7 548.3L959.7 569.8L960.7 564.6L961.7 568.6L962.7 582.5L963.7 591.1L964.7 601.1L965.7 574.6L966.7 599.4L967.6 589.4L968.6 585.8L969.6 575.8L970.6 572.9L971.5 579.5L972.5 603.8L973.4 573.4L974.4 565.3L975.3 584.8L976.3 585.8L977.2 602.9L978.1 580.7L979.0 595.8L980.0 579.1L980.9 587.6L981.8 573.9L982.7 581.4L983.6 581.0L984.5 610.8L985.4 585.8L986.3 582.9L987.2 574.4L988.1 561.9L989.0 563.8L989.9 580.4L990.7 576.9L991.6 609.7L992.5 583.8L993.3 586.4L994.2 574.2L995.1 566.7L995.9 597.3L996.8 581.6L997.6 582.3L998.4 555.2L999.3 582.8L1000.1 586.8L1001.0 572.6L1001.8 587.5L1002.6 583.9L1003.4 602.4L1004.3 576.4L1005.1 595.9L1005.9 564.2L1006.7 583.9L1007.5 579.5L1008.3 560.4L1009.1 587.9L1009.9 593.8L1010.7 590.6L1011.5 584.9L1012.3 595.4L1013.1 594.5L1013.9 607.1L1014.6 602.0L1015.4 614.4L1016.2 612.4L1017.0 603.3L1017.7 593.6L1018.5 627.1L1019.2 577.2L1020.0 605.0L1020.8 610.6L1021.5 596.3L1022.3 598.6L1023.0 588.8L1023.8 622.2L1024.5 607.0L1025.3 612.4L1026.0 592.3L1026.7 600.0L1027.5 616.1L1028.2 602.7L1028.9 603.6L1029.6 616.6L1030.4 605.3L1031.1 606.6L1031.8 604.9L1032.5 609.4L1033.2 622.1L1033.9 606.5L1034.6 614.1L1035.4 604.6L1036.1 608.7L1036.8 592.2L1037.5 596.3L1038.2 596.3L1038.8 625.4L1039.5 608.9L1040.2 620.2L1040.9 590.5L1041.6 593.3L1042.3 603.1L1043.0 605.0L1043.6 584.5L1044.3 596.8L1045.0 606.1L1045.7 607.4L1046.3 596.6L1047.0 609.9L1047.7 569.2L1048.3 609.2L1049.0 600.4L1049.6 603.1L1050.3 591.6L1050.9 580.6L1051.6 590.1L1052.3 600.2L1052.9 616.6L1053.5 607.1L1054.2 627.1L1054.8 601.5L1055.5 617.3L1056.1 609.8L1056.7 604.4L1057.4 595.6L1058.0 594.7L1058.6 600.5L1059.3 595.9L1059.9 604.2L1060.5 621.4L1061.1 603.3L1061.8 591.0L1062.4 616.3L1063.0 615.5L1063.6 610.8L1064.2 621.9L1064.8 598.3L1065.5 620.1L1066.1 631.2L1066.7 596.4L1067.3 603.3L1067.9 590.5L1068.5 630.1L1069.7 606.2L1070.9 600.2L1072.0 613.2L1073.2 607.3L1074.4 610.3L1075.6 592.7L1076.7 604.5L1077.9 643.1L1079.0 616.0L1080.1 636.4L1081.3 594.0L1082.4 591.7L1083.5 605.8L1084.6 614.2L1085.7 622.2L1086.8 611.1L1087.9 603.0M145.6 215.6L191.8 228.3L229.6 241.7L261.5 254.6L289.1 269.8L313.5 283.4L335.3 296.4L355.1 299.2L373.1 306.1L389.6 308.2L405.0 331.7L419.3 331.9L432.6 331.9L445.2 353.4L457.0 354.2L468.2 369.3L478.8 372.0L488.9 379.4L498.6 387.3L507.8 379.5L516.6 378.3L525.0 384.7L533.2 396.6L541.0 398.1L548.5 402.4L555.8 410.4L562.8 410.6L569.6 407.9L576.1 412.0L582.5 420.3L588.7 419.6L594.7 427.6L600.5 435.1L606.2 446.4L611.7 440.6L617.1 430.6L622.4 436.1L627.5 430.8L632.5 443.7L637.3 448.7L642.1 456.9L646.7 461.2L651.3 457.3L655.7 458.5L660.1 466.9L664.4 465.7L668.6 468.3L672.7 477.5L676.7 484.9L680.6 484.0L684.5 492.8L688.3 491.8L692.0 477.0L695.7 480.9L699.3 481.7L702.8 481.1L706.3 483.1L709.7 480.9L713.1 476.2L716.4 482.9L719.7 485.3L722.9 480.1L726.0 486.2L729.1 500.1L732.2 493.6L735.2 490.0L738.2 498.6L741.2 481.2L744.1 492.6L746.9 505.7L749.7 489.0L752.5 490.2L755.2 493.1L758.0 496.7L760.6 502.2L763.3 514.0L765.9 525.0L768.4 508.8L771.0 496.5L773.5 498.8L776.0 507.8L778.4 499.6L780.8 501.9L783.2 502.6L785.6 509.7L787.9 511.2L790.3 511.5L792.5 497.4L794.8 502.5L797.0 514.0L799.3 515.5L801.4 501.0L803.6 516.4L805.8 530.0L807.9 517.7L810.0 542.9L812.1 506.9L814.1 515.0L816.2 542.7L818.2 503.7L820.2 518.2L822.2 521.3L824.1 517.2L826.1 513.8L828.0 510.0L829.9 510.0L831.8 516.9L833.7 532.1L835.5 530.8L837.4 505.9L839.2 536.4L841.0 526.3L842.8 535.5L844.6 532.8L846.3 515.4L848.1 538.4L849.8 513.3L851.5 527.0L853.2 545.2L854.9 551.3L856.6 545.6L858.3 532.6L859.9 529.0L861.6 562.8L863.2 524.1L864.8 531.8L866.4 533.7L868.0 544.2L869.6 545.0L871.1 547.1L872.7 556.4L874.2 539.2L875.7 549.8L877.2 568.9L878.8 553.8L880.3 562.7L881.7 557.7L883.2 561.4L884.7 541.2L886.1 540.4L887.6 553.1L889.0 560.6L890.4 556.1L891.8 560.4L893.2 565.6L894.6 567.0L896.0 565.2L897.4 555.2L898.8 560.4L900.1 566.1L901.5 563.6L902.8 544.2L904.1 553.7L905.5 558.9L906.8 583.5L908.1 574.0L909.4 549.5L910.7 555.1L912.0 545.4L913.2 554.1L914.5 564.9L915.8 556.8L917.0 553.9L918.2 573.2L919.5 560.2L920.7 572.0L921.9 583.0L923.1 569.7L924.4 572.7L925.6 569.6L926.7 578.4L927.9 576.0L929.1 584.9L930.3 552.7L931.5 578.1L932.6 581.1L933.8 570.3L934.9 578.6L936.1 576.0L937.2 572.5L938.3 591.9L939.4 573.9L940.6 588.9L941.7 579.1L942.8 566.2L943.9 609.4L945.0 608.2L946.1 593.8L947.1 577.6L948.2 604.1L949.3 582.5L950.3 586.0L951.4 576.4L952.5 577.7L953.5 585.2L954.5 555.9L955.6 588.1L956.6 586.6L957.6 592.2L958.7 579.5L959.7 592.3L960.7 608.3L961.7 585.7L962.7 571.8L963.7 562.8L964.7 580.4L965.7 576.4L966.7 572.2L967.6 587.3L968.6 590.0L969.6 593.5L970.6 583.9L971.5 605.1L972.5 603.9L973.4 581.2L974.4 587.9L975.3 606.0L976.3 587.9L977.2 595.0L978.1 597.6L979.0 617.9L980.0 601.9L980.9 600.1L981.8 624.4L982.7 588.2L983.6 600.6L984.5 617.3L985.4 596.6L986.3 608.0L987.2 603.3L988.1 631.5L989.0 600.9L989.9 598.5L990.7 627.9L991.6 622.1L992.5 632.9L993.3 616.2L994.2 594.9L995.1 618.1L995.9 620.9L996.8 637.4L997.6 613.4L998.4 617.2L999.3 623.2L1000.1 620.2L1001.0 606.9L1001.8 632.6L1002.6 610.7L1003.4 617.2L1004.3 629.2L1005.1 610.4L1005.9 641.7L1006.7 594.8L1007.5 611.1L1008.3 650.9L1009.1 611.8L1009.9 640.4L1010.7 602.6L1011.5 619.0L1012.3 630.4L1013.1 627.4L1013.9 633.6L1014.6 611.9L1015.4 615.7L1016.2 609.3L1017.0 609.3L1017.7 607.7L1018.5 623.3L1019.2 635.4L1020.0 630.0L1020.8 608.9L1021.5 630.6L1022.3 603.7L1023.0 629.6L1023.8 607.7L1024.5 629.4L1025.3 605.0L1026.0 608.4L1026.7 628.1L1027.5 609.4L1028.2 620.0L1028.9 619.7L1029.6 645.8L1030.4 627.7L1031.1 641.1L1031.8 619.3L1032.5 619.7L1033.2 636.2L1033.9 629.2L1034.6 639.1L1035.4 657.7L1036.1 633.6L1036.8 632.3L1037.5 636.2L1038.2 643.7L1038.8 634.5L1039.5 641.4L1040.2 615.6L1040.9 650.0L1041.6 653.4L1042.3 627.9L1043.0 625.4L1043.6 661.6L1044.3 661.2L1045.0 649.5L1045.7 646.5L1046.3 658.2L1047.0 640.0L1047.7 628.6L1048.3 634.5L1049.0 627.2L1049.6 618.0L1050.3 654.5L1050.9 653.2L1051.6 639.8L1052.3 640.4L1052.9 626.8L1053.5 639.7L1054.2 639.9L1054.8 650.0L1055.5 640.9L1056.1 630.3L1056.7 642.2L1057.4 644.4L1058.0 615.8L1058.6 631.0L1059.3 645.6L1059.9 611.2L1060.5 637.2L1061.1 642.8L1061.8 641.2L1062.4 631.4L1063.0 646.8L1063.6 624.2L1064.2 639.9L1064.8 630.0L1065.5 623.1L1066.1 621.7L1066.7 626.5L1067.3 637.6L1067.9 635.0L1068.5 636.6L1069.7 652.1L1070.9 633.2L1072.0 639.8L1073.2 654.5L1074.4 646.8L1075.6 631.9L1076.7 644.7L1077.9 630.2L1079.0 639.3L1080.1 634.2L1081.3 635.0L1082.4 621.6L1083.5 622.1M145.6 241.1L191.8 267.5L229.6 283.1L261.5 298.1L289.1 305.7L313.5 324.7L335.3 326.1L355.1 337.4L373.1 358.5L389.6 360.8L405.0 372.0L419.3 375.0L432.6 376.3L445.2 383.3L457.0 393.5L468.2 401.8L478.8 407.1L488.9 415.8L498.6 409.9L507.8 417.0L516.6 428.6L525.0 413.4L533.2 424.9L541.0 436.8L548.5 441.3L555.8 435.9L562.8 437.2L569.6 442.4L576.1 432.0L582.5 442.1L588.7 452.4L594.7 453.9L600.5 459.3L606.2 458.1L611.7 468.8L617.1 471.3L622.4 469.2L627.5 469.5L632.5 470.1L637.3 470.5L642.1 486.7L646.7 484.0L651.3 497.0L655.7 479.3L660.1 493.8L664.4 492.6L668.6 497.6L672.7 507.8L676.7 487.7L680.6 487.8L684.5 496.6L688.3 497.1L692.0 507.7L695.7 494.8L699.3 503.2L702.8 505.6L706.3 511.6L709.7 518.0L713.1 527.2L716.4 527.9L719.7 540.9L722.9 521.0L726.0 524.7L729.1 528.7L732.2 534.6L735.2 527.2L738.2 536.4L741.2 546.3L744.1 555.1L746.9 520.0L749.7 542.0L752.5 541.8L755.2 564.8L758.0 566.3L760.6 545.7L763.3 559.3L765.9 565.4L768.4 560.8L771.0 547.5L773.5 548.0L776.0 564.5L778.4 558.8L780.8 586.7L783.2 572.8L785.6 579.2L787.9 579.3L790.3 588.5L792.5 597.4L794.8 572.8L797.0 585.5L799.3 578.8L801.4 589.3L803.6 595.8L805.8 574.7L807.9 585.1L810.0 596.5L812.1 580.2L814.1 595.0L816.2 583.4L818.2 583.2L820.2 601.4L822.2 588.6L824.1 584.1L826.1 590.4L828.0 606.6L829.9 597.5L831.8 597.6L833.7 604.9L835.5 592.2L837.4 600.6L839.2 592.5L841.0 565.6L842.8 575.5L844.6 573.0L846.3 593.8L848.1 586.8L849.8 571.5L851.5 588.5L853.2 576.0L854.9 584.5L856.6 585.5L858.3 600.8L859.9 573.4L861.6 592.3L863.2 573.2L864.8 582.0L866.4 587.8L868.0 597.1L869.6 576.9L871.1 615.1L872.7 619.8L874.2 596.9L875.7 604.9L877.2 602.4L878.8 596.3L880.3 626.7L881.7 619.7L883.2 615.3L884.7 622.9L886.1 602.9L887.6 608.9L889.0 631.2L890.4 629.8L891.8 628.5L893.2 601.0L894.6 599.3L896.0 609.9L897.4 614.3L898.8 625.9L900.1 639.8L901.5 618.7L902.8 638.1L904.1 647.6L905.5 646.5L906.8 624.4L908.1 640.4L909.4 628.3L910.7 637.2L912.0 651.6L913.2 633.2L914.5 673.1L915.8 639.4L917.0 675.1L918.2 644.4L919.5 640.3L920.7 653.9L921.9 655.5L923.1 649.3L924.4 654.4L925.6 657.1L926.7 644.1L927.9 655.4L929.1 649.0L930.3 667.5L931.5 660.4L932.6 664.0L933.8 665.7L934.9 667.4L936.1 670.9L937.2 658.5L938.3 657.1L939.4 676.8L940.6 659.2L941.7 658.8L942.8 663.9L943.9 665.3L945.0 668.3L946.1 672.2L947.1 667.5L948.2 664.5L949.3 677.4L950.3 659.8L951.4 667.4L952.5 666.2L953.5 660.8L954.5 675.5L955.6 669.1L956.6 689.7L957.6 707.7L958.7 667.2L959.7 687.2L960.7 693.8L961.7 678.7L962.7 681.9L963.7 701.4L964.7 693.9L965.7 704.5L966.7 689.5L967.6 687.5L968.6 698.4L969.6 699.8L970.6 701.3L971.5 710.9L972.5 695.7L973.4 694.7L974.4 688.7L975.3 682.5L976.3 672.4L977.2 724.5L978.1 718.4L979.0 697.3L980.0 700.2L980.9 712.8L981.8 694.9L982.7 712.5L983.6 725.5L984.5 701.5L985.4 708.3L986.3 697.7L987.2 698.7L988.1 688.4L989.0 692.1L989.9 692.8L990.7 702.8L991.6 710.1L992.5 704.8L993.3 707.0L994.2 702.7L995.1 698.5L995.9 709.2L996.8 710.6L997.6 709.5L998.4 704.9L999.3 676.1L1000.1 686.2L1001.0 693.1L1001.8 713.2L1002.6 705.1L1003.4 707.2L1004.3 721.0L1005.1 720.5L1005.9 709.6L1006.7 706.9L1007.5 710.1L1008.3 695.1L1009.1 693.7L1009.9 703.3L1010.7 703.9L1011.5 712.9L1012.3 690.4L1013.1 705.4L1013.9 722.0L1014.6 712.9L1015.4 735.8L1016.2 704.8L1017.0 717.6L1017.7 689.3L1018.5 712.3L1019.2 710.3L1020.0 727.6L1020.8 708.6L1021.5 721.8L1022.3 726.3L1023.0 736.5L1023.8 702.5L1024.5 750.0L1025.3 722.3L1026.0 717.0L1026.7 722.9L1027.5 716.0L1028.2 756.9L1028.9 721.3L1029.6 752.6L1030.4 719.4L1031.1 723.9L1031.8 742.5L1032.5 730.1L1033.2 705.8L1033.9 738.8L1034.6 753.6L1035.4 749.4L1036.1 730.5L1036.8 737.7L1037.5 744.0L1038.2 737.7L1038.8 754.5L1039.5 742.4L1040.2 747.0L1040.9 754.3L1041.6 753.2L1042.3 745.0L1043.0 747.9L1043.6 749.6L1044.3 742.0L1045.0 738.8L1045.7 753.5L1046.3 751.9L1047.0 761.9L1047.7 736.4L1048.3 752.2L1049.0 747.5L1049.6 734.8L1050.3 758.0L1050.9 733.5L1051.6 737.9L1052.3 731.4L1052.9 731.9L1053.5 733.8L1054.2 745.8L1054.8 750.6L1055.5 743.7L1056.1 737.9L1056.7 731.5L1057.4 739.6L1058.0 750.5L1058.6 734.7L1059.3 745.7L1059.9 723.6L1060.5 743.9L1061.1 750.2L1061.8 720.2L1062.4 727.9L1063.0 724.7L1063.6 722.9L1064.2 743.8L1064.8 755.2L1065.5 727.3L1066.1 723.5L1066.7 722.4L1067.3 728.0L1067.9 740.4L1068.5 700.8L1069.7 738.2L1070.9 725.9L1072.0 731.3L1073.2 741.1L1074.4 719.2L1075.6 713.4L1076.7 701.1L1077.9 706.8L1079.0 716.9L1080.1 739.6L1081.3 719.5L1082.4 727.0L1083.5 731.3L1084.6 704.4L1085.7 731.6L1086.8 721.9L1087.9 716.1L1089.0 723.3L1090.1 729.5L1091.2 738.0L1092.3 719.3L1093.3 729.1L1094.4 718.2L1095.4 752.0L1096.5 741.3L1097.5 724.3L1098.6 722.5L1099.6 721.2L1100.6 736.9L1101.7 740.2L1102.7 726.2L1103.7 738.9L1104.7 740.9M145.6 271.0L191.8 283.6L229.6 306.8L261.5 306.4L289.1 315.2L313.5 339.8L335.3 336.1L355.1 358.1L373.1 365.6L389.6 373.0L405.0 382.0L419.3 378.4L432.6 383.9L445.2 407.8L457.0 417.7L468.2 423.3L478.8 423.3L488.9 434.4L498.6 428.8L507.8 433.2L516.6 426.7L525.0 429.9L533.2 421.5L541.0 440.7L548.5 436.8L555.8 440.9L562.8 452.3L569.6 440.4L576.1 467.9L582.5 455.0L588.7 463.6L594.7 462.8L600.5 484.8L606.2 480.7L611.7 487.5L617.1 484.7L622.4 476.8L627.5 469.0L632.5 478.5L637.3 499.2L642.1 482.6L646.7 485.9L651.3 498.5L655.7 511.1L660.1 505.0L664.4 509.9L668.6 500.9L672.7 500.2L676.7 496.1L680.6 499.3L684.5 520.5L688.3 511.0L692.0 515.3L695.7 511.8L699.3 522.5L702.8 528.2L706.3 520.0L709.7 528.4L713.1 538.8L716.4 531.4L719.7 547.7L722.9 532.7L726.0 542.2L729.1 546.4L732.2 535.9L735.2 555.2L738.2 540.9L741.2 546.5L744.1 554.1L746.9 548.0L749.7 530.1L752.5 554.9L755.2 556.7L758.0 554.5L760.6 554.0L763.3 550.2L765.9 552.7L768.4 567.6L771.0 546.5L773.5 553.3L776.0 554.1L778.4 563.4L780.8 574.4L783.2 572.8L785.6 561.8L787.9 568.6L790.3 563.4L792.5 573.9L794.8 574.8L797.0 569.4L799.3 577.7L801.4 567.6L803.6 569.7L805.8 584.7L807.9 592.5L810.0 589.4L812.1 572.2L814.1 580.2L816.2 594.5L818.2 591.1L820.2 589.6L822.2 596.1L824.1 598.4L826.1 596.6L828.0 600.6L829.9 634.3L831.8 610.2L833.7 608.5L835.5 611.2L837.4 611.7L839.2 608.2L841.0 614.6L842.8 617.2L844.6 600.9L846.3 604.1L848.1 617.7L849.8 602.7L851.5 611.0L853.2 613.1L854.9 605.5L856.6 629.7L858.3 610.4L859.9 606.7L861.6 628.0L863.2 627.1L864.8 636.5L866.4 638.4L868.0 639.5L869.6 637.8L871.1 626.7L872.7 630.9L874.2 644.4L875.7 639.0L877.2 644.6L878.8 655.4L880.3 657.0L881.7 629.0L883.2 651.5L884.7 654.2L886.1 644.4L887.6 630.4L889.0 619.6L890.4 645.7L891.8 628.5L893.2 643.1L894.6 651.4L896.0 650.4L897.4 648.4L898.8 646.6L900.1 648.3L901.5 664.7L902.8 654.8L904.1 649.1L905.5 653.5L906.8 670.1L908.1 649.6L909.4 656.7L910.7 651.7L912.0 660.6L913.2 656.0L914.5 669.4L915.8 671.7L917.0 670.5L918.2 658.9L919.5 662.3L920.7 662.8L921.9 653.2L923.1 653.3L924.4 648.6L925.6 651.2L926.7 649.9L927.9 678.6L929.1 671.3L930.3 672.9L931.5 666.7L932.6 655.1L933.8 662.4L934.9 690.4L936.1 671.6L937.2 661.1L938.3 663.2L939.4 680.8L940.6 674.2L941.7 686.1L942.8 661.1L943.9 673.7L945.0 672.1L946.1 661.9L947.1 665.2L948.2 678.1L949.3 677.2L950.3 682.0L951.4 681.6L952.5 698.1L953.5 697.7L954.5 696.7L955.6 688.7L956.6 663.5L957.6 719.6L958.7 690.7L959.7 698.8L960.7 704.5L961.7 697.8L962.7 697.4L963.7 702.5L964.7 694.9L965.7 694.4L966.7 683.4L967.6 711.6L968.6 689.7L969.6 712.8L970.6 716.2L971.5 713.2L972.5 695.4L973.4 696.2L974.4 710.9L975.3 701.3L976.3 724.8L977.2 695.6L978.1 707.4L979.0 694.6L980.0 708.3L980.9 680.8L981.8 689.4L982.7 699.5L983.6 690.8L984.5 680.2L985.4 701.3L986.3 690.9L987.2 678.3L988.1 696.8L989.0 690.4L989.9 678.8L990.7 701.4L991.6 660.4L992.5 662.1L993.3 682.2L994.2 662.2L995.1 673.9L995.9 699.9L996.8 696.9L997.6 675.1L998.4 689.5L999.3 701.9L1000.1 699.3L1001.0 694.7L1001.8 722.2L1002.6 694.4L1003.4 714.9L1004.3 731.8L1005.1 703.7L1005.9 722.2L1006.7 709.8L1007.5 747.2L1008.3 723.7L1009.1 742.2L1009.9 731.2L1010.7 749.6L1011.5 755.1L1012.3 768.0L1013.1 728.5L1013.9 752.6L1014.6 730.0L1015.4 752.9L1016.2 744.8L1017.0 750.9L1017.7 746.7L1018.5 745.5L1019.2 740.0L1020.0 735.6L1020.8 748.2L1021.5 743.1L1022.3 748.3L1023.0 734.5L1023.8 760.1L1024.5 735.3L1025.3 729.6L1026.0 723.1L1026.7 732.5L1027.5 740.6L1028.2 741.1L1028.9 757.3L1029.6 734.6L1030.4 731.7L1031.1 736.7L1031.8 732.2L1032.5 741.0L1033.2 718.9L1033.9 759.1L1034.6 727.0L1035.4 750.9L1036.1 737.0L1036.8 749.9L1037.5 730.2L1038.2 750.8L1038.8 743.8L1039.5 740.7L1040.2 752.3L1040.9 726.5L1041.6 745.3L1042.3 768.1L1043.0 749.0L1043.6 730.7L1044.3 728.4L1045.0 736.9L1045.7 747.3L1046.3 722.3L1047.0 760.5L1047.7 730.1L1048.3 735.5L1049.0 731.2L1049.6 720.5L1050.3 729.1L1050.9 734.5L1051.6 747.9L1052.3 742.6L1052.9 739.9L1053.5 728.6L1054.2 721.7L1054.8 729.8L1055.5 746.9L1056.1 735.8L1056.7 740.4L1057.4 752.2L1058.0 742.7L1058.6 763.6L1059.3 748.4L1059.9 736.8L1060.5 761.6L1061.1 745.7L1061.8 764.4L1062.4 759.8L1063.0 781.7L1063.6 758.3L1064.2 724.4L1064.8 749.9L1065.5 725.8L1066.1 766.1L1066.7 748.5L1067.3 752.4L1067.9 751.2L1068.5 778.0L1069.7 767.5L1070.9 766.5L1072.0 770.5L1073.2 792.7L1074.4 775.5L1075.6 760.9L1076.7 767.5L1077.9 781.3L1079.0 762.4L1080.1 763.2L1081.3 771.0L1082.4 775.0L1083.5 774.9L1084.6 769.6L1085.7 764.8L1086.8 788.4L1087.9 766.2L1089.0 756.3L1090.1 766.5L1091.2 739.2L1092.3 778.5L1093.3 752.2L1094.4 759.4L1095.4 759.6L1096.5 767.5L1097.5 741.0L1098.6 739.0L1099.6 726.6L1100.6 753.3L1101.7 772.7L1102.7 743.4L1103.7 778.5L1104.7 758.5L1105.7 744.6L1106.7 776.5L1107.7 757.4L1108.7 759.7L1109.7 756.5L1110.7 755.3M145.6 282.5L191.8 296.2L229.6 312.2L261.5 324.8L289.1 342.6L313.5 348.3L335.3 360.3L355.1 362.4L373.1 369.2L389.6 391.8L405.0 398.9L419.3 398.3L432.6 409.5L445.2 417.7L457.0 413.7L468.2 425.2L478.8 436.2L488.9 434.2L498.6 444.1L507.8 440.3L516.6 427.0L525.0 433.8L533.2 445.6L541.0 456.4L548.5 456.8L555.8 456.7L562.8 451.3L569.6 457.5L576.1 461.1L582.5 483.7L588.7 468.0L594.7 484.0L600.5 478.5L606.2 490.7L611.7 489.8L617.1 479.6L622.4 475.5L627.5 474.5L632.5 477.8L637.3 503.1L642.1 500.2L646.7 501.1L651.3 510.7L655.7 502.9L660.1 516.0L664.4 512.2L668.6 521.8L672.7 508.4L676.7 518.5L680.6 524.0L684.5 515.6L688.3 520.8L692.0 529.2L695.7 507.5L699.3 516.7L702.8 546.1L706.3 537.7L709.7 537.3L713.1 537.9L716.4 547.9L719.7 545.4L722.9 551.9L726.0 551.3L729.1 550.3L732.2 548.3L735.2 553.3L738.2 563.6L741.2 561.5L744.1 557.4L746.9 558.7L749.7 556.4L752.5 547.7L755.2 557.9L758.0 575.7L760.6 575.8L763.3 567.7L765.9 593.8L768.4 600.2L771.0 583.3L773.5 574.4L776.0 593.6L778.4 590.9L780.8 599.6L783.2 596.2L785.6 605.4L787.9 585.4L790.3 594.8L792.5 599.7L794.8 594.0L797.0 587.0L799.3 605.5L801.4 600.3L803.6 600.5L805.8 613.9L807.9 593.9L810.0 620.9L812.1 612.4L814.1 608.2L816.2 597.5L818.2 602.0L820.2 629.1L822.2 625.2L824.1 621.8L826.1 631.9L828.0 618.4L829.9 629.0L831.8 620.9L833.7 616.0L835.5 643.3L837.4 639.2L839.2 630.6L841.0 625.8L842.8 642.1L844.6 637.0L846.3 635.1L848.1 632.8L849.8 648.3L851.5 643.4L853.2 628.6L854.9 632.2L856.6 644.2L858.3 649.2L859.9 649.5L861.6 654.4L863.2 669.0L864.8 672.4L866.4 648.4L868.0 665.7L869.6 652.2L871.1 667.2L872.7 659.0L874.2 661.0L875.7 664.4L877.2 666.4L878.8 663.6L880.3 666.9L881.7 684.6L883.2 669.7L884.7 663.5L886.1 660.0L887.6 676.8L889.0 653.7L890.4 654.1L891.8 663.7L893.2 664.0L894.6 668.5L896.0 673.4L897.4 673.8L898.8 687.2L900.1 678.9L901.5 654.3L902.8 666.5L904.1 664.4L905.5 677.2L906.8 668.0L908.1 676.2L909.4 664.6L910.7 682.5L912.0 663.4L913.2 682.2L914.5 675.7L915.8 683.5L917.0 666.7L918.2 687.0L919.5 675.3L920.7 683.3L921.9 685.9L923.1 692.1L924.4 689.5L925.6 689.0L926.7 674.3L927.9 690.1L929.1 700.7L930.3 712.6L931.5 696.9L932.6 691.7L933.8 701.3L934.9 710.1L936.1 723.0L937.2 699.1L938.3 704.5L939.4 674.1L940.6 703.4L941.7 693.7L942.8 715.2L943.9 706.2L945.0 691.9L946.1 720.3L947.1 710.7L948.2 719.6L949.3 705.1L950.3 711.3L951.4 710.3L952.5 692.8L953.5 714.2L954.5 725.2L955.6 695.6L956.6 707.8L957.6 718.7L958.7 703.8L959.7 697.2L960.7 722.7L961.7 720.8L962.7 693.7L963.7 714.6L964.7 700.2L965.7 713.6L966.7 721.1L967.6 708.0L968.6 686.4L969.6 713.5L970.6 718.2L971.5 715.2L972.5 711.2L973.4 729.8L974.4 720.2L975.3 732.2L976.3 728.3L977.2 738.9L978.1 724.0L979.0 724.6L980.0 728.8L980.9 725.5L981.8 733.0L982.7 727.2L983.6 755.1L984.5 728.0L985.4 707.8L986.3 753.2L987.2 733.0L988.1 735.4L989.0 745.5L989.9 738.5L990.7 760.0L991.6 748.4L992.5 745.7L993.3 748.6L994.2 735.3L995.1 737.3L995.9 734.8L996.8 734.3L997.6 739.1L998.4 742.0L999.3 744.0L1000.1 746.0L1001.0 751.4L1001.8 735.2L1002.6 744.7L1003.4 747.8L1004.3 769.9L1005.1 765.2L1005.9 756.6L1006.7 761.7L1007.5 740.2L1008.3 744.8L1009.1 751.1L1009.9 749.0L1010.7 757.4L1011.5 770.5L1012.3 736.2L1013.1 746.5L1013.9 751.1L1014.6 750.5L1015.4 750.8L1016.2 749.7L1017.0 765.2L1017.7 741.4L1018.5 745.8L1019.2 754.6L1020.0 757.1L1020.8 729.7L1021.5 772.4L1022.3 747.9L1023.0 748.9L1023.8 766.0L1024.5 751.2L1025.3 747.5L1026.0 773.7L1026.7 751.1L1027.5 753.8L1028.2 753.9L1028.9 759.0L1029.6 740.1L1030.4 758.3L1031.1 774.9L1031.8 754.3L1032.5 778.4L1033.2 753.2L1033.9 766.0L1034.6 768.0L1035.4 788.9L1036.1 775.3L1036.8 757.6L1037.5 763.0L1038.2 783.0L1038.8 786.3L1039.5 779.4L1040.2 752.2L1040.9 792.6L1041.6 769.7L1042.3 775.8L1043.0 758.5L1043.6 764.3L1044.3 764.5L1045.0 777.6L1045.7 778.2L1046.3 786.4L1047.0 784.5L1047.7 799.7L1048.3 797.9L1049.0 784.5L1049.6 782.0L1050.3 774.2L1050.9 772.3L1051.6 779.9L1052.3 803.8L1052.9 782.3L1053.5 777.0L1054.2 795.9L1054.8 796.3L1055.5 809.4L1056.1 785.0L1056.7 789.9L1057.4 800.2L1058.0 792.5L1058.6 803.8L1059.3 776.2L1059.9 787.8L1060.5 790.2L1061.1 795.5L1061.8 798.3L1062.4 782.4L1063.0 788.7L1063.6 784.0L1064.2 779.9L1064.8 792.8L1065.5 791.4L1066.1 804.0L1066.7 778.1L1067.3 771.4L1067.9 797.1L1068.5 797.8L1069.7 798.4L1070.9 800.5L1072.0 826.6L1073.2 777.5L1074.4 789.1L1075.6 798.8L1076.7 789.4L1077.9 784.4L1079.0 794.0L1080.1 794.4L1081.3 803.5L1082.4 798.2L1083.5 804.6L1084.6 811.4L1085.7 772.7L1086.8 814.8L1087.9 789.1L1089.0 785.1L1090.1 824.8L1091.2 795.2L1092.3 793.7L1093.3 794.8L1094.4 793.0L1095.4 776.1L1096.5 793.8L1097.5 795.8L1098.6 798.0L1099.6 793.3L1100.6 789.3L1101.7 796.3L1102.7 812.7L1103.7 801.8L1104.7 763.5L1105.7 784.5L1106.7 820.4L1107.7 765.8L1108.7 781.0" stroke="#cccccc" stroke-width="3"/>
<path d="M145.5 444.0H592" stroke="#000" stroke-width="4.6" stroke-linecap="butt" stroke-dasharray="19.55 19.55" stroke-dashoffset="19.55"/>
<path d="M145.5 614.5H912" stroke="#000" stroke-width="4.6" stroke-linecap="butt" stroke-dasharray="19.55 19.55" stroke-dashoffset="19.55"/>
<path d="M145.5 785.0H1100" stroke="#000" stroke-width="4.6" stroke-linecap="butt" stroke-dasharray="19.55 19.55" stroke-dashoffset="19.55"/>
<path d="M145.6 244.0L191.8 257.2L229.6 271.9L261.5 283.7L289.1 296.6L313.5 310.5L335.3 318.7L355.1 326.0L373.1 335.3L389.6 344.5L405.0 355.4L419.3 362.9L432.6 368.8L445.2 378.0L457.0 383.6L468.2 389.9L478.8 395.9L488.9 397.7L498.6 399.6L507.8 403.2L516.6 405.6L525.0 403.3L533.2 411.4L541.0 420.6L548.5 423.8L555.8 424.8L562.8 427.1L569.6 429.5L576.1 434.7L582.5 440.2L588.7 442.7L594.7 444.1" stroke="#9966ff" stroke-width="9"/>
<path d="M594.7 444.1L600.5 448.8L606.2 451.3L611.7 456.6L617.1 459.2L622.4 456.4L627.5 460.0L632.5 465.5L637.3 468.9L642.1 471.7L646.7 474.8L651.3 480.7L655.7 483.2L660.1 484.3L664.4 486.2L668.6 483.4L672.7 481.0L676.7 488.0L680.6 489.9L684.5 490.9L688.3 497.3L692.0 493.7L695.7 491.8L699.3 495.5L702.8 492.6L706.3 497.0L709.7 501.3L713.1 505.2L716.4 505.8L719.7 507.5L722.9 509.5L726.0 513.5L729.1 517.3L732.2 514.7L735.2 515.3L738.2 519.3L741.2 519.2L744.1 518.0L746.9 521.4L749.7 521.8L752.5 518.9L755.2 521.8L758.0 526.3L760.6 526.4L763.3 526.4L765.9 529.5L768.4 527.3L771.0 529.9L773.5 527.7L776.0 528.2L778.4 531.8L780.8 535.1L783.2 538.2L785.6 537.5L787.9 544.4L790.3 543.1L792.5 536.9L794.8 538.2L797.0 542.5L799.3 541.5L801.4 544.9L803.6 548.8L805.8 549.0L807.9 550.2L810.0 550.2L812.1 551.9L814.1 553.8L816.2 557.9L818.2 556.8L820.2 554.3L822.2 557.8L824.1 556.4L826.1 553.4L828.0 558.4L829.9 562.7L831.8 560.1L833.7 565.4L835.5 563.6L837.4 564.6L839.2 561.1L841.0 569.2L842.8 564.6L844.6 565.7L846.3 561.5L848.1 558.5L849.8 565.2L851.5 562.4L853.2 571.2L854.9 568.9L856.6 576.2L858.3 572.5L859.9 572.2L861.6 581.0L863.2 580.3L864.8 581.9L866.4 586.0L868.0 582.2L869.6 582.5L871.1 584.1L872.7 584.1L874.2 585.0L875.7 587.7L877.2 589.9L878.8 592.5L880.3 591.8L881.7 594.5L883.2 595.9L884.7 592.3L886.1 593.0L887.6 588.5L889.0 590.8L890.4 592.7L891.8 591.5L893.2 590.8L894.6 596.3L896.0 598.5L897.4 604.2L898.8 600.9L900.1 608.1L901.5 597.5L902.8 603.6L904.1 603.5L905.5 604.1L906.8 604.1L908.1 605.8L909.4 610.9L910.7 606.3L912.0 610.4L913.2 607.3L914.5 608.2L915.8 601.8L917.0 608.9L918.2 610.7L919.5 606.3L920.7 608.1L921.9 607.8L923.1 616.4L924.4 608.2L925.6 609.3L926.7 604.4L927.9 608.4L929.1 614.2L930.3 610.9L931.5 607.6L932.6 615.3L933.8 617.2L934.9 618.4L936.1 619.5L937.2 617.6L938.3 628.0L939.4 619.3L940.6 622.9L941.7 618.9L942.8 621.5L943.9 619.7L945.0 625.4L946.1 624.4L947.1 623.5L948.2 621.4L949.3 629.4L950.3 630.9L951.4 631.7L952.5 629.9L953.5 632.8L954.5 634.2L955.6 633.8L956.6 637.2L957.6 633.4L958.7 635.2L959.7 630.9L960.7 642.0L961.7 634.6L962.7 638.4L963.7 640.0L964.7 636.6L965.7 639.5L966.7 642.3L967.6 640.6L968.6 640.5L969.6 641.0L970.6 640.4L971.5 642.4L972.5 644.5L973.4 645.2L974.4 647.6L975.3 645.1L976.3 643.9L977.2 648.3L978.1 647.4L979.0 649.8L980.0 647.9L980.9 649.4L981.8 649.4L982.7 650.9L983.6 646.4L984.5 649.4L985.4 650.7L986.3 655.6L987.2 650.9L988.1 652.9L989.0 651.5L989.9 646.4L990.7 656.5L991.6 655.3L992.5 657.4L993.3 650.2L994.2 655.5L995.1 655.6L995.9 650.9L996.8 657.3L997.6 654.6L998.4 658.3L999.3 652.3L1000.1 655.1L1001.0 656.0L1001.8 654.0L1002.6 659.1L1003.4 663.3L1004.3 659.7L1005.1 662.1L1005.9 665.1L1006.7 662.7L1007.5 660.3L1008.3 656.0L1009.1 663.4L1009.9 661.7L1010.7 661.7L1011.5 665.7L1012.3 665.6L1013.1 659.3L1013.9 665.4L1014.6 664.0L1015.4 668.1L1016.2 665.8L1017.0 669.1L1017.7 664.5L1018.5 665.7L1019.2 665.6L1020.0 667.1L1020.8 667.3L1021.5 672.3L1022.3 665.7L1023.0 669.5L1023.8 665.8L1024.5 665.3L1025.3 668.4L1026.0 665.8L1026.7 671.7L1027.5 669.0L1028.2 670.0L1028.9 673.7L1029.6 677.7L1030.4 671.1L1031.1 666.7L1031.8 672.3L1032.5 674.0L1033.2 678.2L1033.9 674.6L1034.6 672.1L1035.4 678.6L1036.1 679.5L1036.8 675.5L1037.5 677.5L1038.2 678.1L1038.8 686.1L1039.5 675.5L1040.2 676.2L1040.9 676.9L1041.6 679.3L1042.3 675.3L1043.0 677.7L1043.6 678.6L1044.3 681.9L1045.0 674.0L1045.7 673.0L1046.3 672.5L1047.0 666.6L1047.7 668.6L1048.3 672.9L1049.0 672.4L1049.6 681.6L1050.3 677.2L1050.9 675.9L1051.6 678.9L1052.3 671.6L1052.9 672.3L1053.5 672.1L1054.2 674.6L1054.8 683.5L1055.5 675.1L1056.1 674.1L1056.7 677.0L1057.4 680.4L1058.0 679.5L1058.6 681.3L1059.3 674.0L1059.9 675.7L1060.5 678.5L1061.1 680.1L1061.8 685.2L1062.4 675.8L1063.0 683.3L1063.6 680.2L1064.2 683.6L1064.8 678.9L1065.5 676.3L1066.1 686.2L1066.7 683.0L1067.3 674.6L1067.9 684.9L1068.5 678.5L1069.7 682.3L1070.9 682.9L1072.0 678.1L1073.2 687.9L1074.4 681.9L1075.6 690.6L1076.7 686.4L1077.9 686.8L1079.0 686.2L1080.1 693.2L1081.3 681.6L1082.4 682.9L1083.5 683.6L1084.6 691.3L1085.7 691.2L1086.8 696.8L1087.9 710.0L1089.0 714.1L1090.1 729.4L1091.2 724.4L1092.3 728.0L1093.3 728.3L1094.4 734.5L1095.4 734.3L1096.5 741.1L1097.5 746.3L1098.6 749.1L1099.6 753.9L1100.6 763.6L1101.7 768.8L1102.7 775.6L1103.7 783.9L1104.7 770.1L1105.7 762.8L1106.7 764.6L1107.7 767.7L1108.7 757.1L1109.7 748.0L1110.7 764.2L1111.7 759.6L1112.6 750.9L1113.6 754.4L1114.6 759.2L1115.5 751.7L1116.5 744.9L1117.4 739.3L1118.4 728.2L1119.3 726.2L1120.2 710.0L1121.2 711.7L1122.1 704.3L1123.0 704.1L1123.9 702.1L1124.9 710.7L1125.8 718.0L1126.7 724.8L1127.6 708.0L1128.5 730.8L1129.4 732.2L1130.3 746.6L1131.2 745.4" stroke="#9966ff" stroke-width="7.6"/>
<path d="M594.7 444.1L600.5 448.8L606.2 451.3L611.7 456.6L617.1 459.2L622.4 456.4L627.5 460.0L632.5 465.5L637.3 468.9L642.1 471.7L646.7 474.8L651.3 480.7L655.7 483.2L660.1 484.3L664.4 486.2L668.6 483.4L672.7 481.0L676.7 488.0L680.6 489.9L684.5 490.9L688.3 497.3L692.0 493.7L695.7 491.8L699.3 495.5L702.8 492.6L706.3 497.0L709.7 501.3L713.1 505.2L716.4 505.8L719.7 507.5L722.9 509.5L726.0 513.5L729.1 517.3L732.2 514.7L735.2 515.3L738.2 519.3L741.2 519.2L744.1 518.0L746.9 521.4L749.7 521.8L752.5 518.9L755.2 521.8L758.0 526.3L760.6 526.4L763.3 526.4L765.9 529.5L768.4 527.3L771.0 529.9L773.5 527.7L776.0 528.2L778.4 531.8L780.8 535.1L783.2 538.2L785.6 537.5L787.9 544.4L790.3 543.1L792.5 536.9L794.8 538.2L797.0 542.5L799.3 541.5L801.4 544.9L803.6 548.8L805.8 549.0L807.9 550.2L810.0 550.2L812.1 551.9L814.1 553.8L816.2 557.9L818.2 556.8L820.2 554.3L822.2 557.8L824.1 556.4L826.1 553.4L828.0 558.4L829.9 562.7L831.8 560.1L833.7 565.4L835.5 563.6L837.4 564.6L839.2 561.1L841.0 569.2L842.8 564.6L844.6 565.7L846.3 561.5L848.1 558.5L849.8 565.2L851.5 562.4L853.2 571.2L854.9 568.9L856.6 576.2L858.3 572.5L859.9 572.2L861.6 581.0L863.2 580.3L864.8 581.9L866.4 586.0L868.0 582.2L869.6 582.5L871.1 584.1L872.7 584.1L874.2 585.0L875.7 587.7L877.2 589.9L878.8 592.5L880.3 591.8L881.7 594.5L883.2 595.9L884.7 592.3L886.1 593.0L887.6 588.5L889.0 590.8L890.4 592.7L891.8 591.5L893.2 590.8L894.6 596.3L896.0 598.5L897.4 604.2L898.8 600.9L900.1 608.1L901.5 597.5L902.8 603.6L904.1 603.5L905.5 604.1L906.8 604.1L908.1 605.8L909.4 610.9L910.7 606.3L912.0 610.4L913.2 607.3L914.5 608.2L915.8 601.8L917.0 608.9L918.2 610.7L919.5 606.3L920.7 608.1L921.9 607.8L923.1 616.4L924.4 608.2L925.6 609.3L926.7 604.4L927.9 608.4L929.1 614.2L930.3 610.9L931.5 607.6L932.6 615.3L933.8 617.2L934.9 618.4L936.1 619.5L937.2 617.6L938.3 628.0L939.4 619.3L940.6 622.9L941.7 618.9L942.8 621.5L943.9 619.7L945.0 625.4L946.1 624.4L947.1 623.5L948.2 621.4L949.3 629.4L950.3 630.9L951.4 631.7L952.5 629.9L953.5 632.8L954.5 634.2L955.6 633.8L956.6 637.2L957.6 633.4L958.7 635.2L959.7 630.9L960.7 642.0L961.7 634.6L962.7 638.4L963.7 640.0L964.7 636.6L965.7 639.5L966.7 642.3L967.6 640.6L968.6 640.5L969.6 641.0L970.6 640.4L971.5 642.4L972.5 644.5L973.4 645.2L974.4 647.6L975.3 645.1L976.3 643.9L977.2 648.3L978.1 647.4L979.0 649.8L980.0 647.9L980.9 649.4L981.8 649.4L982.7 650.9L983.6 646.4L984.5 649.4L985.4 650.7L986.3 655.6L987.2 650.9L988.1 652.9L989.0 651.5L989.9 646.4L990.7 656.5L991.6 655.3L992.5 657.4L993.3 650.2L994.2 655.5L995.1 655.6L995.9 650.9L996.8 657.3L997.6 654.6L998.4 658.3L999.3 652.3L1000.1 655.1L1001.0 656.0L1001.8 654.0L1002.6 659.1L1003.4 663.3L1004.3 659.7L1005.1 662.1L1005.9 665.1L1006.7 662.7L1007.5 660.3L1008.3 656.0L1009.1 663.4L1009.9 661.7L1010.7 661.7L1011.5 665.7L1012.3 665.6L1013.1 659.3L1013.9 665.4L1014.6 664.0L1015.4 668.1L1016.2 665.8L1017.0 669.1L1017.7 664.5L1018.5 665.7L1019.2 665.6L1020.0 667.1L1020.8 667.3L1021.5 672.3L1022.3 665.7L1023.0 669.5L1023.8 665.8L1024.5 665.3L1025.3 668.4L1026.0 665.8L1026.7 671.7L1027.5 669.0L1028.2 670.0L1028.9 673.7L1029.6 677.7L1030.4 671.1L1031.1 666.7L1031.8 672.3L1032.5 674.0L1033.2 678.2L1033.9 674.6L1034.6 672.1L1035.4 678.6L1036.1 679.5L1036.8 675.5L1037.5 677.5L1038.2 678.1L1038.8 686.1L1039.5 675.5L1040.2 676.2L1040.9 676.9L1041.6 679.3L1042.3 675.3L1043.0 677.7L1043.6 678.6L1044.3 681.9L1045.0 674.0L1045.7 673.0L1046.3 672.5L1047.0 666.6L1047.7 668.6L1048.3 672.9L1049.0 672.4L1049.6 681.6L1050.3 677.2L1050.9 675.9L1051.6 678.9L1052.3 671.6L1052.9 672.3L1053.5 672.1L1054.2 674.6L1054.8 683.5L1055.5 675.1L1056.1 674.1L1056.7 677.0L1057.4 680.4L1058.0 679.5L1058.6 681.3L1059.3 674.0L1059.9 675.7L1060.5 678.5L1061.1 680.1L1061.8 685.2L1062.4 675.8L1063.0 683.3L1063.6 680.2L1064.2 683.6L1064.8 678.9L1065.5 676.3L1066.1 686.2L1066.7 683.0L1067.3 674.6L1067.9 684.9L1068.5 678.5L1069.7 682.3L1070.9 682.9L1072.0 678.1L1073.2 687.9L1074.4 681.9L1075.6 690.6L1076.7 686.4L1077.9 686.8L1079.0 686.2L1080.1 693.2L1081.3 681.6L1082.4 682.9L1083.5 683.6L1084.6 691.3L1085.7 691.2L1086.8 696.8L1087.9 710.0L1089.0 714.1L1090.1 729.4L1091.2 724.4L1092.3 728.0L1093.3 728.3L1094.4 734.5L1095.4 734.3L1096.5 741.1L1097.5 746.3L1098.6 749.1L1099.6 753.9L1100.6 763.6L1101.7 768.8L1102.7 775.6L1103.7 783.9L1104.7 770.1L1105.7 762.8L1106.7 764.6L1107.7 767.7L1108.7 757.1L1109.7 748.0L1110.7 764.2L1111.7 759.6L1112.6 750.9L1113.6 754.4L1114.6 759.2L1115.5 751.7L1116.5 744.9L1117.4 739.3L1118.4 728.2L1119.3 726.2L1120.2 710.0L1121.2 711.7L1122.1 704.3L1123.0 704.1L1123.9 702.1L1124.9 710.7L1125.8 718.0L1126.7 724.8L1127.6 708.0L1128.5 730.8L1129.4 732.2L1130.3 746.6L1131.2 745.4" stroke="#000" stroke-width="5.6"/>
</g>
<polygon points="1557.8,602 1615.5,696.8 1615.5,965.2 1557.8,865.9" fill="#0072bd"/>
<g clip-path="url(#ax)"><path d="M1432.3 755.5L1670 923.6" stroke="#d95319" stroke-width="4.8" stroke-dasharray="19.55 19.55" fill="none"/></g>
<text x="109.9" y="1018" style='font-family:"Liberation Sans",sans-serif;font-size:39px' fill="#262626">10<tspan dy="-19.5" style="font-size:31.5px">-2</tspan></text>
<text x="586.7" y="1018" style='font-family:"Liberation Sans",sans-serif;font-size:39px' fill="#262626">10<tspan dy="-19.5" style="font-size:31.5px">-1</tspan></text>
<text x="1068.6" y="1018" style='font-family:"Liberation Sans",sans-serif;font-size:39px' fill="#262626">10<tspan dy="-19.5" style="font-size:31.5px">0</tspan></text>
<text x="1545.4" y="1018" style='font-family:"Liberation Sans",sans-serif;font-size:39px' fill="#262626">10<tspan dy="-19.5" style="font-size:31.5px">1</tspan></text>
<text x="133.2" y="977.1" text-anchor="end" style='font-family:"Liberation Sans",sans-serif;font-size:39px' fill="#000">10<tspan dy="-19.5" style="font-size:31.5px">49</tspan></text>
<text x="133.2" y="806.6" text-anchor="end" style='font-family:"Liberation Sans",sans-serif;font-size:39px' fill="#000">10<tspan dy="-19.5" style="font-size:31.5px">50</tspan></text>
<text x="133.2" y="636.1" text-anchor="end" style='font-family:"Liberation Sans",sans-serif;font-size:39px' fill="#000">10<tspan dy="-19.5" style="font-size:31.5px">51</tspan></text>
<text x="133.2" y="465.6" text-anchor="end" style='font-family:"Liberation Sans",sans-serif;font-size:39px' fill="#000">10<tspan dy="-19.5" style="font-size:31.5px">52</tspan></text>
<text x="133.2" y="295.1" text-anchor="end" style='font-family:"Liberation Sans",sans-serif;font-size:39px' fill="#000">10<tspan dy="-19.5" style="font-size:31.5px">53</tspan></text>
<text x="133.2" y="124.6" text-anchor="end" style='font-family:"Liberation Sans",sans-serif;font-size:39px' fill="#000">10<tspan dy="-19.5" style="font-size:31.5px">54</tspan></text>
<text x="1672.5" y="933.6" style='font-family:"Liberation Sans",sans-serif;font-size:39px' fill="#000">10<tspan dy="-19.5" style="font-size:31.5px">-5</tspan></text>
<text x="1672.5" y="763.1" style='font-family:"Liberation Sans",sans-serif;font-size:39px' fill="#000">10<tspan dy="-19.5" style="font-size:31.5px">-4</tspan></text>
<text x="1672.5" y="592.6" style='font-family:"Liberation Sans",sans-serif;font-size:39px' fill="#000">10<tspan dy="-19.5" style="font-size:31.5px">-3</tspan></text>
<text x="1672.5" y="422.1" style='font-family:"Liberation Sans",sans-serif;font-size:39px' fill="#000">10<tspan dy="-19.5" style="font-size:31.5px">-2</tspan></text>
<text x="1672.5" y="251.6" style='font-family:"Liberation Sans",sans-serif;font-size:39px' fill="#000">10<tspan dy="-19.5" style="font-size:31.5px">-1</tspan></text>
<text x="1672.5" y="81.1" style='font-family:"Liberation Sans",sans-serif;font-size:39px' fill="#000">10<tspan dy="-19.5" style="font-size:31.5px">0</tspan></text>
<text x="156.2" y="434.0" style='font-family:"Liberation Serif","DejaVu Serif",serif;font-size:40px' fill="#4aadad">Φ</text>
<text transform="scale(1.4 1)" x="138.14" y="438.5" style='font-family:"Liberation Serif","DejaVu Serif",serif;font-size:40px' fill="#4aadad">=</text>
<text x="235.4" y="434.0" style='font-family:"Liberation Serif","DejaVu Serif",serif;font-size:40px' fill="#4aadad">1.6</text>
<text transform="scale(1.15 1)" x="257.87" y="438.5" style='font-family:"Liberation Serif","DejaVu Serif",serif;font-size:40px' fill="#4aadad">×</text>
<text x="333.0" y="434.0" style='font-family:"Liberation Serif","DejaVu Serif",serif;font-size:40px' fill="#4aadad">10</text>
<text x="372.0" y="419.5" style='font-family:"Liberation Serif","DejaVu Serif",serif;font-size:27px' fill="#4aadad">28</text>
<text x="409.0" y="434.0" style='font-family:"Liberation Serif","DejaVu Serif",serif;font-size:40px' fill="#4aadad">G</text>
<text x="445.0" y="434.0" style='font-family:"Liberation Serif","DejaVu Serif",serif;font-size:40px' fill="#4aadad">cm</text>
<text x="496.6" y="419.5" style='font-family:"Liberation Serif","DejaVu Serif",serif;font-size:27px' fill="#4aadad">2</text>
<text transform="scale(1.15 1)" x="137.70" y="479.5" style='font-family:"Liberation Serif","DejaVu Serif",serif;font-style:italic;font-size:40px' fill="#4aadad">E</text>
<text x="187.0" y="485.5" style='font-family:"Liberation Serif","DejaVu Serif",serif;font-style:italic;font-size:28px' fill="#4aadad">j</text>
<text transform="scale(1.4 1)" x="149.21" y="484.0" style='font-family:"Liberation Serif","DejaVu Serif",serif;font-size:40px' fill="#4aadad">=</text>
<text x="250.8" y="479.5" style='font-family:"Liberation Serif","DejaVu Serif",serif;font-size:40px' fill="#4aadad">1</text>
<text transform="scale(1.15 1)" x="244.48" y="484.0" style='font-family:"Liberation Serif","DejaVu Serif",serif;font-size:40px' fill="#4aadad">×</text>
<text x="317.6" y="479.5" style='font-family:"Liberation Serif","DejaVu Serif",serif;font-size:40px' fill="#4aadad">10</text>
<text x="356.6" y="465.0" style='font-family:"Liberation Serif","DejaVu Serif",serif;font-size:27px' fill="#4aadad">52</text>
<text x="393.6" y="479.5" style='font-family:"Liberation Serif","DejaVu Serif",serif;font-size:40px' fill="#4aadad">erg</text>
<text x="156.2" y="604.5" style='font-family:"Liberation Serif","DejaVu Serif",serif;font-size:40px' fill="#4aadad">Φ</text>
<text transform="scale(1.4 1)" x="138.14" y="609.0" style='font-family:"Liberation Serif","DejaVu Serif",serif;font-size:40px' fill="#4aadad">=</text>
<text x="236.4" y="604.5" style='font-family:"Liberation Serif","DejaVu Serif",serif;font-size:40px' fill="#4aadad">5.2</text>
<text transform="scale(1.15 1)" x="257.87" y="609.0" style='font-family:"Liberation Serif","DejaVu Serif",serif;font-size:40px' fill="#4aadad">×</text>
<text x="333.0" y="604.5" style='font-family:"Liberation Serif","DejaVu Serif",serif;font-size:40px' fill="#4aadad">10</text>
<text x="372.0" y="590.0" style='font-family:"Liberation Serif","DejaVu Serif",serif;font-size:27px' fill="#4aadad">27</text>
<text x="409.0" y="604.5" style='font-family:"Liberation Serif","DejaVu Serif",serif;font-size:40px' fill="#4aadad">G</text>
<text x="445.0" y="604.5" style='font-family:"Liberation Serif","DejaVu Serif",serif;font-size:40px' fill="#4aadad">cm</text>
<text x="496.6" y="590.0" style='font-family:"Liberation Serif","DejaVu Serif",serif;font-size:27px' fill="#4aadad">2</text>
<text transform="scale(1.15 1)" x="137.70" y="650.0" style='font-family:"Liberation Serif","DejaVu Serif",serif;font-style:italic;font-size:40px' fill="#4aadad">E</text>
<text x="187.0" y="656.0" style='font-family:"Liberation Serif","DejaVu Serif",serif;font-style:italic;font-size:28px' fill="#4aadad">j</text>
<text transform="scale(1.4 1)" x="149.21" y="654.5" style='font-family:"Liberation Serif","DejaVu Serif",serif;font-size:40px' fill="#4aadad">=</text>
<text x="250.5" y="650.0" style='font-family:"Liberation Serif","DejaVu Serif",serif;font-size:40px' fill="#4aadad">3</text>
<text transform="scale(1.15 1)" x="244.48" y="654.5" style='font-family:"Liberation Serif","DejaVu Serif",serif;font-size:40px' fill="#4aadad">×</text>
<text x="317.6" y="650.0" style='font-family:"Liberation Serif","DejaVu Serif",serif;font-size:40px' fill="#4aadad">10</text>
<text x="356.6" y="635.5" style='font-family:"Liberation Serif","DejaVu Serif",serif;font-size:27px' fill="#4aadad">51</text>
<text x="393.6" y="650.0" style='font-family:"Liberation Serif","DejaVu Serif",serif;font-size:40px' fill="#4aadad">erg</text>
<text x="156.2" y="775.0" style='font-family:"Liberation Serif","DejaVu Serif",serif;font-size:40px' fill="#4aadad">Φ</text>
<text transform="scale(1.4 1)" x="138.14" y="779.5" style='font-family:"Liberation Serif","DejaVu Serif",serif;font-size:40px' fill="#4aadad">=</text>
<text x="235.4" y="775.0" style='font-family:"Liberation Serif","DejaVu Serif",serif;font-size:40px' fill="#4aadad">1.6</text>
<text transform="scale(1.15 1)" x="257.87" y="779.5" style='font-family:"Liberation Serif","DejaVu Serif",serif;font-size:40px' fill="#4aadad">×</text>
<text x="333.0" y="775.0" style='font-family:"Liberation Serif","DejaVu Serif",serif;font-size:40px' fill="#4aadad">10</text>
<text x="372.0" y="760.5" style='font-family:"Liberation Serif","DejaVu Serif",serif;font-size:27px' fill="#4aadad">27</text>
<text x="409.0" y="775.0" style='font-family:"Liberation Serif","DejaVu Serif",serif;font-size:40px' fill="#4aadad">G</text>
<text x="445.0" y="775.0" style='font-family:"Liberation Serif","DejaVu Serif",serif;font-size:40px' fill="#4aadad">cm</text>
<text x="496.6" y="760.5" style='font-family:"Liberation Serif","DejaVu Serif",serif;font-size:27px' fill="#4aadad">2</text>
<text transform="scale(1.15 1)" x="137.70" y="820.5" style='font-family:"Liberation Serif","DejaVu Serif",serif;font-style:italic;font-size:40px' fill="#4aadad">E</text>
<text x="187.0" y="826.5" style='font-family:"Liberation Serif","DejaVu Serif",serif;font-style:italic;font-size:28px' fill="#4aadad">j</text>
<text transform="scale(1.4 1)" x="149.21" y="825.0" style='font-family:"Liberation Serif","DejaVu Serif",serif;font-size:40px' fill="#4aadad">=</text>
<text x="249.5" y="820.5" style='font-family:"Liberation Serif","DejaVu Serif",serif;font-size:40px' fill="#4aadad">5</text>
<text transform="scale(1.15 1)" x="244.48" y="825.0" style='font-family:"Liberation Serif","DejaVu Serif",serif;font-size:40px' fill="#4aadad">×</text>
<text x="317.6" y="820.5" style='font-family:"Liberation Serif","DejaVu Serif",serif;font-size:40px' fill="#4aadad">10</text>
<text x="356.6" y="806.0" style='font-family:"Liberation Serif","DejaVu Serif",serif;font-size:27px' fill="#4aadad">50</text>
<text x="393.6" y="820.5" style='font-family:"Liberation Serif","DejaVu Serif",serif;font-size:40px' fill="#4aadad">erg</text>
<text x="937.6" y="710.0" style='font-family:"Liberation Serif","DejaVu Serif",serif;font-size:41.5px' fill="#000">Short</text>
<text x="911.4" y="752.6" style='font-family:"Liberation Serif","DejaVu Serif",serif;font-size:41.5px' fill="#000">cbGRBs</text>
<text x="1526.3" y="554.6" style='font-family:"Liberation Serif","DejaVu Serif",serif;font-size:41.5px' fill="#000">Long</text>
<text x="1495.0" y="596.2" style='font-family:"Liberation Serif","DejaVu Serif",serif;font-size:41.5px' fill="#000">cbGRBs</text>
<text x="867.0" y="1063.5" style='font-family:"Liberation Serif","DejaVu Serif",serif;font-style:italic;font-size:44px' fill="#000">t</text>
<text x="899.2" y="1063.5" style='font-family:"Liberation Serif","DejaVu Serif",serif;font-size:44px' fill="#000">[</text>
<text x="909.0" y="1063.5" style='font-family:"Liberation Serif","DejaVu Serif",serif;font-size:44px' fill="#000">s</text>
<text x="925.5" y="1063.5" style='font-family:"Liberation Serif","DejaVu Serif",serif;font-size:44px' fill="#000">]</text>
<g transform="translate(35.7 0) rotate(-90)">
<text x="-574.3" y="0.0" style='font-family:"Liberation Serif","DejaVu Serif",serif;font-style:italic;font-size:44px' fill="#000">P</text>
<text x="-546.5" y="5.0" style='font-family:"Liberation Serif","DejaVu Serif",serif;font-style:italic;font-size:30px' fill="#000">j</text>
<text x="-523.8" y="0.0" style='font-family:"Liberation Serif","DejaVu Serif",serif;font-size:44px' fill="#000">[</text>
<text x="-514.0" y="0.0" style='font-family:"Liberation Serif","DejaVu Serif",serif;font-size:44px' fill="#000">erg</text>
<text x="-448.6" y="0.0" style='font-family:"Liberation Serif","DejaVu Serif",serif;font-size:44px' fill="#000">s</text>
<text x="-430.4" y="-16.0" style='font-family:"Liberation Serif","DejaVu Serif",serif;font-size:30px' fill="#000">−1</text>
<text x="-391.3" y="0.0" style='font-family:"Liberation Serif","DejaVu Serif",serif;font-size:44px' fill="#000">]</text>
</g>
<g transform="translate(1790.2 0) rotate(-90)">
<text transform="scale(1.1 1)" x="-527.36" y="0.0" style='font-family:"Liberation Serif","DejaVu Serif",serif;font-style:italic;font-size:44px' fill="#000">Ṁ</text>
<text x="-527.7" y="0.0" style='font-family:"Liberation Serif","DejaVu Serif",serif;font-size:42px' fill="#000">[</text>
<text transform="scale(1.1 1)" x="-467.91" y="0.0" style='font-family:"Liberation Serif","DejaVu Serif",serif;font-style:italic;font-size:44px' fill="#000">M</text>
<text x="-476.4" y="7.5" style='font-family:"Liberation Serif","DejaVu Serif",serif;font-size:29px' fill="#000">⊙</text>
<text x="-442.7" y="0.0" style='font-family:"Liberation Serif","DejaVu Serif",serif;font-size:42px' fill="#000">s</text>
<text x="-424.2" y="-16.4" style='font-family:"Liberation Serif","DejaVu Serif",serif;font-size:29px' fill="#000">−1</text>
<text x="-385.3" y="0.0" style='font-family:"Liberation Serif","DejaVu Serif",serif;font-size:42px' fill="#000">]</text>
</g>
<rect x="1343" y="13.9" width="304" height="91.7" fill="#fff" stroke="#262626" stroke-width="1"/>
<path d="M1349.6 37.5H1398.7" stroke="#4b2e83" stroke-width="12.7"/>
<path d="M1349.6 80.7H1398.7" stroke="#9966ff" stroke-width="7.8"/>
<text transform="scale(1.12 1)" x="1255.38" y="46.8" style='font-family:"Liberation Serif","DejaVu Serif",serif;font-style:italic;font-size:36px' fill="#000">M</text>
<text x="1438.2" y="52.0" style='font-family:"Liberation Serif","DejaVu Serif",serif;font-style:italic;font-size:25px' fill="#000">d</text>
<text transform="scale(1.23 1)" x="1189.16" y="48.8" style='font-family:"Liberation Serif","DejaVu Serif",serif;font-size:36px' fill="#000">≈</text>
<text x="1499.0" y="46.8" style='font-family:"Liberation Serif","DejaVu Serif",serif;font-size:36px' fill="#000">0.1</text>
<text transform="scale(1.12 1)" x="1386.18" y="46.8" style='font-family:"Liberation Serif","DejaVu Serif",serif;font-style:italic;font-size:36px' fill="#000">M</text>
<text x="1583.4" y="53.3" style='font-family:"Liberation Serif","DejaVu Serif",serif;font-size:24px' fill="#000">⊙</text>
<text transform="scale(1.12 1)" x="1255.38" y="89.9" style='font-family:"Liberation Serif","DejaVu Serif",serif;font-style:italic;font-size:36px' fill="#000">M</text>
<text x="1438.2" y="95.1" style='font-family:"Liberation Serif","DejaVu Serif",serif;font-style:italic;font-size:25px' fill="#000">d</text>
<text transform="scale(1.4 1)" x="1044.64" y="92.6" style='font-family:"Liberation Serif","DejaVu Serif",serif;font-size:36px' fill="#000">=</text>
<text x="1499.0" y="89.9" style='font-family:"Liberation Serif","DejaVu Serif",serif;font-size:36px' fill="#000">0.007</text>
<text transform="scale(1.12 1)" x="1417.79" y="89.9" style='font-family:"Liberation Serif","DejaVu Serif",serif;font-style:italic;font-size:36px' fill="#000">M</text>
<text x="1618.0" y="96.4" style='font-family:"Liberation Serif","DejaVu Serif",serif;font-size:24px' fill="#000">⊙</text>
</svg></body></html>
